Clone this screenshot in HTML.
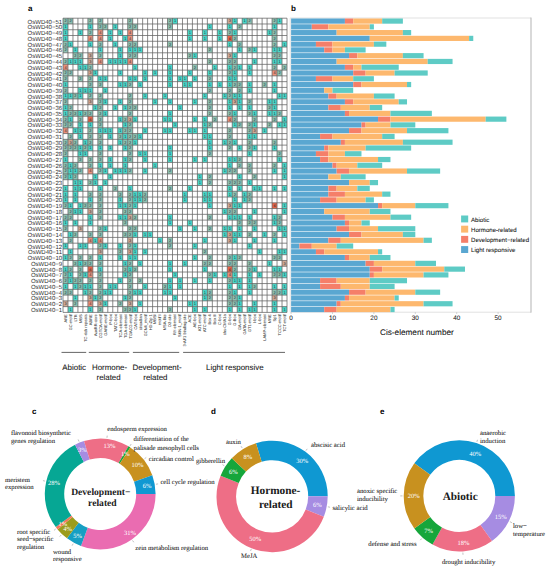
<!DOCTYPE html>
<html><head><meta charset="utf-8"><style>
html,body{margin:0;padding:0;background:#fff;}
body{width:550px;height:571px;overflow:hidden;}
svg{display:block;font-family:"Liberation Sans", sans-serif;text-rendering:geometricPrecision;}
</style></head><body>
<svg width="550" height="571" viewBox="0 0 550 571">
<rect x="63.0" y="18.2" width="224.0" height="294.2" fill="#fff"/>
<rect x="63.00" y="18.20" width="4.98" height="5.77" fill="#8cc0b0"/>
<rect x="67.98" y="18.20" width="4.98" height="5.77" fill="#8cc0b0"/>
<rect x="87.89" y="18.20" width="4.98" height="5.77" fill="#8cc0b0"/>
<rect x="97.84" y="18.20" width="4.98" height="5.77" fill="#8cc0b0"/>
<rect x="127.71" y="18.20" width="4.98" height="5.77" fill="#8cc0b0"/>
<rect x="167.53" y="18.20" width="4.98" height="5.77" fill="#8cc0b0"/>
<rect x="172.51" y="18.20" width="4.98" height="5.77" fill="#48d6c8"/>
<rect x="227.27" y="18.20" width="4.98" height="5.77" fill="#cfa894"/>
<rect x="232.24" y="18.20" width="4.98" height="5.77" fill="#48d6c8"/>
<rect x="242.20" y="18.20" width="4.98" height="5.77" fill="#48d6c8"/>
<rect x="247.18" y="18.20" width="4.98" height="5.77" fill="#8cc0b0"/>
<rect x="272.07" y="18.20" width="4.98" height="5.77" fill="#8cc0b0"/>
<rect x="277.04" y="18.20" width="4.98" height="5.77" fill="#48d6c8"/>
<rect x="63.00" y="23.97" width="4.98" height="5.77" fill="#48d6c8"/>
<rect x="87.89" y="23.97" width="4.98" height="5.77" fill="#48d6c8"/>
<rect x="97.84" y="23.97" width="4.98" height="5.77" fill="#8cc0b0"/>
<rect x="102.82" y="23.97" width="4.98" height="5.77" fill="#8cc0b0"/>
<rect x="112.78" y="23.97" width="4.98" height="5.77" fill="#48d6c8"/>
<rect x="127.71" y="23.97" width="4.98" height="5.77" fill="#8cc0b0"/>
<rect x="132.69" y="23.97" width="4.98" height="5.77" fill="#8cc0b0"/>
<rect x="167.53" y="23.97" width="4.98" height="5.77" fill="#8cc0b0"/>
<rect x="207.36" y="23.97" width="4.98" height="5.77" fill="#48d6c8"/>
<rect x="227.27" y="23.97" width="4.98" height="5.77" fill="#48d6c8"/>
<rect x="237.22" y="23.97" width="4.98" height="5.77" fill="#8cc0b0"/>
<rect x="272.07" y="23.97" width="4.98" height="5.77" fill="#48d6c8"/>
<rect x="63.00" y="29.74" width="4.98" height="5.77" fill="#48d6c8"/>
<rect x="77.93" y="29.74" width="4.98" height="5.77" fill="#48d6c8"/>
<rect x="87.89" y="29.74" width="4.98" height="5.77" fill="#8cc0b0"/>
<rect x="97.84" y="29.74" width="4.98" height="5.77" fill="#ec8f78"/>
<rect x="107.80" y="29.74" width="4.98" height="5.77" fill="#48d6c8"/>
<rect x="117.76" y="29.74" width="4.98" height="5.77" fill="#48d6c8"/>
<rect x="127.71" y="29.74" width="4.98" height="5.77" fill="#ec8f78"/>
<rect x="187.44" y="29.74" width="4.98" height="5.77" fill="#48d6c8"/>
<rect x="202.38" y="29.74" width="4.98" height="5.77" fill="#48d6c8"/>
<rect x="217.31" y="29.74" width="4.98" height="5.77" fill="#48d6c8"/>
<rect x="227.27" y="29.74" width="4.98" height="5.77" fill="#8cc0b0"/>
<rect x="232.24" y="29.74" width="4.98" height="5.77" fill="#48d6c8"/>
<rect x="267.09" y="29.74" width="4.98" height="5.77" fill="#48d6c8"/>
<rect x="272.07" y="29.74" width="4.98" height="5.77" fill="#8cc0b0"/>
<rect x="63.00" y="35.51" width="4.98" height="5.77" fill="#48d6c8"/>
<rect x="87.89" y="35.51" width="4.98" height="5.77" fill="#ec8f78"/>
<rect x="97.84" y="35.51" width="4.98" height="5.77" fill="#ec8f78"/>
<rect x="107.80" y="35.51" width="4.98" height="5.77" fill="#48d6c8"/>
<rect x="122.73" y="35.51" width="4.98" height="5.77" fill="#48d6c8"/>
<rect x="127.71" y="35.51" width="4.98" height="5.77" fill="#ec8f78"/>
<rect x="187.44" y="35.51" width="4.98" height="5.77" fill="#48d6c8"/>
<rect x="202.38" y="35.51" width="4.98" height="5.77" fill="#48d6c8"/>
<rect x="217.31" y="35.51" width="4.98" height="5.77" fill="#48d6c8"/>
<rect x="227.27" y="35.51" width="4.98" height="5.77" fill="#ea6446"/>
<rect x="232.24" y="35.51" width="4.98" height="5.77" fill="#8cc0b0"/>
<rect x="272.07" y="35.51" width="4.98" height="5.77" fill="#8cc0b0"/>
<rect x="63.00" y="41.27" width="4.98" height="5.77" fill="#8cc0b0"/>
<rect x="67.98" y="41.27" width="4.98" height="5.77" fill="#48d6c8"/>
<rect x="87.89" y="41.27" width="4.98" height="5.77" fill="#48d6c8"/>
<rect x="97.84" y="41.27" width="4.98" height="5.77" fill="#8cc0b0"/>
<rect x="112.78" y="41.27" width="4.98" height="5.77" fill="#48d6c8"/>
<rect x="127.71" y="41.27" width="4.98" height="5.77" fill="#8cc0b0"/>
<rect x="132.69" y="41.27" width="4.98" height="5.77" fill="#8cc0b0"/>
<rect x="167.53" y="41.27" width="4.98" height="5.77" fill="#8cc0b0"/>
<rect x="227.27" y="41.27" width="4.98" height="5.77" fill="#48d6c8"/>
<rect x="237.22" y="41.27" width="4.98" height="5.77" fill="#8cc0b0"/>
<rect x="272.07" y="41.27" width="4.98" height="5.77" fill="#8cc0b0"/>
<rect x="282.02" y="41.27" width="4.98" height="5.77" fill="#48d6c8"/>
<rect x="63.00" y="47.04" width="4.98" height="5.77" fill="#8cc0b0"/>
<rect x="72.96" y="47.04" width="4.98" height="5.77" fill="#48d6c8"/>
<rect x="97.84" y="47.04" width="4.98" height="5.77" fill="#48d6c8"/>
<rect x="117.76" y="47.04" width="4.98" height="5.77" fill="#48d6c8"/>
<rect x="127.71" y="47.04" width="4.98" height="5.77" fill="#48d6c8"/>
<rect x="132.69" y="47.04" width="4.98" height="5.77" fill="#48d6c8"/>
<rect x="137.67" y="47.04" width="4.98" height="5.77" fill="#48d6c8"/>
<rect x="207.36" y="47.04" width="4.98" height="5.77" fill="#8cc0b0"/>
<rect x="237.22" y="47.04" width="4.98" height="5.77" fill="#48d6c8"/>
<rect x="247.18" y="47.04" width="4.98" height="5.77" fill="#8cc0b0"/>
<rect x="252.16" y="47.04" width="4.98" height="5.77" fill="#48d6c8"/>
<rect x="272.07" y="47.04" width="4.98" height="5.77" fill="#48d6c8"/>
<rect x="277.04" y="47.04" width="4.98" height="5.77" fill="#48d6c8"/>
<rect x="72.96" y="52.81" width="4.98" height="5.77" fill="#8cc0b0"/>
<rect x="77.93" y="52.81" width="4.98" height="5.77" fill="#8cc0b0"/>
<rect x="87.89" y="52.81" width="4.98" height="5.77" fill="#cfa894"/>
<rect x="97.84" y="52.81" width="4.98" height="5.77" fill="#8cc0b0"/>
<rect x="117.76" y="52.81" width="4.98" height="5.77" fill="#48d6c8"/>
<rect x="127.71" y="52.81" width="4.98" height="5.77" fill="#8cc0b0"/>
<rect x="132.69" y="52.81" width="4.98" height="5.77" fill="#8cc0b0"/>
<rect x="187.44" y="52.81" width="4.98" height="5.77" fill="#8cc0b0"/>
<rect x="192.42" y="52.81" width="4.98" height="5.77" fill="#48d6c8"/>
<rect x="227.27" y="52.81" width="4.98" height="5.77" fill="#cfa894"/>
<rect x="232.24" y="52.81" width="4.98" height="5.77" fill="#48d6c8"/>
<rect x="272.07" y="52.81" width="4.98" height="5.77" fill="#8cc0b0"/>
<rect x="277.04" y="52.81" width="4.98" height="5.77" fill="#8cc0b0"/>
<rect x="63.00" y="58.58" width="4.98" height="5.77" fill="#8cc0b0"/>
<rect x="67.98" y="58.58" width="4.98" height="5.77" fill="#48d6c8"/>
<rect x="72.96" y="58.58" width="4.98" height="5.77" fill="#48d6c8"/>
<rect x="77.93" y="58.58" width="4.98" height="5.77" fill="#48d6c8"/>
<rect x="87.89" y="58.58" width="4.98" height="5.77" fill="#cfa894"/>
<rect x="97.84" y="58.58" width="4.98" height="5.77" fill="#ec8f78"/>
<rect x="107.80" y="58.58" width="4.98" height="5.77" fill="#48d6c8"/>
<rect x="112.78" y="58.58" width="4.98" height="5.77" fill="#48d6c8"/>
<rect x="117.76" y="58.58" width="4.98" height="5.77" fill="#48d6c8"/>
<rect x="122.73" y="58.58" width="4.98" height="5.77" fill="#48d6c8"/>
<rect x="127.71" y="58.58" width="4.98" height="5.77" fill="#ec8f78"/>
<rect x="207.36" y="58.58" width="4.98" height="5.77" fill="#8cc0b0"/>
<rect x="227.27" y="58.58" width="4.98" height="5.77" fill="#8cc0b0"/>
<rect x="232.24" y="58.58" width="4.98" height="5.77" fill="#8cc0b0"/>
<rect x="252.16" y="58.58" width="4.98" height="5.77" fill="#48d6c8"/>
<rect x="272.07" y="58.58" width="4.98" height="5.77" fill="#48d6c8"/>
<rect x="277.04" y="58.58" width="4.98" height="5.77" fill="#48d6c8"/>
<rect x="63.00" y="64.35" width="4.98" height="5.77" fill="#ec8f78"/>
<rect x="77.93" y="64.35" width="4.98" height="5.77" fill="#48d6c8"/>
<rect x="82.91" y="64.35" width="4.98" height="5.77" fill="#48d6c8"/>
<rect x="87.89" y="64.35" width="4.98" height="5.77" fill="#8cc0b0"/>
<rect x="132.69" y="64.35" width="4.98" height="5.77" fill="#48d6c8"/>
<rect x="167.53" y="64.35" width="4.98" height="5.77" fill="#48d6c8"/>
<rect x="192.42" y="64.35" width="4.98" height="5.77" fill="#8cc0b0"/>
<rect x="212.33" y="64.35" width="4.98" height="5.77" fill="#48d6c8"/>
<rect x="227.27" y="64.35" width="4.98" height="5.77" fill="#48d6c8"/>
<rect x="232.24" y="64.35" width="4.98" height="5.77" fill="#8cc0b0"/>
<rect x="237.22" y="64.35" width="4.98" height="5.77" fill="#48d6c8"/>
<rect x="247.18" y="64.35" width="4.98" height="5.77" fill="#48d6c8"/>
<rect x="272.07" y="64.35" width="4.98" height="5.77" fill="#8cc0b0"/>
<rect x="282.02" y="64.35" width="4.98" height="5.77" fill="#8cc0b0"/>
<rect x="63.00" y="70.12" width="4.98" height="5.77" fill="#8cc0b0"/>
<rect x="67.98" y="70.12" width="4.98" height="5.77" fill="#8cc0b0"/>
<rect x="87.89" y="70.12" width="4.98" height="5.77" fill="#cfa894"/>
<rect x="92.87" y="70.12" width="4.98" height="5.77" fill="#48d6c8"/>
<rect x="117.76" y="70.12" width="4.98" height="5.77" fill="#48d6c8"/>
<rect x="142.64" y="70.12" width="4.98" height="5.77" fill="#48d6c8"/>
<rect x="152.60" y="70.12" width="4.98" height="5.77" fill="#48d6c8"/>
<rect x="167.53" y="70.12" width="4.98" height="5.77" fill="#48d6c8"/>
<rect x="187.44" y="70.12" width="4.98" height="5.77" fill="#48d6c8"/>
<rect x="207.36" y="70.12" width="4.98" height="5.77" fill="#48d6c8"/>
<rect x="227.27" y="70.12" width="4.98" height="5.77" fill="#8cc0b0"/>
<rect x="232.24" y="70.12" width="4.98" height="5.77" fill="#48d6c8"/>
<rect x="247.18" y="70.12" width="4.98" height="5.77" fill="#48d6c8"/>
<rect x="272.07" y="70.12" width="4.98" height="5.77" fill="#ec8f78"/>
<rect x="277.04" y="70.12" width="4.98" height="5.77" fill="#8cc0b0"/>
<rect x="63.00" y="75.89" width="4.98" height="5.77" fill="#8cc0b0"/>
<rect x="77.93" y="75.89" width="4.98" height="5.77" fill="#8cc0b0"/>
<rect x="87.89" y="75.89" width="4.98" height="5.77" fill="#8cc0b0"/>
<rect x="97.84" y="75.89" width="4.98" height="5.77" fill="#48d6c8"/>
<rect x="102.82" y="75.89" width="4.98" height="5.77" fill="#48d6c8"/>
<rect x="127.71" y="75.89" width="4.98" height="5.77" fill="#48d6c8"/>
<rect x="132.69" y="75.89" width="4.98" height="5.77" fill="#48d6c8"/>
<rect x="142.64" y="75.89" width="4.98" height="5.77" fill="#48d6c8"/>
<rect x="167.53" y="75.89" width="4.98" height="5.77" fill="#48d6c8"/>
<rect x="177.49" y="75.89" width="4.98" height="5.77" fill="#48d6c8"/>
<rect x="182.47" y="75.89" width="4.98" height="5.77" fill="#48d6c8"/>
<rect x="192.42" y="75.89" width="4.98" height="5.77" fill="#48d6c8"/>
<rect x="207.36" y="75.89" width="4.98" height="5.77" fill="#8cc0b0"/>
<rect x="227.27" y="75.89" width="4.98" height="5.77" fill="#48d6c8"/>
<rect x="232.24" y="75.89" width="4.98" height="5.77" fill="#48d6c8"/>
<rect x="63.00" y="81.65" width="4.98" height="5.77" fill="#48d6c8"/>
<rect x="87.89" y="81.65" width="4.98" height="5.77" fill="#8cc0b0"/>
<rect x="97.84" y="81.65" width="4.98" height="5.77" fill="#8cc0b0"/>
<rect x="117.76" y="81.65" width="4.98" height="5.77" fill="#48d6c8"/>
<rect x="122.73" y="81.65" width="4.98" height="5.77" fill="#48d6c8"/>
<rect x="127.71" y="81.65" width="4.98" height="5.77" fill="#8cc0b0"/>
<rect x="137.67" y="81.65" width="4.98" height="5.77" fill="#48d6c8"/>
<rect x="167.53" y="81.65" width="4.98" height="5.77" fill="#48d6c8"/>
<rect x="182.47" y="81.65" width="4.98" height="5.77" fill="#48d6c8"/>
<rect x="187.44" y="81.65" width="4.98" height="5.77" fill="#48d6c8"/>
<rect x="207.36" y="81.65" width="4.98" height="5.77" fill="#48d6c8"/>
<rect x="217.31" y="81.65" width="4.98" height="5.77" fill="#48d6c8"/>
<rect x="227.27" y="81.65" width="4.98" height="5.77" fill="#48d6c8"/>
<rect x="232.24" y="81.65" width="4.98" height="5.77" fill="#8cc0b0"/>
<rect x="237.22" y="81.65" width="4.98" height="5.77" fill="#8cc0b0"/>
<rect x="247.18" y="81.65" width="4.98" height="5.77" fill="#48d6c8"/>
<rect x="262.11" y="81.65" width="4.98" height="5.77" fill="#8cc0b0"/>
<rect x="272.07" y="81.65" width="4.98" height="5.77" fill="#48d6c8"/>
<rect x="63.00" y="87.42" width="4.98" height="5.77" fill="#8cc0b0"/>
<rect x="77.93" y="87.42" width="4.98" height="5.77" fill="#48d6c8"/>
<rect x="82.91" y="87.42" width="4.98" height="5.77" fill="#48d6c8"/>
<rect x="87.89" y="87.42" width="4.98" height="5.77" fill="#48d6c8"/>
<rect x="102.82" y="87.42" width="4.98" height="5.77" fill="#48d6c8"/>
<rect x="207.36" y="87.42" width="4.98" height="5.77" fill="#8cc0b0"/>
<rect x="227.27" y="87.42" width="4.98" height="5.77" fill="#8cc0b0"/>
<rect x="237.22" y="87.42" width="4.98" height="5.77" fill="#8cc0b0"/>
<rect x="247.18" y="87.42" width="4.98" height="5.77" fill="#48d6c8"/>
<rect x="272.07" y="87.42" width="4.98" height="5.77" fill="#48d6c8"/>
<rect x="63.00" y="93.19" width="4.98" height="5.77" fill="#48d6c8"/>
<rect x="67.98" y="93.19" width="4.98" height="5.77" fill="#48d6c8"/>
<rect x="72.96" y="93.19" width="4.98" height="5.77" fill="#8cc0b0"/>
<rect x="77.93" y="93.19" width="4.98" height="5.77" fill="#48d6c8"/>
<rect x="87.89" y="93.19" width="4.98" height="5.77" fill="#8cc0b0"/>
<rect x="97.84" y="93.19" width="4.98" height="5.77" fill="#8cc0b0"/>
<rect x="127.71" y="93.19" width="4.98" height="5.77" fill="#8cc0b0"/>
<rect x="142.64" y="93.19" width="4.98" height="5.77" fill="#48d6c8"/>
<rect x="162.56" y="93.19" width="4.98" height="5.77" fill="#48d6c8"/>
<rect x="202.38" y="93.19" width="4.98" height="5.77" fill="#48d6c8"/>
<rect x="222.29" y="93.19" width="4.98" height="5.77" fill="#48d6c8"/>
<rect x="227.27" y="93.19" width="4.98" height="5.77" fill="#8cc0b0"/>
<rect x="232.24" y="93.19" width="4.98" height="5.77" fill="#48d6c8"/>
<rect x="237.22" y="93.19" width="4.98" height="5.77" fill="#48d6c8"/>
<rect x="277.04" y="93.19" width="4.98" height="5.77" fill="#48d6c8"/>
<rect x="282.02" y="93.19" width="4.98" height="5.77" fill="#48d6c8"/>
<rect x="63.00" y="98.96" width="4.98" height="5.77" fill="#8cc0b0"/>
<rect x="87.89" y="98.96" width="4.98" height="5.77" fill="#cfa894"/>
<rect x="97.84" y="98.96" width="4.98" height="5.77" fill="#8cc0b0"/>
<rect x="102.82" y="98.96" width="4.98" height="5.77" fill="#48d6c8"/>
<rect x="117.76" y="98.96" width="4.98" height="5.77" fill="#48d6c8"/>
<rect x="127.71" y="98.96" width="4.98" height="5.77" fill="#8cc0b0"/>
<rect x="152.60" y="98.96" width="4.98" height="5.77" fill="#48d6c8"/>
<rect x="167.53" y="98.96" width="4.98" height="5.77" fill="#48d6c8"/>
<rect x="192.42" y="98.96" width="4.98" height="5.77" fill="#48d6c8"/>
<rect x="207.36" y="98.96" width="4.98" height="5.77" fill="#8cc0b0"/>
<rect x="227.27" y="98.96" width="4.98" height="5.77" fill="#48d6c8"/>
<rect x="232.24" y="98.96" width="4.98" height="5.77" fill="#cfa894"/>
<rect x="237.22" y="98.96" width="4.98" height="5.77" fill="#48d6c8"/>
<rect x="247.18" y="98.96" width="4.98" height="5.77" fill="#8cc0b0"/>
<rect x="267.09" y="98.96" width="4.98" height="5.77" fill="#48d6c8"/>
<rect x="272.07" y="98.96" width="4.98" height="5.77" fill="#48d6c8"/>
<rect x="63.00" y="104.73" width="4.98" height="5.77" fill="#48d6c8"/>
<rect x="67.98" y="104.73" width="4.98" height="5.77" fill="#8cc0b0"/>
<rect x="92.87" y="104.73" width="4.98" height="5.77" fill="#48d6c8"/>
<rect x="97.84" y="104.73" width="4.98" height="5.77" fill="#8cc0b0"/>
<rect x="112.78" y="104.73" width="4.98" height="5.77" fill="#48d6c8"/>
<rect x="122.73" y="104.73" width="4.98" height="5.77" fill="#48d6c8"/>
<rect x="127.71" y="104.73" width="4.98" height="5.77" fill="#8cc0b0"/>
<rect x="132.69" y="104.73" width="4.98" height="5.77" fill="#8cc0b0"/>
<rect x="177.49" y="104.73" width="4.98" height="5.77" fill="#48d6c8"/>
<rect x="207.36" y="104.73" width="4.98" height="5.77" fill="#8cc0b0"/>
<rect x="227.27" y="104.73" width="4.98" height="5.77" fill="#48d6c8"/>
<rect x="237.22" y="104.73" width="4.98" height="5.77" fill="#48d6c8"/>
<rect x="247.18" y="104.73" width="4.98" height="5.77" fill="#48d6c8"/>
<rect x="267.09" y="104.73" width="4.98" height="5.77" fill="#8cc0b0"/>
<rect x="272.07" y="104.73" width="4.98" height="5.77" fill="#48d6c8"/>
<rect x="63.00" y="110.50" width="4.98" height="5.77" fill="#48d6c8"/>
<rect x="67.98" y="110.50" width="4.98" height="5.77" fill="#8cc0b0"/>
<rect x="72.96" y="110.50" width="4.98" height="5.77" fill="#8cc0b0"/>
<rect x="77.93" y="110.50" width="4.98" height="5.77" fill="#48d6c8"/>
<rect x="82.91" y="110.50" width="4.98" height="5.77" fill="#8cc0b0"/>
<rect x="87.89" y="110.50" width="4.98" height="5.77" fill="#8cc0b0"/>
<rect x="97.84" y="110.50" width="4.98" height="5.77" fill="#8cc0b0"/>
<rect x="102.82" y="110.50" width="4.98" height="5.77" fill="#48d6c8"/>
<rect x="127.71" y="110.50" width="4.98" height="5.77" fill="#8cc0b0"/>
<rect x="167.53" y="110.50" width="4.98" height="5.77" fill="#48d6c8"/>
<rect x="207.36" y="110.50" width="4.98" height="5.77" fill="#8cc0b0"/>
<rect x="227.27" y="110.50" width="4.98" height="5.77" fill="#8cc0b0"/>
<rect x="232.24" y="110.50" width="4.98" height="5.77" fill="#48d6c8"/>
<rect x="247.18" y="110.50" width="4.98" height="5.77" fill="#8cc0b0"/>
<rect x="252.16" y="110.50" width="4.98" height="5.77" fill="#48d6c8"/>
<rect x="267.09" y="110.50" width="4.98" height="5.77" fill="#48d6c8"/>
<rect x="272.07" y="110.50" width="4.98" height="5.77" fill="#48d6c8"/>
<rect x="277.04" y="110.50" width="4.98" height="5.77" fill="#8cc0b0"/>
<rect x="63.00" y="116.27" width="4.98" height="5.77" fill="#8cc0b0"/>
<rect x="67.98" y="116.27" width="4.98" height="5.77" fill="#48d6c8"/>
<rect x="77.93" y="116.27" width="4.98" height="5.77" fill="#8cc0b0"/>
<rect x="87.89" y="116.27" width="4.98" height="5.77" fill="#ea6446"/>
<rect x="97.84" y="116.27" width="4.98" height="5.77" fill="#8cc0b0"/>
<rect x="117.76" y="116.27" width="4.98" height="5.77" fill="#48d6c8"/>
<rect x="122.73" y="116.27" width="4.98" height="5.77" fill="#8cc0b0"/>
<rect x="127.71" y="116.27" width="4.98" height="5.77" fill="#cfa894"/>
<rect x="132.69" y="116.27" width="4.98" height="5.77" fill="#48d6c8"/>
<rect x="162.56" y="116.27" width="4.98" height="5.77" fill="#48d6c8"/>
<rect x="167.53" y="116.27" width="4.98" height="5.77" fill="#48d6c8"/>
<rect x="192.42" y="116.27" width="4.98" height="5.77" fill="#48d6c8"/>
<rect x="202.38" y="116.27" width="4.98" height="5.77" fill="#48d6c8"/>
<rect x="212.33" y="116.27" width="4.98" height="5.77" fill="#8cc0b0"/>
<rect x="227.27" y="116.27" width="4.98" height="5.77" fill="#ec8f78"/>
<rect x="232.24" y="116.27" width="4.98" height="5.77" fill="#8cc0b0"/>
<rect x="252.16" y="116.27" width="4.98" height="5.77" fill="#8cc0b0"/>
<rect x="272.07" y="116.27" width="4.98" height="5.77" fill="#8cc0b0"/>
<rect x="282.02" y="116.27" width="4.98" height="5.77" fill="#48d6c8"/>
<rect x="63.00" y="122.04" width="4.98" height="5.77" fill="#8cc0b0"/>
<rect x="67.98" y="122.04" width="4.98" height="5.77" fill="#8cc0b0"/>
<rect x="77.93" y="122.04" width="4.98" height="5.77" fill="#48d6c8"/>
<rect x="87.89" y="122.04" width="4.98" height="5.77" fill="#48d6c8"/>
<rect x="97.84" y="122.04" width="4.98" height="5.77" fill="#8cc0b0"/>
<rect x="122.73" y="122.04" width="4.98" height="5.77" fill="#48d6c8"/>
<rect x="127.71" y="122.04" width="4.98" height="5.77" fill="#8cc0b0"/>
<rect x="172.51" y="122.04" width="4.98" height="5.77" fill="#48d6c8"/>
<rect x="202.38" y="122.04" width="4.98" height="5.77" fill="#48d6c8"/>
<rect x="207.36" y="122.04" width="4.98" height="5.77" fill="#8cc0b0"/>
<rect x="232.24" y="122.04" width="4.98" height="5.77" fill="#48d6c8"/>
<rect x="237.22" y="122.04" width="4.98" height="5.77" fill="#8cc0b0"/>
<rect x="247.18" y="122.04" width="4.98" height="5.77" fill="#8cc0b0"/>
<rect x="252.16" y="122.04" width="4.98" height="5.77" fill="#48d6c8"/>
<rect x="267.09" y="122.04" width="4.98" height="5.77" fill="#8cc0b0"/>
<rect x="277.04" y="122.04" width="4.98" height="5.77" fill="#48d6c8"/>
<rect x="282.02" y="122.04" width="4.98" height="5.77" fill="#48d6c8"/>
<rect x="63.00" y="127.80" width="4.98" height="5.77" fill="#ec8f78"/>
<rect x="72.96" y="127.80" width="4.98" height="5.77" fill="#48d6c8"/>
<rect x="77.93" y="127.80" width="4.98" height="5.77" fill="#48d6c8"/>
<rect x="87.89" y="127.80" width="4.98" height="5.77" fill="#8cc0b0"/>
<rect x="97.84" y="127.80" width="4.98" height="5.77" fill="#48d6c8"/>
<rect x="102.82" y="127.80" width="4.98" height="5.77" fill="#48d6c8"/>
<rect x="107.80" y="127.80" width="4.98" height="5.77" fill="#48d6c8"/>
<rect x="117.76" y="127.80" width="4.98" height="5.77" fill="#48d6c8"/>
<rect x="122.73" y="127.80" width="4.98" height="5.77" fill="#8cc0b0"/>
<rect x="127.71" y="127.80" width="4.98" height="5.77" fill="#8cc0b0"/>
<rect x="142.64" y="127.80" width="4.98" height="5.77" fill="#48d6c8"/>
<rect x="162.56" y="127.80" width="4.98" height="5.77" fill="#48d6c8"/>
<rect x="167.53" y="127.80" width="4.98" height="5.77" fill="#48d6c8"/>
<rect x="187.44" y="127.80" width="4.98" height="5.77" fill="#48d6c8"/>
<rect x="192.42" y="127.80" width="4.98" height="5.77" fill="#48d6c8"/>
<rect x="202.38" y="127.80" width="4.98" height="5.77" fill="#48d6c8"/>
<rect x="227.27" y="127.80" width="4.98" height="5.77" fill="#8cc0b0"/>
<rect x="247.18" y="127.80" width="4.98" height="5.77" fill="#8cc0b0"/>
<rect x="252.16" y="127.80" width="4.98" height="5.77" fill="#cfa894"/>
<rect x="262.11" y="127.80" width="4.98" height="5.77" fill="#48d6c8"/>
<rect x="67.98" y="133.57" width="4.98" height="5.77" fill="#8cc0b0"/>
<rect x="77.93" y="133.57" width="4.98" height="5.77" fill="#48d6c8"/>
<rect x="87.89" y="133.57" width="4.98" height="5.77" fill="#8cc0b0"/>
<rect x="97.84" y="133.57" width="4.98" height="5.77" fill="#8cc0b0"/>
<rect x="107.80" y="133.57" width="4.98" height="5.77" fill="#48d6c8"/>
<rect x="117.76" y="133.57" width="4.98" height="5.77" fill="#8cc0b0"/>
<rect x="122.73" y="133.57" width="4.98" height="5.77" fill="#48d6c8"/>
<rect x="127.71" y="133.57" width="4.98" height="5.77" fill="#8cc0b0"/>
<rect x="132.69" y="133.57" width="4.98" height="5.77" fill="#8cc0b0"/>
<rect x="137.67" y="133.57" width="4.98" height="5.77" fill="#48d6c8"/>
<rect x="202.38" y="133.57" width="4.98" height="5.77" fill="#48d6c8"/>
<rect x="207.36" y="133.57" width="4.98" height="5.77" fill="#48d6c8"/>
<rect x="227.27" y="133.57" width="4.98" height="5.77" fill="#8cc0b0"/>
<rect x="247.18" y="133.57" width="4.98" height="5.77" fill="#48d6c8"/>
<rect x="252.16" y="133.57" width="4.98" height="5.77" fill="#48d6c8"/>
<rect x="63.00" y="139.34" width="4.98" height="5.77" fill="#8cc0b0"/>
<rect x="67.98" y="139.34" width="4.98" height="5.77" fill="#cfa894"/>
<rect x="72.96" y="139.34" width="4.98" height="5.77" fill="#8cc0b0"/>
<rect x="82.91" y="139.34" width="4.98" height="5.77" fill="#48d6c8"/>
<rect x="87.89" y="139.34" width="4.98" height="5.77" fill="#8cc0b0"/>
<rect x="97.84" y="139.34" width="4.98" height="5.77" fill="#8cc0b0"/>
<rect x="117.76" y="139.34" width="4.98" height="5.77" fill="#48d6c8"/>
<rect x="122.73" y="139.34" width="4.98" height="5.77" fill="#8cc0b0"/>
<rect x="127.71" y="139.34" width="4.98" height="5.77" fill="#8cc0b0"/>
<rect x="132.69" y="139.34" width="4.98" height="5.77" fill="#48d6c8"/>
<rect x="207.36" y="139.34" width="4.98" height="5.77" fill="#48d6c8"/>
<rect x="222.29" y="139.34" width="4.98" height="5.77" fill="#48d6c8"/>
<rect x="227.27" y="139.34" width="4.98" height="5.77" fill="#8cc0b0"/>
<rect x="232.24" y="139.34" width="4.98" height="5.77" fill="#48d6c8"/>
<rect x="247.18" y="139.34" width="4.98" height="5.77" fill="#8cc0b0"/>
<rect x="272.07" y="139.34" width="4.98" height="5.77" fill="#8cc0b0"/>
<rect x="63.00" y="145.11" width="4.98" height="5.77" fill="#8cc0b0"/>
<rect x="67.98" y="145.11" width="4.98" height="5.77" fill="#8cc0b0"/>
<rect x="72.96" y="145.11" width="4.98" height="5.77" fill="#8cc0b0"/>
<rect x="77.93" y="145.11" width="4.98" height="5.77" fill="#48d6c8"/>
<rect x="82.91" y="145.11" width="4.98" height="5.77" fill="#8cc0b0"/>
<rect x="87.89" y="145.11" width="4.98" height="5.77" fill="#48d6c8"/>
<rect x="97.84" y="145.11" width="4.98" height="5.77" fill="#48d6c8"/>
<rect x="107.80" y="145.11" width="4.98" height="5.77" fill="#48d6c8"/>
<rect x="122.73" y="145.11" width="4.98" height="5.77" fill="#48d6c8"/>
<rect x="127.71" y="145.11" width="4.98" height="5.77" fill="#8cc0b0"/>
<rect x="167.53" y="145.11" width="4.98" height="5.77" fill="#48d6c8"/>
<rect x="207.36" y="145.11" width="4.98" height="5.77" fill="#48d6c8"/>
<rect x="227.27" y="145.11" width="4.98" height="5.77" fill="#8cc0b0"/>
<rect x="237.22" y="145.11" width="4.98" height="5.77" fill="#48d6c8"/>
<rect x="247.18" y="145.11" width="4.98" height="5.77" fill="#8cc0b0"/>
<rect x="252.16" y="145.11" width="4.98" height="5.77" fill="#48d6c8"/>
<rect x="272.07" y="145.11" width="4.98" height="5.77" fill="#48d6c8"/>
<rect x="63.00" y="150.88" width="4.98" height="5.77" fill="#8cc0b0"/>
<rect x="77.93" y="150.88" width="4.98" height="5.77" fill="#48d6c8"/>
<rect x="82.91" y="150.88" width="4.98" height="5.77" fill="#48d6c8"/>
<rect x="97.84" y="150.88" width="4.98" height="5.77" fill="#8cc0b0"/>
<rect x="127.71" y="150.88" width="4.98" height="5.77" fill="#8cc0b0"/>
<rect x="137.67" y="150.88" width="4.98" height="5.77" fill="#48d6c8"/>
<rect x="142.64" y="150.88" width="4.98" height="5.77" fill="#48d6c8"/>
<rect x="167.53" y="150.88" width="4.98" height="5.77" fill="#48d6c8"/>
<rect x="207.36" y="150.88" width="4.98" height="5.77" fill="#8cc0b0"/>
<rect x="247.18" y="150.88" width="4.98" height="5.77" fill="#48d6c8"/>
<rect x="277.04" y="150.88" width="4.98" height="5.77" fill="#8cc0b0"/>
<rect x="63.00" y="156.65" width="4.98" height="5.77" fill="#48d6c8"/>
<rect x="77.93" y="156.65" width="4.98" height="5.77" fill="#8cc0b0"/>
<rect x="87.89" y="156.65" width="4.98" height="5.77" fill="#8cc0b0"/>
<rect x="97.84" y="156.65" width="4.98" height="5.77" fill="#8cc0b0"/>
<rect x="107.80" y="156.65" width="4.98" height="5.77" fill="#48d6c8"/>
<rect x="122.73" y="156.65" width="4.98" height="5.77" fill="#48d6c8"/>
<rect x="127.71" y="156.65" width="4.98" height="5.77" fill="#8cc0b0"/>
<rect x="142.64" y="156.65" width="4.98" height="5.77" fill="#48d6c8"/>
<rect x="167.53" y="156.65" width="4.98" height="5.77" fill="#48d6c8"/>
<rect x="192.42" y="156.65" width="4.98" height="5.77" fill="#48d6c8"/>
<rect x="202.38" y="156.65" width="4.98" height="5.77" fill="#48d6c8"/>
<rect x="227.27" y="156.65" width="4.98" height="5.77" fill="#48d6c8"/>
<rect x="232.24" y="156.65" width="4.98" height="5.77" fill="#48d6c8"/>
<rect x="237.22" y="156.65" width="4.98" height="5.77" fill="#8cc0b0"/>
<rect x="277.04" y="156.65" width="4.98" height="5.77" fill="#48d6c8"/>
<rect x="63.00" y="162.42" width="4.98" height="5.77" fill="#8cc0b0"/>
<rect x="67.98" y="162.42" width="4.98" height="5.77" fill="#48d6c8"/>
<rect x="72.96" y="162.42" width="4.98" height="5.77" fill="#8cc0b0"/>
<rect x="87.89" y="162.42" width="4.98" height="5.77" fill="#8cc0b0"/>
<rect x="97.84" y="162.42" width="4.98" height="5.77" fill="#48d6c8"/>
<rect x="107.80" y="162.42" width="4.98" height="5.77" fill="#48d6c8"/>
<rect x="122.73" y="162.42" width="4.98" height="5.77" fill="#48d6c8"/>
<rect x="152.60" y="162.42" width="4.98" height="5.77" fill="#48d6c8"/>
<rect x="227.27" y="162.42" width="4.98" height="5.77" fill="#48d6c8"/>
<rect x="237.22" y="162.42" width="4.98" height="5.77" fill="#8cc0b0"/>
<rect x="247.18" y="162.42" width="4.98" height="5.77" fill="#8cc0b0"/>
<rect x="272.07" y="162.42" width="4.98" height="5.77" fill="#8cc0b0"/>
<rect x="282.02" y="162.42" width="4.98" height="5.77" fill="#48d6c8"/>
<rect x="63.00" y="168.18" width="4.98" height="5.77" fill="#8cc0b0"/>
<rect x="67.98" y="168.18" width="4.98" height="5.77" fill="#48d6c8"/>
<rect x="72.96" y="168.18" width="4.98" height="5.77" fill="#48d6c8"/>
<rect x="77.93" y="168.18" width="4.98" height="5.77" fill="#8cc0b0"/>
<rect x="87.89" y="168.18" width="4.98" height="5.77" fill="#ec8f78"/>
<rect x="97.84" y="168.18" width="4.98" height="5.77" fill="#8cc0b0"/>
<rect x="102.82" y="168.18" width="4.98" height="5.77" fill="#48d6c8"/>
<rect x="112.78" y="168.18" width="4.98" height="5.77" fill="#48d6c8"/>
<rect x="117.76" y="168.18" width="4.98" height="5.77" fill="#48d6c8"/>
<rect x="122.73" y="168.18" width="4.98" height="5.77" fill="#48d6c8"/>
<rect x="127.71" y="168.18" width="4.98" height="5.77" fill="#8cc0b0"/>
<rect x="142.64" y="168.18" width="4.98" height="5.77" fill="#48d6c8"/>
<rect x="167.53" y="168.18" width="4.98" height="5.77" fill="#8cc0b0"/>
<rect x="222.29" y="168.18" width="4.98" height="5.77" fill="#48d6c8"/>
<rect x="227.27" y="168.18" width="4.98" height="5.77" fill="#8cc0b0"/>
<rect x="232.24" y="168.18" width="4.98" height="5.77" fill="#8cc0b0"/>
<rect x="247.18" y="168.18" width="4.98" height="5.77" fill="#8cc0b0"/>
<rect x="272.07" y="168.18" width="4.98" height="5.77" fill="#48d6c8"/>
<rect x="282.02" y="168.18" width="4.98" height="5.77" fill="#48d6c8"/>
<rect x="63.00" y="173.95" width="4.98" height="5.77" fill="#8cc0b0"/>
<rect x="67.98" y="173.95" width="4.98" height="5.77" fill="#48d6c8"/>
<rect x="72.96" y="173.95" width="4.98" height="5.77" fill="#8cc0b0"/>
<rect x="92.87" y="173.95" width="4.98" height="5.77" fill="#48d6c8"/>
<rect x="107.80" y="173.95" width="4.98" height="5.77" fill="#48d6c8"/>
<rect x="197.40" y="173.95" width="4.98" height="5.77" fill="#48d6c8"/>
<rect x="207.36" y="173.95" width="4.98" height="5.77" fill="#8cc0b0"/>
<rect x="237.22" y="173.95" width="4.98" height="5.77" fill="#48d6c8"/>
<rect x="252.16" y="173.95" width="4.98" height="5.77" fill="#8cc0b0"/>
<rect x="282.02" y="173.95" width="4.98" height="5.77" fill="#48d6c8"/>
<rect x="72.96" y="179.72" width="4.98" height="5.77" fill="#48d6c8"/>
<rect x="77.93" y="179.72" width="4.98" height="5.77" fill="#48d6c8"/>
<rect x="87.89" y="179.72" width="4.98" height="5.77" fill="#8cc0b0"/>
<rect x="92.87" y="179.72" width="4.98" height="5.77" fill="#48d6c8"/>
<rect x="102.82" y="179.72" width="4.98" height="5.77" fill="#48d6c8"/>
<rect x="197.40" y="179.72" width="4.98" height="5.77" fill="#48d6c8"/>
<rect x="207.36" y="179.72" width="4.98" height="5.77" fill="#8cc0b0"/>
<rect x="227.27" y="179.72" width="4.98" height="5.77" fill="#8cc0b0"/>
<rect x="232.24" y="179.72" width="4.98" height="5.77" fill="#8cc0b0"/>
<rect x="237.22" y="179.72" width="4.98" height="5.77" fill="#8cc0b0"/>
<rect x="247.18" y="179.72" width="4.98" height="5.77" fill="#48d6c8"/>
<rect x="63.00" y="185.49" width="4.98" height="5.77" fill="#48d6c8"/>
<rect x="72.96" y="185.49" width="4.98" height="5.77" fill="#48d6c8"/>
<rect x="77.93" y="185.49" width="4.98" height="5.77" fill="#48d6c8"/>
<rect x="97.84" y="185.49" width="4.98" height="5.77" fill="#48d6c8"/>
<rect x="112.78" y="185.49" width="4.98" height="5.77" fill="#8cc0b0"/>
<rect x="127.71" y="185.49" width="4.98" height="5.77" fill="#48d6c8"/>
<rect x="167.53" y="185.49" width="4.98" height="5.77" fill="#8cc0b0"/>
<rect x="187.44" y="185.49" width="4.98" height="5.77" fill="#48d6c8"/>
<rect x="227.27" y="185.49" width="4.98" height="5.77" fill="#48d6c8"/>
<rect x="237.22" y="185.49" width="4.98" height="5.77" fill="#48d6c8"/>
<rect x="252.16" y="185.49" width="4.98" height="5.77" fill="#48d6c8"/>
<rect x="257.13" y="185.49" width="4.98" height="5.77" fill="#48d6c8"/>
<rect x="272.07" y="185.49" width="4.98" height="5.77" fill="#48d6c8"/>
<rect x="282.02" y="185.49" width="4.98" height="5.77" fill="#48d6c8"/>
<rect x="63.00" y="191.26" width="4.98" height="5.77" fill="#48d6c8"/>
<rect x="72.96" y="191.26" width="4.98" height="5.77" fill="#48d6c8"/>
<rect x="87.89" y="191.26" width="4.98" height="5.77" fill="#8cc0b0"/>
<rect x="97.84" y="191.26" width="4.98" height="5.77" fill="#8cc0b0"/>
<rect x="117.76" y="191.26" width="4.98" height="5.77" fill="#8cc0b0"/>
<rect x="127.71" y="191.26" width="4.98" height="5.77" fill="#8cc0b0"/>
<rect x="132.69" y="191.26" width="4.98" height="5.77" fill="#48d6c8"/>
<rect x="137.67" y="191.26" width="4.98" height="5.77" fill="#48d6c8"/>
<rect x="142.64" y="191.26" width="4.98" height="5.77" fill="#8cc0b0"/>
<rect x="182.47" y="191.26" width="4.98" height="5.77" fill="#48d6c8"/>
<rect x="202.38" y="191.26" width="4.98" height="5.77" fill="#48d6c8"/>
<rect x="207.36" y="191.26" width="4.98" height="5.77" fill="#48d6c8"/>
<rect x="227.27" y="191.26" width="4.98" height="5.77" fill="#48d6c8"/>
<rect x="232.24" y="191.26" width="4.98" height="5.77" fill="#8cc0b0"/>
<rect x="242.20" y="191.26" width="4.98" height="5.77" fill="#48d6c8"/>
<rect x="247.18" y="191.26" width="4.98" height="5.77" fill="#8cc0b0"/>
<rect x="63.00" y="197.03" width="4.98" height="5.77" fill="#48d6c8"/>
<rect x="72.96" y="197.03" width="4.98" height="5.77" fill="#48d6c8"/>
<rect x="87.89" y="197.03" width="4.98" height="5.77" fill="#48d6c8"/>
<rect x="97.84" y="197.03" width="4.98" height="5.77" fill="#8cc0b0"/>
<rect x="117.76" y="197.03" width="4.98" height="5.77" fill="#48d6c8"/>
<rect x="127.71" y="197.03" width="4.98" height="5.77" fill="#8cc0b0"/>
<rect x="132.69" y="197.03" width="4.98" height="5.77" fill="#48d6c8"/>
<rect x="137.67" y="197.03" width="4.98" height="5.77" fill="#48d6c8"/>
<rect x="142.64" y="197.03" width="4.98" height="5.77" fill="#8cc0b0"/>
<rect x="182.47" y="197.03" width="4.98" height="5.77" fill="#48d6c8"/>
<rect x="202.38" y="197.03" width="4.98" height="5.77" fill="#48d6c8"/>
<rect x="207.36" y="197.03" width="4.98" height="5.77" fill="#48d6c8"/>
<rect x="232.24" y="197.03" width="4.98" height="5.77" fill="#48d6c8"/>
<rect x="242.20" y="197.03" width="4.98" height="5.77" fill="#48d6c8"/>
<rect x="247.18" y="197.03" width="4.98" height="5.77" fill="#8cc0b0"/>
<rect x="63.00" y="202.80" width="4.98" height="5.77" fill="#8cc0b0"/>
<rect x="67.98" y="202.80" width="4.98" height="5.77" fill="#48d6c8"/>
<rect x="77.93" y="202.80" width="4.98" height="5.77" fill="#48d6c8"/>
<rect x="82.91" y="202.80" width="4.98" height="5.77" fill="#8cc0b0"/>
<rect x="87.89" y="202.80" width="4.98" height="5.77" fill="#8cc0b0"/>
<rect x="97.84" y="202.80" width="4.98" height="5.77" fill="#8cc0b0"/>
<rect x="117.76" y="202.80" width="4.98" height="5.77" fill="#48d6c8"/>
<rect x="122.73" y="202.80" width="4.98" height="5.77" fill="#48d6c8"/>
<rect x="127.71" y="202.80" width="4.98" height="5.77" fill="#8cc0b0"/>
<rect x="132.69" y="202.80" width="4.98" height="5.77" fill="#48d6c8"/>
<rect x="207.36" y="202.80" width="4.98" height="5.77" fill="#48d6c8"/>
<rect x="227.27" y="202.80" width="4.98" height="5.77" fill="#cfa894"/>
<rect x="232.24" y="202.80" width="4.98" height="5.77" fill="#48d6c8"/>
<rect x="237.22" y="202.80" width="4.98" height="5.77" fill="#48d6c8"/>
<rect x="272.07" y="202.80" width="4.98" height="5.77" fill="#ea6446"/>
<rect x="282.02" y="202.80" width="4.98" height="5.77" fill="#48d6c8"/>
<rect x="67.98" y="208.56" width="4.98" height="5.77" fill="#8cc0b0"/>
<rect x="72.96" y="208.56" width="4.98" height="5.77" fill="#48d6c8"/>
<rect x="77.93" y="208.56" width="4.98" height="5.77" fill="#48d6c8"/>
<rect x="87.89" y="208.56" width="4.98" height="5.77" fill="#cfa894"/>
<rect x="97.84" y="208.56" width="4.98" height="5.77" fill="#8cc0b0"/>
<rect x="122.73" y="208.56" width="4.98" height="5.77" fill="#8cc0b0"/>
<rect x="127.71" y="208.56" width="4.98" height="5.77" fill="#8cc0b0"/>
<rect x="222.29" y="208.56" width="4.98" height="5.77" fill="#48d6c8"/>
<rect x="227.27" y="208.56" width="4.98" height="5.77" fill="#8cc0b0"/>
<rect x="232.24" y="208.56" width="4.98" height="5.77" fill="#8cc0b0"/>
<rect x="252.16" y="208.56" width="4.98" height="5.77" fill="#48d6c8"/>
<rect x="282.02" y="208.56" width="4.98" height="5.77" fill="#48d6c8"/>
<rect x="63.00" y="214.33" width="4.98" height="5.77" fill="#8cc0b0"/>
<rect x="67.98" y="214.33" width="4.98" height="5.77" fill="#8cc0b0"/>
<rect x="87.89" y="214.33" width="4.98" height="5.77" fill="#48d6c8"/>
<rect x="97.84" y="214.33" width="4.98" height="5.77" fill="#8cc0b0"/>
<rect x="117.76" y="214.33" width="4.98" height="5.77" fill="#48d6c8"/>
<rect x="122.73" y="214.33" width="4.98" height="5.77" fill="#48d6c8"/>
<rect x="127.71" y="214.33" width="4.98" height="5.77" fill="#cfa894"/>
<rect x="132.69" y="214.33" width="4.98" height="5.77" fill="#8cc0b0"/>
<rect x="167.53" y="214.33" width="4.98" height="5.77" fill="#48d6c8"/>
<rect x="207.36" y="214.33" width="4.98" height="5.77" fill="#8cc0b0"/>
<rect x="227.27" y="214.33" width="4.98" height="5.77" fill="#48d6c8"/>
<rect x="232.24" y="214.33" width="4.98" height="5.77" fill="#48d6c8"/>
<rect x="237.22" y="214.33" width="4.98" height="5.77" fill="#48d6c8"/>
<rect x="247.18" y="214.33" width="4.98" height="5.77" fill="#48d6c8"/>
<rect x="272.07" y="214.33" width="4.98" height="5.77" fill="#48d6c8"/>
<rect x="277.04" y="214.33" width="4.98" height="5.77" fill="#8cc0b0"/>
<rect x="63.00" y="220.10" width="4.98" height="5.77" fill="#48d6c8"/>
<rect x="72.96" y="220.10" width="4.98" height="5.77" fill="#48d6c8"/>
<rect x="87.89" y="220.10" width="4.98" height="5.77" fill="#48d6c8"/>
<rect x="122.73" y="220.10" width="4.98" height="5.77" fill="#8cc0b0"/>
<rect x="167.53" y="220.10" width="4.98" height="5.77" fill="#48d6c8"/>
<rect x="187.44" y="220.10" width="4.98" height="5.77" fill="#48d6c8"/>
<rect x="237.22" y="220.10" width="4.98" height="5.77" fill="#8cc0b0"/>
<rect x="247.18" y="220.10" width="4.98" height="5.77" fill="#8cc0b0"/>
<rect x="252.16" y="220.10" width="4.98" height="5.77" fill="#8cc0b0"/>
<rect x="272.07" y="220.10" width="4.98" height="5.77" fill="#48d6c8"/>
<rect x="277.04" y="220.10" width="4.98" height="5.77" fill="#8cc0b0"/>
<rect x="63.00" y="225.87" width="4.98" height="5.77" fill="#8cc0b0"/>
<rect x="77.93" y="225.87" width="4.98" height="5.77" fill="#cfa894"/>
<rect x="97.84" y="225.87" width="4.98" height="5.77" fill="#8cc0b0"/>
<rect x="102.82" y="225.87" width="4.98" height="5.77" fill="#48d6c8"/>
<rect x="127.71" y="225.87" width="4.98" height="5.77" fill="#8cc0b0"/>
<rect x="132.69" y="225.87" width="4.98" height="5.77" fill="#8cc0b0"/>
<rect x="177.49" y="225.87" width="4.98" height="5.77" fill="#48d6c8"/>
<rect x="192.42" y="225.87" width="4.98" height="5.77" fill="#48d6c8"/>
<rect x="207.36" y="225.87" width="4.98" height="5.77" fill="#8cc0b0"/>
<rect x="222.29" y="225.87" width="4.98" height="5.77" fill="#48d6c8"/>
<rect x="227.27" y="225.87" width="4.98" height="5.77" fill="#48d6c8"/>
<rect x="237.22" y="225.87" width="4.98" height="5.77" fill="#48d6c8"/>
<rect x="252.16" y="225.87" width="4.98" height="5.77" fill="#48d6c8"/>
<rect x="277.04" y="225.87" width="4.98" height="5.77" fill="#48d6c8"/>
<rect x="282.02" y="225.87" width="4.98" height="5.77" fill="#48d6c8"/>
<rect x="67.98" y="231.64" width="4.98" height="5.77" fill="#48d6c8"/>
<rect x="72.96" y="231.64" width="4.98" height="5.77" fill="#8cc0b0"/>
<rect x="87.89" y="231.64" width="4.98" height="5.77" fill="#8cc0b0"/>
<rect x="97.84" y="231.64" width="4.98" height="5.77" fill="#8cc0b0"/>
<rect x="122.73" y="231.64" width="4.98" height="5.77" fill="#8cc0b0"/>
<rect x="127.71" y="231.64" width="4.98" height="5.77" fill="#8cc0b0"/>
<rect x="132.69" y="231.64" width="4.98" height="5.77" fill="#48d6c8"/>
<rect x="142.64" y="231.64" width="4.98" height="5.77" fill="#48d6c8"/>
<rect x="147.62" y="231.64" width="4.98" height="5.77" fill="#48d6c8"/>
<rect x="222.29" y="231.64" width="4.98" height="5.77" fill="#48d6c8"/>
<rect x="227.27" y="231.64" width="4.98" height="5.77" fill="#cfa894"/>
<rect x="232.24" y="231.64" width="4.98" height="5.77" fill="#48d6c8"/>
<rect x="237.22" y="231.64" width="4.98" height="5.77" fill="#48d6c8"/>
<rect x="247.18" y="231.64" width="4.98" height="5.77" fill="#8cc0b0"/>
<rect x="262.11" y="231.64" width="4.98" height="5.77" fill="#48d6c8"/>
<rect x="272.07" y="231.64" width="4.98" height="5.77" fill="#8cc0b0"/>
<rect x="282.02" y="231.64" width="4.98" height="5.77" fill="#48d6c8"/>
<rect x="67.98" y="237.41" width="4.98" height="5.77" fill="#8cc0b0"/>
<rect x="87.89" y="237.41" width="4.98" height="5.77" fill="#ec8f78"/>
<rect x="92.87" y="237.41" width="4.98" height="5.77" fill="#48d6c8"/>
<rect x="97.84" y="237.41" width="4.98" height="5.77" fill="#ec8f78"/>
<rect x="127.71" y="237.41" width="4.98" height="5.77" fill="#cfa894"/>
<rect x="157.58" y="237.41" width="4.98" height="5.77" fill="#48d6c8"/>
<rect x="167.53" y="237.41" width="4.98" height="5.77" fill="#8cc0b0"/>
<rect x="202.38" y="237.41" width="4.98" height="5.77" fill="#48d6c8"/>
<rect x="227.27" y="237.41" width="4.98" height="5.77" fill="#cfa894"/>
<rect x="232.24" y="237.41" width="4.98" height="5.77" fill="#48d6c8"/>
<rect x="252.16" y="237.41" width="4.98" height="5.77" fill="#48d6c8"/>
<rect x="272.07" y="237.41" width="4.98" height="5.77" fill="#48d6c8"/>
<rect x="63.00" y="243.18" width="4.98" height="5.77" fill="#48d6c8"/>
<rect x="77.93" y="243.18" width="4.98" height="5.77" fill="#48d6c8"/>
<rect x="82.91" y="243.18" width="4.98" height="5.77" fill="#48d6c8"/>
<rect x="97.84" y="243.18" width="4.98" height="5.77" fill="#8cc0b0"/>
<rect x="102.82" y="243.18" width="4.98" height="5.77" fill="#48d6c8"/>
<rect x="117.76" y="243.18" width="4.98" height="5.77" fill="#48d6c8"/>
<rect x="127.71" y="243.18" width="4.98" height="5.77" fill="#8cc0b0"/>
<rect x="132.69" y="243.18" width="4.98" height="5.77" fill="#48d6c8"/>
<rect x="167.53" y="243.18" width="4.98" height="5.77" fill="#8cc0b0"/>
<rect x="192.42" y="243.18" width="4.98" height="5.77" fill="#48d6c8"/>
<rect x="247.18" y="243.18" width="4.98" height="5.77" fill="#48d6c8"/>
<rect x="67.98" y="248.95" width="4.98" height="5.77" fill="#48d6c8"/>
<rect x="97.84" y="248.95" width="4.98" height="5.77" fill="#cfa894"/>
<rect x="117.76" y="248.95" width="4.98" height="5.77" fill="#8cc0b0"/>
<rect x="127.71" y="248.95" width="4.98" height="5.77" fill="#cfa894"/>
<rect x="132.69" y="248.95" width="4.98" height="5.77" fill="#48d6c8"/>
<rect x="142.64" y="248.95" width="4.98" height="5.77" fill="#48d6c8"/>
<rect x="202.38" y="248.95" width="4.98" height="5.77" fill="#8cc0b0"/>
<rect x="257.13" y="248.95" width="4.98" height="5.77" fill="#48d6c8"/>
<rect x="277.04" y="248.95" width="4.98" height="5.77" fill="#48d6c8"/>
<rect x="282.02" y="248.95" width="4.98" height="5.77" fill="#48d6c8"/>
<rect x="63.00" y="254.71" width="4.98" height="5.77" fill="#48d6c8"/>
<rect x="67.98" y="254.71" width="4.98" height="5.77" fill="#8cc0b0"/>
<rect x="77.93" y="254.71" width="4.98" height="5.77" fill="#8cc0b0"/>
<rect x="87.89" y="254.71" width="4.98" height="5.77" fill="#8cc0b0"/>
<rect x="97.84" y="254.71" width="4.98" height="5.77" fill="#48d6c8"/>
<rect x="117.76" y="254.71" width="4.98" height="5.77" fill="#48d6c8"/>
<rect x="127.71" y="254.71" width="4.98" height="5.77" fill="#48d6c8"/>
<rect x="132.69" y="254.71" width="4.98" height="5.77" fill="#48d6c8"/>
<rect x="192.42" y="254.71" width="4.98" height="5.77" fill="#48d6c8"/>
<rect x="207.36" y="254.71" width="4.98" height="5.77" fill="#8cc0b0"/>
<rect x="227.27" y="254.71" width="4.98" height="5.77" fill="#8cc0b0"/>
<rect x="232.24" y="254.71" width="4.98" height="5.77" fill="#48d6c8"/>
<rect x="237.22" y="254.71" width="4.98" height="5.77" fill="#8cc0b0"/>
<rect x="272.07" y="254.71" width="4.98" height="5.77" fill="#8cc0b0"/>
<rect x="277.04" y="254.71" width="4.98" height="5.77" fill="#8cc0b0"/>
<rect x="72.96" y="260.48" width="4.98" height="5.77" fill="#8cc0b0"/>
<rect x="77.93" y="260.48" width="4.98" height="5.77" fill="#48d6c8"/>
<rect x="82.91" y="260.48" width="4.98" height="5.77" fill="#8cc0b0"/>
<rect x="87.89" y="260.48" width="4.98" height="5.77" fill="#8cc0b0"/>
<rect x="97.84" y="260.48" width="4.98" height="5.77" fill="#8cc0b0"/>
<rect x="122.73" y="260.48" width="4.98" height="5.77" fill="#48d6c8"/>
<rect x="127.71" y="260.48" width="4.98" height="5.77" fill="#8cc0b0"/>
<rect x="137.67" y="260.48" width="4.98" height="5.77" fill="#48d6c8"/>
<rect x="167.53" y="260.48" width="4.98" height="5.77" fill="#48d6c8"/>
<rect x="182.47" y="260.48" width="4.98" height="5.77" fill="#48d6c8"/>
<rect x="202.38" y="260.48" width="4.98" height="5.77" fill="#8cc0b0"/>
<rect x="207.36" y="260.48" width="4.98" height="5.77" fill="#8cc0b0"/>
<rect x="227.27" y="260.48" width="4.98" height="5.77" fill="#8cc0b0"/>
<rect x="232.24" y="260.48" width="4.98" height="5.77" fill="#8cc0b0"/>
<rect x="247.18" y="260.48" width="4.98" height="5.77" fill="#8cc0b0"/>
<rect x="267.09" y="260.48" width="4.98" height="5.77" fill="#48d6c8"/>
<rect x="282.02" y="260.48" width="4.98" height="5.77" fill="#cfa894"/>
<rect x="63.00" y="266.25" width="4.98" height="5.77" fill="#48d6c8"/>
<rect x="67.98" y="266.25" width="4.98" height="5.77" fill="#8cc0b0"/>
<rect x="77.93" y="266.25" width="4.98" height="5.77" fill="#8cc0b0"/>
<rect x="87.89" y="266.25" width="4.98" height="5.77" fill="#ea6446"/>
<rect x="97.84" y="266.25" width="4.98" height="5.77" fill="#48d6c8"/>
<rect x="122.73" y="266.25" width="4.98" height="5.77" fill="#8cc0b0"/>
<rect x="127.71" y="266.25" width="4.98" height="5.77" fill="#48d6c8"/>
<rect x="132.69" y="266.25" width="4.98" height="5.77" fill="#8cc0b0"/>
<rect x="167.53" y="266.25" width="4.98" height="5.77" fill="#48d6c8"/>
<rect x="202.38" y="266.25" width="4.98" height="5.77" fill="#48d6c8"/>
<rect x="227.27" y="266.25" width="4.98" height="5.77" fill="#ea6446"/>
<rect x="232.24" y="266.25" width="4.98" height="5.77" fill="#8cc0b0"/>
<rect x="247.18" y="266.25" width="4.98" height="5.77" fill="#8cc0b0"/>
<rect x="252.16" y="266.25" width="4.98" height="5.77" fill="#48d6c8"/>
<rect x="272.07" y="266.25" width="4.98" height="5.77" fill="#48d6c8"/>
<rect x="277.04" y="266.25" width="4.98" height="5.77" fill="#48d6c8"/>
<rect x="63.00" y="272.02" width="4.98" height="5.77" fill="#8cc0b0"/>
<rect x="67.98" y="272.02" width="4.98" height="5.77" fill="#48d6c8"/>
<rect x="77.93" y="272.02" width="4.98" height="5.77" fill="#8cc0b0"/>
<rect x="82.91" y="272.02" width="4.98" height="5.77" fill="#48d6c8"/>
<rect x="87.89" y="272.02" width="4.98" height="5.77" fill="#ec8f78"/>
<rect x="97.84" y="272.02" width="4.98" height="5.77" fill="#8cc0b0"/>
<rect x="122.73" y="272.02" width="4.98" height="5.77" fill="#48d6c8"/>
<rect x="127.71" y="272.02" width="4.98" height="5.77" fill="#8cc0b0"/>
<rect x="172.51" y="272.02" width="4.98" height="5.77" fill="#48d6c8"/>
<rect x="207.36" y="272.02" width="4.98" height="5.77" fill="#8cc0b0"/>
<rect x="212.33" y="272.02" width="4.98" height="5.77" fill="#48d6c8"/>
<rect x="222.29" y="272.02" width="4.98" height="5.77" fill="#48d6c8"/>
<rect x="227.27" y="272.02" width="4.98" height="5.77" fill="#ec8f78"/>
<rect x="232.24" y="272.02" width="4.98" height="5.77" fill="#48d6c8"/>
<rect x="247.18" y="272.02" width="4.98" height="5.77" fill="#48d6c8"/>
<rect x="257.13" y="272.02" width="4.98" height="5.77" fill="#48d6c8"/>
<rect x="272.07" y="272.02" width="4.98" height="5.77" fill="#8cc0b0"/>
<rect x="277.04" y="272.02" width="4.98" height="5.77" fill="#8cc0b0"/>
<rect x="282.02" y="272.02" width="4.98" height="5.77" fill="#48d6c8"/>
<rect x="63.00" y="277.79" width="4.98" height="5.77" fill="#8cc0b0"/>
<rect x="67.98" y="277.79" width="4.98" height="5.77" fill="#48d6c8"/>
<rect x="72.96" y="277.79" width="4.98" height="5.77" fill="#8cc0b0"/>
<rect x="77.93" y="277.79" width="4.98" height="5.77" fill="#8cc0b0"/>
<rect x="87.89" y="277.79" width="4.98" height="5.77" fill="#8cc0b0"/>
<rect x="97.84" y="277.79" width="4.98" height="5.77" fill="#8cc0b0"/>
<rect x="117.76" y="277.79" width="4.98" height="5.77" fill="#48d6c8"/>
<rect x="127.71" y="277.79" width="4.98" height="5.77" fill="#8cc0b0"/>
<rect x="137.67" y="277.79" width="4.98" height="5.77" fill="#8cc0b0"/>
<rect x="167.53" y="277.79" width="4.98" height="5.77" fill="#48d6c8"/>
<rect x="177.49" y="277.79" width="4.98" height="5.77" fill="#48d6c8"/>
<rect x="192.42" y="277.79" width="4.98" height="5.77" fill="#48d6c8"/>
<rect x="207.36" y="277.79" width="4.98" height="5.77" fill="#48d6c8"/>
<rect x="227.27" y="277.79" width="4.98" height="5.77" fill="#8cc0b0"/>
<rect x="232.24" y="277.79" width="4.98" height="5.77" fill="#48d6c8"/>
<rect x="237.22" y="277.79" width="4.98" height="5.77" fill="#48d6c8"/>
<rect x="247.18" y="277.79" width="4.98" height="5.77" fill="#48d6c8"/>
<rect x="63.00" y="283.56" width="4.98" height="5.77" fill="#48d6c8"/>
<rect x="72.96" y="283.56" width="4.98" height="5.77" fill="#48d6c8"/>
<rect x="77.93" y="283.56" width="4.98" height="5.77" fill="#8cc0b0"/>
<rect x="82.91" y="283.56" width="4.98" height="5.77" fill="#48d6c8"/>
<rect x="87.89" y="283.56" width="4.98" height="5.77" fill="#48d6c8"/>
<rect x="97.84" y="283.56" width="4.98" height="5.77" fill="#8cc0b0"/>
<rect x="107.80" y="283.56" width="4.98" height="5.77" fill="#48d6c8"/>
<rect x="112.78" y="283.56" width="4.98" height="5.77" fill="#48d6c8"/>
<rect x="127.71" y="283.56" width="4.98" height="5.77" fill="#8cc0b0"/>
<rect x="142.64" y="283.56" width="4.98" height="5.77" fill="#48d6c8"/>
<rect x="162.56" y="283.56" width="4.98" height="5.77" fill="#8cc0b0"/>
<rect x="167.53" y="283.56" width="4.98" height="5.77" fill="#48d6c8"/>
<rect x="177.49" y="283.56" width="4.98" height="5.77" fill="#48d6c8"/>
<rect x="227.27" y="283.56" width="4.98" height="5.77" fill="#48d6c8"/>
<rect x="237.22" y="283.56" width="4.98" height="5.77" fill="#48d6c8"/>
<rect x="247.18" y="283.56" width="4.98" height="5.77" fill="#48d6c8"/>
<rect x="252.16" y="283.56" width="4.98" height="5.77" fill="#8cc0b0"/>
<rect x="272.07" y="283.56" width="4.98" height="5.77" fill="#48d6c8"/>
<rect x="282.02" y="283.56" width="4.98" height="5.77" fill="#48d6c8"/>
<rect x="63.00" y="289.33" width="4.98" height="5.77" fill="#8cc0b0"/>
<rect x="67.98" y="289.33" width="4.98" height="5.77" fill="#8cc0b0"/>
<rect x="82.91" y="289.33" width="4.98" height="5.77" fill="#48d6c8"/>
<rect x="87.89" y="289.33" width="4.98" height="5.77" fill="#8cc0b0"/>
<rect x="97.84" y="289.33" width="4.98" height="5.77" fill="#8cc0b0"/>
<rect x="102.82" y="289.33" width="4.98" height="5.77" fill="#48d6c8"/>
<rect x="107.80" y="289.33" width="4.98" height="5.77" fill="#48d6c8"/>
<rect x="127.71" y="289.33" width="4.98" height="5.77" fill="#8cc0b0"/>
<rect x="132.69" y="289.33" width="4.98" height="5.77" fill="#48d6c8"/>
<rect x="137.67" y="289.33" width="4.98" height="5.77" fill="#48d6c8"/>
<rect x="162.56" y="289.33" width="4.98" height="5.77" fill="#48d6c8"/>
<rect x="167.53" y="289.33" width="4.98" height="5.77" fill="#48d6c8"/>
<rect x="202.38" y="289.33" width="4.98" height="5.77" fill="#48d6c8"/>
<rect x="207.36" y="289.33" width="4.98" height="5.77" fill="#8cc0b0"/>
<rect x="227.27" y="289.33" width="4.98" height="5.77" fill="#8cc0b0"/>
<rect x="232.24" y="289.33" width="4.98" height="5.77" fill="#48d6c8"/>
<rect x="247.18" y="289.33" width="4.98" height="5.77" fill="#48d6c8"/>
<rect x="272.07" y="289.33" width="4.98" height="5.77" fill="#8cc0b0"/>
<rect x="277.04" y="289.33" width="4.98" height="5.77" fill="#8cc0b0"/>
<rect x="282.02" y="289.33" width="4.98" height="5.77" fill="#48d6c8"/>
<rect x="72.96" y="295.09" width="4.98" height="5.77" fill="#48d6c8"/>
<rect x="87.89" y="295.09" width="4.98" height="5.77" fill="#cfa894"/>
<rect x="92.87" y="295.09" width="4.98" height="5.77" fill="#48d6c8"/>
<rect x="97.84" y="295.09" width="4.98" height="5.77" fill="#8cc0b0"/>
<rect x="122.73" y="295.09" width="4.98" height="5.77" fill="#48d6c8"/>
<rect x="127.71" y="295.09" width="4.98" height="5.77" fill="#8cc0b0"/>
<rect x="172.51" y="295.09" width="4.98" height="5.77" fill="#48d6c8"/>
<rect x="202.38" y="295.09" width="4.98" height="5.77" fill="#48d6c8"/>
<rect x="207.36" y="295.09" width="4.98" height="5.77" fill="#8cc0b0"/>
<rect x="227.27" y="295.09" width="4.98" height="5.77" fill="#8cc0b0"/>
<rect x="232.24" y="295.09" width="4.98" height="5.77" fill="#8cc0b0"/>
<rect x="237.22" y="295.09" width="4.98" height="5.77" fill="#48d6c8"/>
<rect x="272.07" y="295.09" width="4.98" height="5.77" fill="#cfa894"/>
<rect x="63.00" y="300.86" width="4.98" height="5.77" fill="#cfa894"/>
<rect x="72.96" y="300.86" width="4.98" height="5.77" fill="#8cc0b0"/>
<rect x="87.89" y="300.86" width="4.98" height="5.77" fill="#ec8f78"/>
<rect x="97.84" y="300.86" width="4.98" height="5.77" fill="#cfa894"/>
<rect x="102.82" y="300.86" width="4.98" height="5.77" fill="#48d6c8"/>
<rect x="117.76" y="300.86" width="4.98" height="5.77" fill="#8cc0b0"/>
<rect x="127.71" y="300.86" width="4.98" height="5.77" fill="#cfa894"/>
<rect x="137.67" y="300.86" width="4.98" height="5.77" fill="#48d6c8"/>
<rect x="187.44" y="300.86" width="4.98" height="5.77" fill="#48d6c8"/>
<rect x="192.42" y="300.86" width="4.98" height="5.77" fill="#48d6c8"/>
<rect x="227.27" y="300.86" width="4.98" height="5.77" fill="#8cc0b0"/>
<rect x="232.24" y="300.86" width="4.98" height="5.77" fill="#8cc0b0"/>
<rect x="237.22" y="300.86" width="4.98" height="5.77" fill="#48d6c8"/>
<rect x="252.16" y="300.86" width="4.98" height="5.77" fill="#48d6c8"/>
<rect x="272.07" y="300.86" width="4.98" height="5.77" fill="#48d6c8"/>
<rect x="67.98" y="306.63" width="4.98" height="5.77" fill="#48d6c8"/>
<rect x="87.89" y="306.63" width="4.98" height="5.77" fill="#48d6c8"/>
<rect x="97.84" y="306.63" width="4.98" height="5.77" fill="#8cc0b0"/>
<rect x="122.73" y="306.63" width="4.98" height="5.77" fill="#8cc0b0"/>
<rect x="127.71" y="306.63" width="4.98" height="5.77" fill="#8cc0b0"/>
<rect x="132.69" y="306.63" width="4.98" height="5.77" fill="#48d6c8"/>
<rect x="167.53" y="306.63" width="4.98" height="5.77" fill="#8cc0b0"/>
<rect x="192.42" y="306.63" width="4.98" height="5.77" fill="#48d6c8"/>
<rect x="202.38" y="306.63" width="4.98" height="5.77" fill="#48d6c8"/>
<rect x="227.27" y="306.63" width="4.98" height="5.77" fill="#48d6c8"/>
<rect x="237.22" y="306.63" width="4.98" height="5.77" fill="#48d6c8"/>
<rect x="247.18" y="306.63" width="4.98" height="5.77" fill="#48d6c8"/>
<rect x="252.16" y="306.63" width="4.98" height="5.77" fill="#48d6c8"/>
<rect x="272.07" y="306.63" width="4.98" height="5.77" fill="#48d6c8"/>
<rect x="282.02" y="306.63" width="4.98" height="5.77" fill="#48d6c8"/>
<text x="65.49" y="22.48" font-size="3.9" fill="#1a2d38" text-anchor="middle">2</text>
<text x="70.47" y="22.48" font-size="3.9" fill="#1a2d38" text-anchor="middle">2</text>
<text x="90.38" y="22.48" font-size="3.9" fill="#1a2d38" text-anchor="middle">2</text>
<text x="100.33" y="22.48" font-size="3.9" fill="#1a2d38" text-anchor="middle">2</text>
<text x="130.20" y="22.48" font-size="3.9" fill="#1a2d38" text-anchor="middle">2</text>
<text x="170.02" y="22.48" font-size="3.9" fill="#1a2d38" text-anchor="middle">2</text>
<text x="175.00" y="22.48" font-size="3.9" fill="#1a2d38" text-anchor="middle">1</text>
<text x="229.76" y="22.48" font-size="3.9" fill="#1a2d38" text-anchor="middle">3</text>
<text x="234.73" y="22.48" font-size="3.9" fill="#1a2d38" text-anchor="middle">1</text>
<text x="244.69" y="22.48" font-size="3.9" fill="#1a2d38" text-anchor="middle">1</text>
<text x="249.67" y="22.48" font-size="3.9" fill="#1a2d38" text-anchor="middle">2</text>
<text x="274.56" y="22.48" font-size="3.9" fill="#1a2d38" text-anchor="middle">2</text>
<text x="279.53" y="22.48" font-size="3.9" fill="#1a2d38" text-anchor="middle">1</text>
<text x="65.49" y="28.25" font-size="3.9" fill="#1a2d38" text-anchor="middle">1</text>
<text x="90.38" y="28.25" font-size="3.9" fill="#1a2d38" text-anchor="middle">1</text>
<text x="100.33" y="28.25" font-size="3.9" fill="#1a2d38" text-anchor="middle">2</text>
<text x="105.31" y="28.25" font-size="3.9" fill="#1a2d38" text-anchor="middle">2</text>
<text x="115.27" y="28.25" font-size="3.9" fill="#1a2d38" text-anchor="middle">1</text>
<text x="130.20" y="28.25" font-size="3.9" fill="#1a2d38" text-anchor="middle">2</text>
<text x="135.18" y="28.25" font-size="3.9" fill="#1a2d38" text-anchor="middle">2</text>
<text x="170.02" y="28.25" font-size="3.9" fill="#1a2d38" text-anchor="middle">2</text>
<text x="209.84" y="28.25" font-size="3.9" fill="#1a2d38" text-anchor="middle">1</text>
<text x="229.76" y="28.25" font-size="3.9" fill="#1a2d38" text-anchor="middle">1</text>
<text x="239.71" y="28.25" font-size="3.9" fill="#1a2d38" text-anchor="middle">2</text>
<text x="274.56" y="28.25" font-size="3.9" fill="#1a2d38" text-anchor="middle">1</text>
<text x="65.49" y="34.02" font-size="3.9" fill="#1a2d38" text-anchor="middle">1</text>
<text x="80.42" y="34.02" font-size="3.9" fill="#1a2d38" text-anchor="middle">1</text>
<text x="90.38" y="34.02" font-size="3.9" fill="#1a2d38" text-anchor="middle">2</text>
<text x="100.33" y="34.02" font-size="3.9" fill="#1a2d38" text-anchor="middle">4</text>
<text x="110.29" y="34.02" font-size="3.9" fill="#1a2d38" text-anchor="middle">1</text>
<text x="120.24" y="34.02" font-size="3.9" fill="#1a2d38" text-anchor="middle">1</text>
<text x="130.20" y="34.02" font-size="3.9" fill="#1a2d38" text-anchor="middle">4</text>
<text x="189.93" y="34.02" font-size="3.9" fill="#1a2d38" text-anchor="middle">1</text>
<text x="204.87" y="34.02" font-size="3.9" fill="#1a2d38" text-anchor="middle">1</text>
<text x="219.80" y="34.02" font-size="3.9" fill="#1a2d38" text-anchor="middle">1</text>
<text x="229.76" y="34.02" font-size="3.9" fill="#1a2d38" text-anchor="middle">2</text>
<text x="234.73" y="34.02" font-size="3.9" fill="#1a2d38" text-anchor="middle">1</text>
<text x="269.58" y="34.02" font-size="3.9" fill="#1a2d38" text-anchor="middle">1</text>
<text x="274.56" y="34.02" font-size="3.9" fill="#1a2d38" text-anchor="middle">2</text>
<text x="65.49" y="39.79" font-size="3.9" fill="#1a2d38" text-anchor="middle">1</text>
<text x="90.38" y="39.79" font-size="3.9" fill="#1a2d38" text-anchor="middle">4</text>
<text x="100.33" y="39.79" font-size="3.9" fill="#1a2d38" text-anchor="middle">4</text>
<text x="110.29" y="39.79" font-size="3.9" fill="#1a2d38" text-anchor="middle">1</text>
<text x="125.22" y="39.79" font-size="3.9" fill="#1a2d38" text-anchor="middle">1</text>
<text x="130.20" y="39.79" font-size="3.9" fill="#1a2d38" text-anchor="middle">4</text>
<text x="189.93" y="39.79" font-size="3.9" fill="#1a2d38" text-anchor="middle">1</text>
<text x="204.87" y="39.79" font-size="3.9" fill="#1a2d38" text-anchor="middle">1</text>
<text x="219.80" y="39.79" font-size="3.9" fill="#1a2d38" text-anchor="middle">1</text>
<text x="229.76" y="39.79" font-size="3.9" fill="#1a2d38" text-anchor="middle">6</text>
<text x="234.73" y="39.79" font-size="3.9" fill="#1a2d38" text-anchor="middle">2</text>
<text x="274.56" y="39.79" font-size="3.9" fill="#1a2d38" text-anchor="middle">2</text>
<text x="65.49" y="45.56" font-size="3.9" fill="#1a2d38" text-anchor="middle">2</text>
<text x="70.47" y="45.56" font-size="3.9" fill="#1a2d38" text-anchor="middle">1</text>
<text x="90.38" y="45.56" font-size="3.9" fill="#1a2d38" text-anchor="middle">1</text>
<text x="100.33" y="45.56" font-size="3.9" fill="#1a2d38" text-anchor="middle">2</text>
<text x="115.27" y="45.56" font-size="3.9" fill="#1a2d38" text-anchor="middle">1</text>
<text x="130.20" y="45.56" font-size="3.9" fill="#1a2d38" text-anchor="middle">2</text>
<text x="135.18" y="45.56" font-size="3.9" fill="#1a2d38" text-anchor="middle">2</text>
<text x="170.02" y="45.56" font-size="3.9" fill="#1a2d38" text-anchor="middle">2</text>
<text x="229.76" y="45.56" font-size="3.9" fill="#1a2d38" text-anchor="middle">1</text>
<text x="239.71" y="45.56" font-size="3.9" fill="#1a2d38" text-anchor="middle">2</text>
<text x="274.56" y="45.56" font-size="3.9" fill="#1a2d38" text-anchor="middle">2</text>
<text x="284.51" y="45.56" font-size="3.9" fill="#1a2d38" text-anchor="middle">1</text>
<text x="65.49" y="51.33" font-size="3.9" fill="#1a2d38" text-anchor="middle">2</text>
<text x="75.44" y="51.33" font-size="3.9" fill="#1a2d38" text-anchor="middle">1</text>
<text x="100.33" y="51.33" font-size="3.9" fill="#1a2d38" text-anchor="middle">1</text>
<text x="120.24" y="51.33" font-size="3.9" fill="#1a2d38" text-anchor="middle">1</text>
<text x="130.20" y="51.33" font-size="3.9" fill="#1a2d38" text-anchor="middle">1</text>
<text x="135.18" y="51.33" font-size="3.9" fill="#1a2d38" text-anchor="middle">1</text>
<text x="140.16" y="51.33" font-size="3.9" fill="#1a2d38" text-anchor="middle">1</text>
<text x="209.84" y="51.33" font-size="3.9" fill="#1a2d38" text-anchor="middle">2</text>
<text x="239.71" y="51.33" font-size="3.9" fill="#1a2d38" text-anchor="middle">1</text>
<text x="249.67" y="51.33" font-size="3.9" fill="#1a2d38" text-anchor="middle">2</text>
<text x="254.64" y="51.33" font-size="3.9" fill="#1a2d38" text-anchor="middle">1</text>
<text x="274.56" y="51.33" font-size="3.9" fill="#1a2d38" text-anchor="middle">1</text>
<text x="279.53" y="51.33" font-size="3.9" fill="#1a2d38" text-anchor="middle">1</text>
<text x="75.44" y="57.10" font-size="3.9" fill="#1a2d38" text-anchor="middle">2</text>
<text x="80.42" y="57.10" font-size="3.9" fill="#1a2d38" text-anchor="middle">2</text>
<text x="90.38" y="57.10" font-size="3.9" fill="#1a2d38" text-anchor="middle">3</text>
<text x="100.33" y="57.10" font-size="3.9" fill="#1a2d38" text-anchor="middle">2</text>
<text x="120.24" y="57.10" font-size="3.9" fill="#1a2d38" text-anchor="middle">1</text>
<text x="130.20" y="57.10" font-size="3.9" fill="#1a2d38" text-anchor="middle">2</text>
<text x="135.18" y="57.10" font-size="3.9" fill="#1a2d38" text-anchor="middle">2</text>
<text x="189.93" y="57.10" font-size="3.9" fill="#1a2d38" text-anchor="middle">2</text>
<text x="194.91" y="57.10" font-size="3.9" fill="#1a2d38" text-anchor="middle">1</text>
<text x="229.76" y="57.10" font-size="3.9" fill="#1a2d38" text-anchor="middle">3</text>
<text x="234.73" y="57.10" font-size="3.9" fill="#1a2d38" text-anchor="middle">1</text>
<text x="274.56" y="57.10" font-size="3.9" fill="#1a2d38" text-anchor="middle">2</text>
<text x="279.53" y="57.10" font-size="3.9" fill="#1a2d38" text-anchor="middle">2</text>
<text x="65.49" y="62.86" font-size="3.9" fill="#1a2d38" text-anchor="middle">2</text>
<text x="70.47" y="62.86" font-size="3.9" fill="#1a2d38" text-anchor="middle">1</text>
<text x="75.44" y="62.86" font-size="3.9" fill="#1a2d38" text-anchor="middle">1</text>
<text x="80.42" y="62.86" font-size="3.9" fill="#1a2d38" text-anchor="middle">1</text>
<text x="90.38" y="62.86" font-size="3.9" fill="#1a2d38" text-anchor="middle">3</text>
<text x="100.33" y="62.86" font-size="3.9" fill="#1a2d38" text-anchor="middle">4</text>
<text x="110.29" y="62.86" font-size="3.9" fill="#1a2d38" text-anchor="middle">1</text>
<text x="115.27" y="62.86" font-size="3.9" fill="#1a2d38" text-anchor="middle">1</text>
<text x="120.24" y="62.86" font-size="3.9" fill="#1a2d38" text-anchor="middle">1</text>
<text x="125.22" y="62.86" font-size="3.9" fill="#1a2d38" text-anchor="middle">1</text>
<text x="130.20" y="62.86" font-size="3.9" fill="#1a2d38" text-anchor="middle">4</text>
<text x="209.84" y="62.86" font-size="3.9" fill="#1a2d38" text-anchor="middle">2</text>
<text x="229.76" y="62.86" font-size="3.9" fill="#1a2d38" text-anchor="middle">2</text>
<text x="234.73" y="62.86" font-size="3.9" fill="#1a2d38" text-anchor="middle">2</text>
<text x="254.64" y="62.86" font-size="3.9" fill="#1a2d38" text-anchor="middle">1</text>
<text x="274.56" y="62.86" font-size="3.9" fill="#1a2d38" text-anchor="middle">1</text>
<text x="279.53" y="62.86" font-size="3.9" fill="#1a2d38" text-anchor="middle">1</text>
<text x="65.49" y="68.63" font-size="3.9" fill="#1a2d38" text-anchor="middle">4</text>
<text x="80.42" y="68.63" font-size="3.9" fill="#1a2d38" text-anchor="middle">1</text>
<text x="85.40" y="68.63" font-size="3.9" fill="#1a2d38" text-anchor="middle">1</text>
<text x="90.38" y="68.63" font-size="3.9" fill="#1a2d38" text-anchor="middle">2</text>
<text x="135.18" y="68.63" font-size="3.9" fill="#1a2d38" text-anchor="middle">1</text>
<text x="170.02" y="68.63" font-size="3.9" fill="#1a2d38" text-anchor="middle">1</text>
<text x="194.91" y="68.63" font-size="3.9" fill="#1a2d38" text-anchor="middle">2</text>
<text x="214.82" y="68.63" font-size="3.9" fill="#1a2d38" text-anchor="middle">1</text>
<text x="229.76" y="68.63" font-size="3.9" fill="#1a2d38" text-anchor="middle">1</text>
<text x="234.73" y="68.63" font-size="3.9" fill="#1a2d38" text-anchor="middle">2</text>
<text x="239.71" y="68.63" font-size="3.9" fill="#1a2d38" text-anchor="middle">1</text>
<text x="249.67" y="68.63" font-size="3.9" fill="#1a2d38" text-anchor="middle">1</text>
<text x="274.56" y="68.63" font-size="3.9" fill="#1a2d38" text-anchor="middle">2</text>
<text x="284.51" y="68.63" font-size="3.9" fill="#1a2d38" text-anchor="middle">2</text>
<text x="65.49" y="74.40" font-size="3.9" fill="#1a2d38" text-anchor="middle">2</text>
<text x="70.47" y="74.40" font-size="3.9" fill="#1a2d38" text-anchor="middle">2</text>
<text x="90.38" y="74.40" font-size="3.9" fill="#1a2d38" text-anchor="middle">3</text>
<text x="95.36" y="74.40" font-size="3.9" fill="#1a2d38" text-anchor="middle">1</text>
<text x="120.24" y="74.40" font-size="3.9" fill="#1a2d38" text-anchor="middle">1</text>
<text x="145.13" y="74.40" font-size="3.9" fill="#1a2d38" text-anchor="middle">1</text>
<text x="155.09" y="74.40" font-size="3.9" fill="#1a2d38" text-anchor="middle">1</text>
<text x="170.02" y="74.40" font-size="3.9" fill="#1a2d38" text-anchor="middle">1</text>
<text x="189.93" y="74.40" font-size="3.9" fill="#1a2d38" text-anchor="middle">1</text>
<text x="209.84" y="74.40" font-size="3.9" fill="#1a2d38" text-anchor="middle">1</text>
<text x="229.76" y="74.40" font-size="3.9" fill="#1a2d38" text-anchor="middle">2</text>
<text x="234.73" y="74.40" font-size="3.9" fill="#1a2d38" text-anchor="middle">1</text>
<text x="249.67" y="74.40" font-size="3.9" fill="#1a2d38" text-anchor="middle">1</text>
<text x="274.56" y="74.40" font-size="3.9" fill="#1a2d38" text-anchor="middle">4</text>
<text x="279.53" y="74.40" font-size="3.9" fill="#1a2d38" text-anchor="middle">2</text>
<text x="65.49" y="80.17" font-size="3.9" fill="#1a2d38" text-anchor="middle">2</text>
<text x="80.42" y="80.17" font-size="3.9" fill="#1a2d38" text-anchor="middle">2</text>
<text x="90.38" y="80.17" font-size="3.9" fill="#1a2d38" text-anchor="middle">2</text>
<text x="100.33" y="80.17" font-size="3.9" fill="#1a2d38" text-anchor="middle">1</text>
<text x="105.31" y="80.17" font-size="3.9" fill="#1a2d38" text-anchor="middle">1</text>
<text x="130.20" y="80.17" font-size="3.9" fill="#1a2d38" text-anchor="middle">1</text>
<text x="135.18" y="80.17" font-size="3.9" fill="#1a2d38" text-anchor="middle">1</text>
<text x="145.13" y="80.17" font-size="3.9" fill="#1a2d38" text-anchor="middle">1</text>
<text x="170.02" y="80.17" font-size="3.9" fill="#1a2d38" text-anchor="middle">1</text>
<text x="179.98" y="80.17" font-size="3.9" fill="#1a2d38" text-anchor="middle">1</text>
<text x="184.96" y="80.17" font-size="3.9" fill="#1a2d38" text-anchor="middle">1</text>
<text x="194.91" y="80.17" font-size="3.9" fill="#1a2d38" text-anchor="middle">1</text>
<text x="209.84" y="80.17" font-size="3.9" fill="#1a2d38" text-anchor="middle">2</text>
<text x="229.76" y="80.17" font-size="3.9" fill="#1a2d38" text-anchor="middle">1</text>
<text x="234.73" y="80.17" font-size="3.9" fill="#1a2d38" text-anchor="middle">1</text>
<text x="65.49" y="85.94" font-size="3.9" fill="#1a2d38" text-anchor="middle">1</text>
<text x="90.38" y="85.94" font-size="3.9" fill="#1a2d38" text-anchor="middle">2</text>
<text x="100.33" y="85.94" font-size="3.9" fill="#1a2d38" text-anchor="middle">2</text>
<text x="120.24" y="85.94" font-size="3.9" fill="#1a2d38" text-anchor="middle">1</text>
<text x="125.22" y="85.94" font-size="3.9" fill="#1a2d38" text-anchor="middle">1</text>
<text x="130.20" y="85.94" font-size="3.9" fill="#1a2d38" text-anchor="middle">2</text>
<text x="140.16" y="85.94" font-size="3.9" fill="#1a2d38" text-anchor="middle">1</text>
<text x="170.02" y="85.94" font-size="3.9" fill="#1a2d38" text-anchor="middle">1</text>
<text x="184.96" y="85.94" font-size="3.9" fill="#1a2d38" text-anchor="middle">1</text>
<text x="189.93" y="85.94" font-size="3.9" fill="#1a2d38" text-anchor="middle">1</text>
<text x="209.84" y="85.94" font-size="3.9" fill="#1a2d38" text-anchor="middle">1</text>
<text x="219.80" y="85.94" font-size="3.9" fill="#1a2d38" text-anchor="middle">1</text>
<text x="229.76" y="85.94" font-size="3.9" fill="#1a2d38" text-anchor="middle">1</text>
<text x="234.73" y="85.94" font-size="3.9" fill="#1a2d38" text-anchor="middle">2</text>
<text x="239.71" y="85.94" font-size="3.9" fill="#1a2d38" text-anchor="middle">2</text>
<text x="249.67" y="85.94" font-size="3.9" fill="#1a2d38" text-anchor="middle">1</text>
<text x="264.60" y="85.94" font-size="3.9" fill="#1a2d38" text-anchor="middle">2</text>
<text x="274.56" y="85.94" font-size="3.9" fill="#1a2d38" text-anchor="middle">1</text>
<text x="65.49" y="91.71" font-size="3.9" fill="#1a2d38" text-anchor="middle">2</text>
<text x="80.42" y="91.71" font-size="3.9" fill="#1a2d38" text-anchor="middle">1</text>
<text x="85.40" y="91.71" font-size="3.9" fill="#1a2d38" text-anchor="middle">1</text>
<text x="90.38" y="91.71" font-size="3.9" fill="#1a2d38" text-anchor="middle">1</text>
<text x="105.31" y="91.71" font-size="3.9" fill="#1a2d38" text-anchor="middle">1</text>
<text x="209.84" y="91.71" font-size="3.9" fill="#1a2d38" text-anchor="middle">2</text>
<text x="229.76" y="91.71" font-size="3.9" fill="#1a2d38" text-anchor="middle">2</text>
<text x="239.71" y="91.71" font-size="3.9" fill="#1a2d38" text-anchor="middle">2</text>
<text x="249.67" y="91.71" font-size="3.9" fill="#1a2d38" text-anchor="middle">1</text>
<text x="274.56" y="91.71" font-size="3.9" fill="#1a2d38" text-anchor="middle">1</text>
<text x="65.49" y="97.48" font-size="3.9" fill="#1a2d38" text-anchor="middle">1</text>
<text x="70.47" y="97.48" font-size="3.9" fill="#1a2d38" text-anchor="middle">1</text>
<text x="75.44" y="97.48" font-size="3.9" fill="#1a2d38" text-anchor="middle">2</text>
<text x="80.42" y="97.48" font-size="3.9" fill="#1a2d38" text-anchor="middle">1</text>
<text x="90.38" y="97.48" font-size="3.9" fill="#1a2d38" text-anchor="middle">2</text>
<text x="100.33" y="97.48" font-size="3.9" fill="#1a2d38" text-anchor="middle">2</text>
<text x="130.20" y="97.48" font-size="3.9" fill="#1a2d38" text-anchor="middle">2</text>
<text x="145.13" y="97.48" font-size="3.9" fill="#1a2d38" text-anchor="middle">1</text>
<text x="165.04" y="97.48" font-size="3.9" fill="#1a2d38" text-anchor="middle">1</text>
<text x="204.87" y="97.48" font-size="3.9" fill="#1a2d38" text-anchor="middle">1</text>
<text x="224.78" y="97.48" font-size="3.9" fill="#1a2d38" text-anchor="middle">1</text>
<text x="229.76" y="97.48" font-size="3.9" fill="#1a2d38" text-anchor="middle">2</text>
<text x="234.73" y="97.48" font-size="3.9" fill="#1a2d38" text-anchor="middle">1</text>
<text x="239.71" y="97.48" font-size="3.9" fill="#1a2d38" text-anchor="middle">1</text>
<text x="279.53" y="97.48" font-size="3.9" fill="#1a2d38" text-anchor="middle">1</text>
<text x="284.51" y="97.48" font-size="3.9" fill="#1a2d38" text-anchor="middle">1</text>
<text x="65.49" y="103.25" font-size="3.9" fill="#1a2d38" text-anchor="middle">2</text>
<text x="90.38" y="103.25" font-size="3.9" fill="#1a2d38" text-anchor="middle">3</text>
<text x="100.33" y="103.25" font-size="3.9" fill="#1a2d38" text-anchor="middle">2</text>
<text x="105.31" y="103.25" font-size="3.9" fill="#1a2d38" text-anchor="middle">1</text>
<text x="120.24" y="103.25" font-size="3.9" fill="#1a2d38" text-anchor="middle">1</text>
<text x="130.20" y="103.25" font-size="3.9" fill="#1a2d38" text-anchor="middle">2</text>
<text x="155.09" y="103.25" font-size="3.9" fill="#1a2d38" text-anchor="middle">1</text>
<text x="170.02" y="103.25" font-size="3.9" fill="#1a2d38" text-anchor="middle">1</text>
<text x="194.91" y="103.25" font-size="3.9" fill="#1a2d38" text-anchor="middle">1</text>
<text x="209.84" y="103.25" font-size="3.9" fill="#1a2d38" text-anchor="middle">2</text>
<text x="229.76" y="103.25" font-size="3.9" fill="#1a2d38" text-anchor="middle">1</text>
<text x="234.73" y="103.25" font-size="3.9" fill="#1a2d38" text-anchor="middle">3</text>
<text x="239.71" y="103.25" font-size="3.9" fill="#1a2d38" text-anchor="middle">1</text>
<text x="249.67" y="103.25" font-size="3.9" fill="#1a2d38" text-anchor="middle">2</text>
<text x="269.58" y="103.25" font-size="3.9" fill="#1a2d38" text-anchor="middle">1</text>
<text x="274.56" y="103.25" font-size="3.9" fill="#1a2d38" text-anchor="middle">1</text>
<text x="65.49" y="109.01" font-size="3.9" fill="#1a2d38" text-anchor="middle">1</text>
<text x="70.47" y="109.01" font-size="3.9" fill="#1a2d38" text-anchor="middle">2</text>
<text x="95.36" y="109.01" font-size="3.9" fill="#1a2d38" text-anchor="middle">1</text>
<text x="100.33" y="109.01" font-size="3.9" fill="#1a2d38" text-anchor="middle">2</text>
<text x="115.27" y="109.01" font-size="3.9" fill="#1a2d38" text-anchor="middle">1</text>
<text x="125.22" y="109.01" font-size="3.9" fill="#1a2d38" text-anchor="middle">1</text>
<text x="130.20" y="109.01" font-size="3.9" fill="#1a2d38" text-anchor="middle">2</text>
<text x="135.18" y="109.01" font-size="3.9" fill="#1a2d38" text-anchor="middle">2</text>
<text x="179.98" y="109.01" font-size="3.9" fill="#1a2d38" text-anchor="middle">1</text>
<text x="209.84" y="109.01" font-size="3.9" fill="#1a2d38" text-anchor="middle">2</text>
<text x="229.76" y="109.01" font-size="3.9" fill="#1a2d38" text-anchor="middle">1</text>
<text x="239.71" y="109.01" font-size="3.9" fill="#1a2d38" text-anchor="middle">1</text>
<text x="249.67" y="109.01" font-size="3.9" fill="#1a2d38" text-anchor="middle">1</text>
<text x="269.58" y="109.01" font-size="3.9" fill="#1a2d38" text-anchor="middle">2</text>
<text x="274.56" y="109.01" font-size="3.9" fill="#1a2d38" text-anchor="middle">1</text>
<text x="65.49" y="114.78" font-size="3.9" fill="#1a2d38" text-anchor="middle">1</text>
<text x="70.47" y="114.78" font-size="3.9" fill="#1a2d38" text-anchor="middle">2</text>
<text x="75.44" y="114.78" font-size="3.9" fill="#1a2d38" text-anchor="middle">2</text>
<text x="80.42" y="114.78" font-size="3.9" fill="#1a2d38" text-anchor="middle">1</text>
<text x="85.40" y="114.78" font-size="3.9" fill="#1a2d38" text-anchor="middle">2</text>
<text x="90.38" y="114.78" font-size="3.9" fill="#1a2d38" text-anchor="middle">2</text>
<text x="100.33" y="114.78" font-size="3.9" fill="#1a2d38" text-anchor="middle">2</text>
<text x="105.31" y="114.78" font-size="3.9" fill="#1a2d38" text-anchor="middle">1</text>
<text x="130.20" y="114.78" font-size="3.9" fill="#1a2d38" text-anchor="middle">2</text>
<text x="170.02" y="114.78" font-size="3.9" fill="#1a2d38" text-anchor="middle">1</text>
<text x="209.84" y="114.78" font-size="3.9" fill="#1a2d38" text-anchor="middle">2</text>
<text x="229.76" y="114.78" font-size="3.9" fill="#1a2d38" text-anchor="middle">2</text>
<text x="234.73" y="114.78" font-size="3.9" fill="#1a2d38" text-anchor="middle">1</text>
<text x="249.67" y="114.78" font-size="3.9" fill="#1a2d38" text-anchor="middle">2</text>
<text x="254.64" y="114.78" font-size="3.9" fill="#1a2d38" text-anchor="middle">1</text>
<text x="269.58" y="114.78" font-size="3.9" fill="#1a2d38" text-anchor="middle">1</text>
<text x="274.56" y="114.78" font-size="3.9" fill="#1a2d38" text-anchor="middle">1</text>
<text x="279.53" y="114.78" font-size="3.9" fill="#1a2d38" text-anchor="middle">2</text>
<text x="65.49" y="120.55" font-size="3.9" fill="#1a2d38" text-anchor="middle">2</text>
<text x="70.47" y="120.55" font-size="3.9" fill="#1a2d38" text-anchor="middle">1</text>
<text x="80.42" y="120.55" font-size="3.9" fill="#1a2d38" text-anchor="middle">2</text>
<text x="90.38" y="120.55" font-size="3.9" fill="#1a2d38" text-anchor="middle">6</text>
<text x="100.33" y="120.55" font-size="3.9" fill="#1a2d38" text-anchor="middle">2</text>
<text x="120.24" y="120.55" font-size="3.9" fill="#1a2d38" text-anchor="middle">1</text>
<text x="125.22" y="120.55" font-size="3.9" fill="#1a2d38" text-anchor="middle">2</text>
<text x="130.20" y="120.55" font-size="3.9" fill="#1a2d38" text-anchor="middle">3</text>
<text x="135.18" y="120.55" font-size="3.9" fill="#1a2d38" text-anchor="middle">1</text>
<text x="165.04" y="120.55" font-size="3.9" fill="#1a2d38" text-anchor="middle">1</text>
<text x="170.02" y="120.55" font-size="3.9" fill="#1a2d38" text-anchor="middle">1</text>
<text x="194.91" y="120.55" font-size="3.9" fill="#1a2d38" text-anchor="middle">1</text>
<text x="204.87" y="120.55" font-size="3.9" fill="#1a2d38" text-anchor="middle">1</text>
<text x="214.82" y="120.55" font-size="3.9" fill="#1a2d38" text-anchor="middle">2</text>
<text x="229.76" y="120.55" font-size="3.9" fill="#1a2d38" text-anchor="middle">4</text>
<text x="234.73" y="120.55" font-size="3.9" fill="#1a2d38" text-anchor="middle">2</text>
<text x="254.64" y="120.55" font-size="3.9" fill="#1a2d38" text-anchor="middle">2</text>
<text x="274.56" y="120.55" font-size="3.9" fill="#1a2d38" text-anchor="middle">2</text>
<text x="284.51" y="120.55" font-size="3.9" fill="#1a2d38" text-anchor="middle">1</text>
<text x="65.49" y="126.32" font-size="3.9" fill="#1a2d38" text-anchor="middle">2</text>
<text x="70.47" y="126.32" font-size="3.9" fill="#1a2d38" text-anchor="middle">2</text>
<text x="80.42" y="126.32" font-size="3.9" fill="#1a2d38" text-anchor="middle">1</text>
<text x="90.38" y="126.32" font-size="3.9" fill="#1a2d38" text-anchor="middle">1</text>
<text x="100.33" y="126.32" font-size="3.9" fill="#1a2d38" text-anchor="middle">2</text>
<text x="125.22" y="126.32" font-size="3.9" fill="#1a2d38" text-anchor="middle">1</text>
<text x="130.20" y="126.32" font-size="3.9" fill="#1a2d38" text-anchor="middle">2</text>
<text x="175.00" y="126.32" font-size="3.9" fill="#1a2d38" text-anchor="middle">1</text>
<text x="204.87" y="126.32" font-size="3.9" fill="#1a2d38" text-anchor="middle">1</text>
<text x="209.84" y="126.32" font-size="3.9" fill="#1a2d38" text-anchor="middle">2</text>
<text x="234.73" y="126.32" font-size="3.9" fill="#1a2d38" text-anchor="middle">1</text>
<text x="239.71" y="126.32" font-size="3.9" fill="#1a2d38" text-anchor="middle">2</text>
<text x="249.67" y="126.32" font-size="3.9" fill="#1a2d38" text-anchor="middle">2</text>
<text x="254.64" y="126.32" font-size="3.9" fill="#1a2d38" text-anchor="middle">1</text>
<text x="269.58" y="126.32" font-size="3.9" fill="#1a2d38" text-anchor="middle">2</text>
<text x="279.53" y="126.32" font-size="3.9" fill="#1a2d38" text-anchor="middle">1</text>
<text x="284.51" y="126.32" font-size="3.9" fill="#1a2d38" text-anchor="middle">1</text>
<text x="65.49" y="132.09" font-size="3.9" fill="#1a2d38" text-anchor="middle">4</text>
<text x="75.44" y="132.09" font-size="3.9" fill="#1a2d38" text-anchor="middle">1</text>
<text x="80.42" y="132.09" font-size="3.9" fill="#1a2d38" text-anchor="middle">1</text>
<text x="90.38" y="132.09" font-size="3.9" fill="#1a2d38" text-anchor="middle">2</text>
<text x="100.33" y="132.09" font-size="3.9" fill="#1a2d38" text-anchor="middle">1</text>
<text x="105.31" y="132.09" font-size="3.9" fill="#1a2d38" text-anchor="middle">1</text>
<text x="110.29" y="132.09" font-size="3.9" fill="#1a2d38" text-anchor="middle">1</text>
<text x="120.24" y="132.09" font-size="3.9" fill="#1a2d38" text-anchor="middle">1</text>
<text x="125.22" y="132.09" font-size="3.9" fill="#1a2d38" text-anchor="middle">2</text>
<text x="130.20" y="132.09" font-size="3.9" fill="#1a2d38" text-anchor="middle">2</text>
<text x="145.13" y="132.09" font-size="3.9" fill="#1a2d38" text-anchor="middle">1</text>
<text x="165.04" y="132.09" font-size="3.9" fill="#1a2d38" text-anchor="middle">1</text>
<text x="170.02" y="132.09" font-size="3.9" fill="#1a2d38" text-anchor="middle">1</text>
<text x="189.93" y="132.09" font-size="3.9" fill="#1a2d38" text-anchor="middle">1</text>
<text x="194.91" y="132.09" font-size="3.9" fill="#1a2d38" text-anchor="middle">1</text>
<text x="204.87" y="132.09" font-size="3.9" fill="#1a2d38" text-anchor="middle">1</text>
<text x="229.76" y="132.09" font-size="3.9" fill="#1a2d38" text-anchor="middle">2</text>
<text x="249.67" y="132.09" font-size="3.9" fill="#1a2d38" text-anchor="middle">2</text>
<text x="254.64" y="132.09" font-size="3.9" fill="#1a2d38" text-anchor="middle">3</text>
<text x="264.60" y="132.09" font-size="3.9" fill="#1a2d38" text-anchor="middle">1</text>
<text x="70.47" y="137.86" font-size="3.9" fill="#1a2d38" text-anchor="middle">2</text>
<text x="80.42" y="137.86" font-size="3.9" fill="#1a2d38" text-anchor="middle">1</text>
<text x="90.38" y="137.86" font-size="3.9" fill="#1a2d38" text-anchor="middle">2</text>
<text x="100.33" y="137.86" font-size="3.9" fill="#1a2d38" text-anchor="middle">2</text>
<text x="110.29" y="137.86" font-size="3.9" fill="#1a2d38" text-anchor="middle">1</text>
<text x="120.24" y="137.86" font-size="3.9" fill="#1a2d38" text-anchor="middle">2</text>
<text x="125.22" y="137.86" font-size="3.9" fill="#1a2d38" text-anchor="middle">1</text>
<text x="130.20" y="137.86" font-size="3.9" fill="#1a2d38" text-anchor="middle">2</text>
<text x="135.18" y="137.86" font-size="3.9" fill="#1a2d38" text-anchor="middle">2</text>
<text x="140.16" y="137.86" font-size="3.9" fill="#1a2d38" text-anchor="middle">1</text>
<text x="204.87" y="137.86" font-size="3.9" fill="#1a2d38" text-anchor="middle">1</text>
<text x="209.84" y="137.86" font-size="3.9" fill="#1a2d38" text-anchor="middle">1</text>
<text x="229.76" y="137.86" font-size="3.9" fill="#1a2d38" text-anchor="middle">2</text>
<text x="249.67" y="137.86" font-size="3.9" fill="#1a2d38" text-anchor="middle">1</text>
<text x="254.64" y="137.86" font-size="3.9" fill="#1a2d38" text-anchor="middle">1</text>
<text x="65.49" y="143.63" font-size="3.9" fill="#1a2d38" text-anchor="middle">2</text>
<text x="70.47" y="143.63" font-size="3.9" fill="#1a2d38" text-anchor="middle">3</text>
<text x="75.44" y="143.63" font-size="3.9" fill="#1a2d38" text-anchor="middle">2</text>
<text x="85.40" y="143.63" font-size="3.9" fill="#1a2d38" text-anchor="middle">1</text>
<text x="90.38" y="143.63" font-size="3.9" fill="#1a2d38" text-anchor="middle">2</text>
<text x="100.33" y="143.63" font-size="3.9" fill="#1a2d38" text-anchor="middle">2</text>
<text x="120.24" y="143.63" font-size="3.9" fill="#1a2d38" text-anchor="middle">1</text>
<text x="125.22" y="143.63" font-size="3.9" fill="#1a2d38" text-anchor="middle">2</text>
<text x="130.20" y="143.63" font-size="3.9" fill="#1a2d38" text-anchor="middle">2</text>
<text x="135.18" y="143.63" font-size="3.9" fill="#1a2d38" text-anchor="middle">1</text>
<text x="209.84" y="143.63" font-size="3.9" fill="#1a2d38" text-anchor="middle">1</text>
<text x="224.78" y="143.63" font-size="3.9" fill="#1a2d38" text-anchor="middle">1</text>
<text x="229.76" y="143.63" font-size="3.9" fill="#1a2d38" text-anchor="middle">2</text>
<text x="234.73" y="143.63" font-size="3.9" fill="#1a2d38" text-anchor="middle">1</text>
<text x="249.67" y="143.63" font-size="3.9" fill="#1a2d38" text-anchor="middle">2</text>
<text x="274.56" y="143.63" font-size="3.9" fill="#1a2d38" text-anchor="middle">2</text>
<text x="65.49" y="149.39" font-size="3.9" fill="#1a2d38" text-anchor="middle">2</text>
<text x="70.47" y="149.39" font-size="3.9" fill="#1a2d38" text-anchor="middle">2</text>
<text x="75.44" y="149.39" font-size="3.9" fill="#1a2d38" text-anchor="middle">2</text>
<text x="80.42" y="149.39" font-size="3.9" fill="#1a2d38" text-anchor="middle">1</text>
<text x="85.40" y="149.39" font-size="3.9" fill="#1a2d38" text-anchor="middle">2</text>
<text x="90.38" y="149.39" font-size="3.9" fill="#1a2d38" text-anchor="middle">1</text>
<text x="100.33" y="149.39" font-size="3.9" fill="#1a2d38" text-anchor="middle">1</text>
<text x="110.29" y="149.39" font-size="3.9" fill="#1a2d38" text-anchor="middle">1</text>
<text x="125.22" y="149.39" font-size="3.9" fill="#1a2d38" text-anchor="middle">1</text>
<text x="130.20" y="149.39" font-size="3.9" fill="#1a2d38" text-anchor="middle">2</text>
<text x="170.02" y="149.39" font-size="3.9" fill="#1a2d38" text-anchor="middle">1</text>
<text x="209.84" y="149.39" font-size="3.9" fill="#1a2d38" text-anchor="middle">1</text>
<text x="229.76" y="149.39" font-size="3.9" fill="#1a2d38" text-anchor="middle">2</text>
<text x="239.71" y="149.39" font-size="3.9" fill="#1a2d38" text-anchor="middle">1</text>
<text x="249.67" y="149.39" font-size="3.9" fill="#1a2d38" text-anchor="middle">2</text>
<text x="254.64" y="149.39" font-size="3.9" fill="#1a2d38" text-anchor="middle">1</text>
<text x="274.56" y="149.39" font-size="3.9" fill="#1a2d38" text-anchor="middle">1</text>
<text x="65.49" y="155.16" font-size="3.9" fill="#1a2d38" text-anchor="middle">2</text>
<text x="80.42" y="155.16" font-size="3.9" fill="#1a2d38" text-anchor="middle">1</text>
<text x="85.40" y="155.16" font-size="3.9" fill="#1a2d38" text-anchor="middle">1</text>
<text x="100.33" y="155.16" font-size="3.9" fill="#1a2d38" text-anchor="middle">2</text>
<text x="130.20" y="155.16" font-size="3.9" fill="#1a2d38" text-anchor="middle">2</text>
<text x="140.16" y="155.16" font-size="3.9" fill="#1a2d38" text-anchor="middle">1</text>
<text x="145.13" y="155.16" font-size="3.9" fill="#1a2d38" text-anchor="middle">1</text>
<text x="170.02" y="155.16" font-size="3.9" fill="#1a2d38" text-anchor="middle">1</text>
<text x="209.84" y="155.16" font-size="3.9" fill="#1a2d38" text-anchor="middle">2</text>
<text x="249.67" y="155.16" font-size="3.9" fill="#1a2d38" text-anchor="middle">1</text>
<text x="279.53" y="155.16" font-size="3.9" fill="#1a2d38" text-anchor="middle">2</text>
<text x="65.49" y="160.93" font-size="3.9" fill="#1a2d38" text-anchor="middle">1</text>
<text x="80.42" y="160.93" font-size="3.9" fill="#1a2d38" text-anchor="middle">2</text>
<text x="90.38" y="160.93" font-size="3.9" fill="#1a2d38" text-anchor="middle">2</text>
<text x="100.33" y="160.93" font-size="3.9" fill="#1a2d38" text-anchor="middle">2</text>
<text x="110.29" y="160.93" font-size="3.9" fill="#1a2d38" text-anchor="middle">1</text>
<text x="125.22" y="160.93" font-size="3.9" fill="#1a2d38" text-anchor="middle">1</text>
<text x="130.20" y="160.93" font-size="3.9" fill="#1a2d38" text-anchor="middle">2</text>
<text x="145.13" y="160.93" font-size="3.9" fill="#1a2d38" text-anchor="middle">1</text>
<text x="170.02" y="160.93" font-size="3.9" fill="#1a2d38" text-anchor="middle">1</text>
<text x="194.91" y="160.93" font-size="3.9" fill="#1a2d38" text-anchor="middle">1</text>
<text x="204.87" y="160.93" font-size="3.9" fill="#1a2d38" text-anchor="middle">1</text>
<text x="229.76" y="160.93" font-size="3.9" fill="#1a2d38" text-anchor="middle">1</text>
<text x="234.73" y="160.93" font-size="3.9" fill="#1a2d38" text-anchor="middle">1</text>
<text x="239.71" y="160.93" font-size="3.9" fill="#1a2d38" text-anchor="middle">2</text>
<text x="279.53" y="160.93" font-size="3.9" fill="#1a2d38" text-anchor="middle">1</text>
<text x="65.49" y="166.70" font-size="3.9" fill="#1a2d38" text-anchor="middle">2</text>
<text x="70.47" y="166.70" font-size="3.9" fill="#1a2d38" text-anchor="middle">1</text>
<text x="75.44" y="166.70" font-size="3.9" fill="#1a2d38" text-anchor="middle">2</text>
<text x="90.38" y="166.70" font-size="3.9" fill="#1a2d38" text-anchor="middle">2</text>
<text x="100.33" y="166.70" font-size="3.9" fill="#1a2d38" text-anchor="middle">1</text>
<text x="110.29" y="166.70" font-size="3.9" fill="#1a2d38" text-anchor="middle">1</text>
<text x="125.22" y="166.70" font-size="3.9" fill="#1a2d38" text-anchor="middle">1</text>
<text x="155.09" y="166.70" font-size="3.9" fill="#1a2d38" text-anchor="middle">1</text>
<text x="229.76" y="166.70" font-size="3.9" fill="#1a2d38" text-anchor="middle">1</text>
<text x="239.71" y="166.70" font-size="3.9" fill="#1a2d38" text-anchor="middle">2</text>
<text x="249.67" y="166.70" font-size="3.9" fill="#1a2d38" text-anchor="middle">2</text>
<text x="274.56" y="166.70" font-size="3.9" fill="#1a2d38" text-anchor="middle">2</text>
<text x="284.51" y="166.70" font-size="3.9" fill="#1a2d38" text-anchor="middle">1</text>
<text x="65.49" y="172.47" font-size="3.9" fill="#1a2d38" text-anchor="middle">2</text>
<text x="70.47" y="172.47" font-size="3.9" fill="#1a2d38" text-anchor="middle">1</text>
<text x="75.44" y="172.47" font-size="3.9" fill="#1a2d38" text-anchor="middle">1</text>
<text x="80.42" y="172.47" font-size="3.9" fill="#1a2d38" text-anchor="middle">2</text>
<text x="90.38" y="172.47" font-size="3.9" fill="#1a2d38" text-anchor="middle">4</text>
<text x="100.33" y="172.47" font-size="3.9" fill="#1a2d38" text-anchor="middle">2</text>
<text x="105.31" y="172.47" font-size="3.9" fill="#1a2d38" text-anchor="middle">1</text>
<text x="115.27" y="172.47" font-size="3.9" fill="#1a2d38" text-anchor="middle">1</text>
<text x="120.24" y="172.47" font-size="3.9" fill="#1a2d38" text-anchor="middle">1</text>
<text x="125.22" y="172.47" font-size="3.9" fill="#1a2d38" text-anchor="middle">1</text>
<text x="130.20" y="172.47" font-size="3.9" fill="#1a2d38" text-anchor="middle">2</text>
<text x="145.13" y="172.47" font-size="3.9" fill="#1a2d38" text-anchor="middle">1</text>
<text x="170.02" y="172.47" font-size="3.9" fill="#1a2d38" text-anchor="middle">2</text>
<text x="224.78" y="172.47" font-size="3.9" fill="#1a2d38" text-anchor="middle">1</text>
<text x="229.76" y="172.47" font-size="3.9" fill="#1a2d38" text-anchor="middle">2</text>
<text x="234.73" y="172.47" font-size="3.9" fill="#1a2d38" text-anchor="middle">2</text>
<text x="249.67" y="172.47" font-size="3.9" fill="#1a2d38" text-anchor="middle">2</text>
<text x="274.56" y="172.47" font-size="3.9" fill="#1a2d38" text-anchor="middle">1</text>
<text x="284.51" y="172.47" font-size="3.9" fill="#1a2d38" text-anchor="middle">1</text>
<text x="65.49" y="178.24" font-size="3.9" fill="#1a2d38" text-anchor="middle">2</text>
<text x="70.47" y="178.24" font-size="3.9" fill="#1a2d38" text-anchor="middle">1</text>
<text x="75.44" y="178.24" font-size="3.9" fill="#1a2d38" text-anchor="middle">2</text>
<text x="95.36" y="178.24" font-size="3.9" fill="#1a2d38" text-anchor="middle">1</text>
<text x="110.29" y="178.24" font-size="3.9" fill="#1a2d38" text-anchor="middle">1</text>
<text x="199.89" y="178.24" font-size="3.9" fill="#1a2d38" text-anchor="middle">1</text>
<text x="209.84" y="178.24" font-size="3.9" fill="#1a2d38" text-anchor="middle">2</text>
<text x="239.71" y="178.24" font-size="3.9" fill="#1a2d38" text-anchor="middle">1</text>
<text x="254.64" y="178.24" font-size="3.9" fill="#1a2d38" text-anchor="middle">2</text>
<text x="284.51" y="178.24" font-size="3.9" fill="#1a2d38" text-anchor="middle">1</text>
<text x="75.44" y="184.01" font-size="3.9" fill="#1a2d38" text-anchor="middle">1</text>
<text x="80.42" y="184.01" font-size="3.9" fill="#1a2d38" text-anchor="middle">1</text>
<text x="90.38" y="184.01" font-size="3.9" fill="#1a2d38" text-anchor="middle">2</text>
<text x="95.36" y="184.01" font-size="3.9" fill="#1a2d38" text-anchor="middle">1</text>
<text x="105.31" y="184.01" font-size="3.9" fill="#1a2d38" text-anchor="middle">1</text>
<text x="199.89" y="184.01" font-size="3.9" fill="#1a2d38" text-anchor="middle">1</text>
<text x="209.84" y="184.01" font-size="3.9" fill="#1a2d38" text-anchor="middle">2</text>
<text x="229.76" y="184.01" font-size="3.9" fill="#1a2d38" text-anchor="middle">2</text>
<text x="234.73" y="184.01" font-size="3.9" fill="#1a2d38" text-anchor="middle">2</text>
<text x="239.71" y="184.01" font-size="3.9" fill="#1a2d38" text-anchor="middle">2</text>
<text x="249.67" y="184.01" font-size="3.9" fill="#1a2d38" text-anchor="middle">1</text>
<text x="65.49" y="189.77" font-size="3.9" fill="#1a2d38" text-anchor="middle">1</text>
<text x="75.44" y="189.77" font-size="3.9" fill="#1a2d38" text-anchor="middle">1</text>
<text x="80.42" y="189.77" font-size="3.9" fill="#1a2d38" text-anchor="middle">1</text>
<text x="100.33" y="189.77" font-size="3.9" fill="#1a2d38" text-anchor="middle">1</text>
<text x="115.27" y="189.77" font-size="3.9" fill="#1a2d38" text-anchor="middle">2</text>
<text x="130.20" y="189.77" font-size="3.9" fill="#1a2d38" text-anchor="middle">1</text>
<text x="170.02" y="189.77" font-size="3.9" fill="#1a2d38" text-anchor="middle">2</text>
<text x="189.93" y="189.77" font-size="3.9" fill="#1a2d38" text-anchor="middle">1</text>
<text x="229.76" y="189.77" font-size="3.9" fill="#1a2d38" text-anchor="middle">1</text>
<text x="239.71" y="189.77" font-size="3.9" fill="#1a2d38" text-anchor="middle">1</text>
<text x="254.64" y="189.77" font-size="3.9" fill="#1a2d38" text-anchor="middle">1</text>
<text x="259.62" y="189.77" font-size="3.9" fill="#1a2d38" text-anchor="middle">1</text>
<text x="274.56" y="189.77" font-size="3.9" fill="#1a2d38" text-anchor="middle">1</text>
<text x="284.51" y="189.77" font-size="3.9" fill="#1a2d38" text-anchor="middle">1</text>
<text x="65.49" y="195.54" font-size="3.9" fill="#1a2d38" text-anchor="middle">1</text>
<text x="75.44" y="195.54" font-size="3.9" fill="#1a2d38" text-anchor="middle">1</text>
<text x="90.38" y="195.54" font-size="3.9" fill="#1a2d38" text-anchor="middle">2</text>
<text x="100.33" y="195.54" font-size="3.9" fill="#1a2d38" text-anchor="middle">2</text>
<text x="120.24" y="195.54" font-size="3.9" fill="#1a2d38" text-anchor="middle">2</text>
<text x="130.20" y="195.54" font-size="3.9" fill="#1a2d38" text-anchor="middle">2</text>
<text x="135.18" y="195.54" font-size="3.9" fill="#1a2d38" text-anchor="middle">1</text>
<text x="140.16" y="195.54" font-size="3.9" fill="#1a2d38" text-anchor="middle">1</text>
<text x="145.13" y="195.54" font-size="3.9" fill="#1a2d38" text-anchor="middle">2</text>
<text x="184.96" y="195.54" font-size="3.9" fill="#1a2d38" text-anchor="middle">1</text>
<text x="204.87" y="195.54" font-size="3.9" fill="#1a2d38" text-anchor="middle">1</text>
<text x="209.84" y="195.54" font-size="3.9" fill="#1a2d38" text-anchor="middle">1</text>
<text x="229.76" y="195.54" font-size="3.9" fill="#1a2d38" text-anchor="middle">1</text>
<text x="234.73" y="195.54" font-size="3.9" fill="#1a2d38" text-anchor="middle">2</text>
<text x="244.69" y="195.54" font-size="3.9" fill="#1a2d38" text-anchor="middle">1</text>
<text x="249.67" y="195.54" font-size="3.9" fill="#1a2d38" text-anchor="middle">2</text>
<text x="65.49" y="201.31" font-size="3.9" fill="#1a2d38" text-anchor="middle">1</text>
<text x="75.44" y="201.31" font-size="3.9" fill="#1a2d38" text-anchor="middle">1</text>
<text x="90.38" y="201.31" font-size="3.9" fill="#1a2d38" text-anchor="middle">1</text>
<text x="100.33" y="201.31" font-size="3.9" fill="#1a2d38" text-anchor="middle">2</text>
<text x="120.24" y="201.31" font-size="3.9" fill="#1a2d38" text-anchor="middle">1</text>
<text x="130.20" y="201.31" font-size="3.9" fill="#1a2d38" text-anchor="middle">2</text>
<text x="135.18" y="201.31" font-size="3.9" fill="#1a2d38" text-anchor="middle">1</text>
<text x="140.16" y="201.31" font-size="3.9" fill="#1a2d38" text-anchor="middle">1</text>
<text x="145.13" y="201.31" font-size="3.9" fill="#1a2d38" text-anchor="middle">2</text>
<text x="184.96" y="201.31" font-size="3.9" fill="#1a2d38" text-anchor="middle">1</text>
<text x="204.87" y="201.31" font-size="3.9" fill="#1a2d38" text-anchor="middle">1</text>
<text x="209.84" y="201.31" font-size="3.9" fill="#1a2d38" text-anchor="middle">1</text>
<text x="234.73" y="201.31" font-size="3.9" fill="#1a2d38" text-anchor="middle">1</text>
<text x="244.69" y="201.31" font-size="3.9" fill="#1a2d38" text-anchor="middle">1</text>
<text x="249.67" y="201.31" font-size="3.9" fill="#1a2d38" text-anchor="middle">2</text>
<text x="65.49" y="207.08" font-size="3.9" fill="#1a2d38" text-anchor="middle">2</text>
<text x="70.47" y="207.08" font-size="3.9" fill="#1a2d38" text-anchor="middle">1</text>
<text x="80.42" y="207.08" font-size="3.9" fill="#1a2d38" text-anchor="middle">1</text>
<text x="85.40" y="207.08" font-size="3.9" fill="#1a2d38" text-anchor="middle">2</text>
<text x="90.38" y="207.08" font-size="3.9" fill="#1a2d38" text-anchor="middle">2</text>
<text x="100.33" y="207.08" font-size="3.9" fill="#1a2d38" text-anchor="middle">2</text>
<text x="120.24" y="207.08" font-size="3.9" fill="#1a2d38" text-anchor="middle">1</text>
<text x="125.22" y="207.08" font-size="3.9" fill="#1a2d38" text-anchor="middle">1</text>
<text x="130.20" y="207.08" font-size="3.9" fill="#1a2d38" text-anchor="middle">2</text>
<text x="135.18" y="207.08" font-size="3.9" fill="#1a2d38" text-anchor="middle">1</text>
<text x="209.84" y="207.08" font-size="3.9" fill="#1a2d38" text-anchor="middle">1</text>
<text x="229.76" y="207.08" font-size="3.9" fill="#1a2d38" text-anchor="middle">3</text>
<text x="234.73" y="207.08" font-size="3.9" fill="#1a2d38" text-anchor="middle">1</text>
<text x="239.71" y="207.08" font-size="3.9" fill="#1a2d38" text-anchor="middle">1</text>
<text x="274.56" y="207.08" font-size="3.9" fill="#1a2d38" text-anchor="middle">6</text>
<text x="284.51" y="207.08" font-size="3.9" fill="#1a2d38" text-anchor="middle">1</text>
<text x="70.47" y="212.85" font-size="3.9" fill="#1a2d38" text-anchor="middle">2</text>
<text x="75.44" y="212.85" font-size="3.9" fill="#1a2d38" text-anchor="middle">1</text>
<text x="80.42" y="212.85" font-size="3.9" fill="#1a2d38" text-anchor="middle">1</text>
<text x="90.38" y="212.85" font-size="3.9" fill="#1a2d38" text-anchor="middle">3</text>
<text x="100.33" y="212.85" font-size="3.9" fill="#1a2d38" text-anchor="middle">2</text>
<text x="125.22" y="212.85" font-size="3.9" fill="#1a2d38" text-anchor="middle">2</text>
<text x="130.20" y="212.85" font-size="3.9" fill="#1a2d38" text-anchor="middle">2</text>
<text x="224.78" y="212.85" font-size="3.9" fill="#1a2d38" text-anchor="middle">1</text>
<text x="229.76" y="212.85" font-size="3.9" fill="#1a2d38" text-anchor="middle">2</text>
<text x="234.73" y="212.85" font-size="3.9" fill="#1a2d38" text-anchor="middle">2</text>
<text x="254.64" y="212.85" font-size="3.9" fill="#1a2d38" text-anchor="middle">1</text>
<text x="284.51" y="212.85" font-size="3.9" fill="#1a2d38" text-anchor="middle">1</text>
<text x="65.49" y="218.62" font-size="3.9" fill="#1a2d38" text-anchor="middle">2</text>
<text x="70.47" y="218.62" font-size="3.9" fill="#1a2d38" text-anchor="middle">2</text>
<text x="90.38" y="218.62" font-size="3.9" fill="#1a2d38" text-anchor="middle">1</text>
<text x="100.33" y="218.62" font-size="3.9" fill="#1a2d38" text-anchor="middle">2</text>
<text x="120.24" y="218.62" font-size="3.9" fill="#1a2d38" text-anchor="middle">1</text>
<text x="125.22" y="218.62" font-size="3.9" fill="#1a2d38" text-anchor="middle">1</text>
<text x="130.20" y="218.62" font-size="3.9" fill="#1a2d38" text-anchor="middle">3</text>
<text x="135.18" y="218.62" font-size="3.9" fill="#1a2d38" text-anchor="middle">2</text>
<text x="170.02" y="218.62" font-size="3.9" fill="#1a2d38" text-anchor="middle">1</text>
<text x="209.84" y="218.62" font-size="3.9" fill="#1a2d38" text-anchor="middle">2</text>
<text x="229.76" y="218.62" font-size="3.9" fill="#1a2d38" text-anchor="middle">1</text>
<text x="234.73" y="218.62" font-size="3.9" fill="#1a2d38" text-anchor="middle">1</text>
<text x="239.71" y="218.62" font-size="3.9" fill="#1a2d38" text-anchor="middle">1</text>
<text x="249.67" y="218.62" font-size="3.9" fill="#1a2d38" text-anchor="middle">1</text>
<text x="274.56" y="218.62" font-size="3.9" fill="#1a2d38" text-anchor="middle">1</text>
<text x="279.53" y="218.62" font-size="3.9" fill="#1a2d38" text-anchor="middle">2</text>
<text x="65.49" y="224.39" font-size="3.9" fill="#1a2d38" text-anchor="middle">1</text>
<text x="75.44" y="224.39" font-size="3.9" fill="#1a2d38" text-anchor="middle">1</text>
<text x="90.38" y="224.39" font-size="3.9" fill="#1a2d38" text-anchor="middle">1</text>
<text x="125.22" y="224.39" font-size="3.9" fill="#1a2d38" text-anchor="middle">2</text>
<text x="170.02" y="224.39" font-size="3.9" fill="#1a2d38" text-anchor="middle">1</text>
<text x="189.93" y="224.39" font-size="3.9" fill="#1a2d38" text-anchor="middle">1</text>
<text x="239.71" y="224.39" font-size="3.9" fill="#1a2d38" text-anchor="middle">2</text>
<text x="249.67" y="224.39" font-size="3.9" fill="#1a2d38" text-anchor="middle">2</text>
<text x="254.64" y="224.39" font-size="3.9" fill="#1a2d38" text-anchor="middle">2</text>
<text x="274.56" y="224.39" font-size="3.9" fill="#1a2d38" text-anchor="middle">1</text>
<text x="279.53" y="224.39" font-size="3.9" fill="#1a2d38" text-anchor="middle">2</text>
<text x="65.49" y="230.15" font-size="3.9" fill="#1a2d38" text-anchor="middle">2</text>
<text x="80.42" y="230.15" font-size="3.9" fill="#1a2d38" text-anchor="middle">3</text>
<text x="100.33" y="230.15" font-size="3.9" fill="#1a2d38" text-anchor="middle">2</text>
<text x="105.31" y="230.15" font-size="3.9" fill="#1a2d38" text-anchor="middle">1</text>
<text x="130.20" y="230.15" font-size="3.9" fill="#1a2d38" text-anchor="middle">2</text>
<text x="135.18" y="230.15" font-size="3.9" fill="#1a2d38" text-anchor="middle">2</text>
<text x="179.98" y="230.15" font-size="3.9" fill="#1a2d38" text-anchor="middle">1</text>
<text x="194.91" y="230.15" font-size="3.9" fill="#1a2d38" text-anchor="middle">1</text>
<text x="209.84" y="230.15" font-size="3.9" fill="#1a2d38" text-anchor="middle">2</text>
<text x="224.78" y="230.15" font-size="3.9" fill="#1a2d38" text-anchor="middle">1</text>
<text x="229.76" y="230.15" font-size="3.9" fill="#1a2d38" text-anchor="middle">1</text>
<text x="239.71" y="230.15" font-size="3.9" fill="#1a2d38" text-anchor="middle">1</text>
<text x="254.64" y="230.15" font-size="3.9" fill="#1a2d38" text-anchor="middle">1</text>
<text x="279.53" y="230.15" font-size="3.9" fill="#1a2d38" text-anchor="middle">1</text>
<text x="284.51" y="230.15" font-size="3.9" fill="#1a2d38" text-anchor="middle">1</text>
<text x="70.47" y="235.92" font-size="3.9" fill="#1a2d38" text-anchor="middle">1</text>
<text x="75.44" y="235.92" font-size="3.9" fill="#1a2d38" text-anchor="middle">2</text>
<text x="90.38" y="235.92" font-size="3.9" fill="#1a2d38" text-anchor="middle">2</text>
<text x="100.33" y="235.92" font-size="3.9" fill="#1a2d38" text-anchor="middle">2</text>
<text x="125.22" y="235.92" font-size="3.9" fill="#1a2d38" text-anchor="middle">2</text>
<text x="130.20" y="235.92" font-size="3.9" fill="#1a2d38" text-anchor="middle">2</text>
<text x="135.18" y="235.92" font-size="3.9" fill="#1a2d38" text-anchor="middle">1</text>
<text x="145.13" y="235.92" font-size="3.9" fill="#1a2d38" text-anchor="middle">1</text>
<text x="150.11" y="235.92" font-size="3.9" fill="#1a2d38" text-anchor="middle">1</text>
<text x="224.78" y="235.92" font-size="3.9" fill="#1a2d38" text-anchor="middle">1</text>
<text x="229.76" y="235.92" font-size="3.9" fill="#1a2d38" text-anchor="middle">3</text>
<text x="234.73" y="235.92" font-size="3.9" fill="#1a2d38" text-anchor="middle">1</text>
<text x="239.71" y="235.92" font-size="3.9" fill="#1a2d38" text-anchor="middle">1</text>
<text x="249.67" y="235.92" font-size="3.9" fill="#1a2d38" text-anchor="middle">2</text>
<text x="264.60" y="235.92" font-size="3.9" fill="#1a2d38" text-anchor="middle">1</text>
<text x="274.56" y="235.92" font-size="3.9" fill="#1a2d38" text-anchor="middle">2</text>
<text x="284.51" y="235.92" font-size="3.9" fill="#1a2d38" text-anchor="middle">1</text>
<text x="70.47" y="241.69" font-size="3.9" fill="#1a2d38" text-anchor="middle">2</text>
<text x="90.38" y="241.69" font-size="3.9" fill="#1a2d38" text-anchor="middle">4</text>
<text x="95.36" y="241.69" font-size="3.9" fill="#1a2d38" text-anchor="middle">1</text>
<text x="100.33" y="241.69" font-size="3.9" fill="#1a2d38" text-anchor="middle">4</text>
<text x="130.20" y="241.69" font-size="3.9" fill="#1a2d38" text-anchor="middle">3</text>
<text x="160.07" y="241.69" font-size="3.9" fill="#1a2d38" text-anchor="middle">1</text>
<text x="170.02" y="241.69" font-size="3.9" fill="#1a2d38" text-anchor="middle">2</text>
<text x="204.87" y="241.69" font-size="3.9" fill="#1a2d38" text-anchor="middle">1</text>
<text x="229.76" y="241.69" font-size="3.9" fill="#1a2d38" text-anchor="middle">3</text>
<text x="234.73" y="241.69" font-size="3.9" fill="#1a2d38" text-anchor="middle">1</text>
<text x="254.64" y="241.69" font-size="3.9" fill="#1a2d38" text-anchor="middle">1</text>
<text x="274.56" y="241.69" font-size="3.9" fill="#1a2d38" text-anchor="middle">1</text>
<text x="65.49" y="247.46" font-size="3.9" fill="#1a2d38" text-anchor="middle">1</text>
<text x="80.42" y="247.46" font-size="3.9" fill="#1a2d38" text-anchor="middle">1</text>
<text x="85.40" y="247.46" font-size="3.9" fill="#1a2d38" text-anchor="middle">1</text>
<text x="100.33" y="247.46" font-size="3.9" fill="#1a2d38" text-anchor="middle">2</text>
<text x="105.31" y="247.46" font-size="3.9" fill="#1a2d38" text-anchor="middle">1</text>
<text x="120.24" y="247.46" font-size="3.9" fill="#1a2d38" text-anchor="middle">1</text>
<text x="130.20" y="247.46" font-size="3.9" fill="#1a2d38" text-anchor="middle">2</text>
<text x="135.18" y="247.46" font-size="3.9" fill="#1a2d38" text-anchor="middle">1</text>
<text x="170.02" y="247.46" font-size="3.9" fill="#1a2d38" text-anchor="middle">2</text>
<text x="194.91" y="247.46" font-size="3.9" fill="#1a2d38" text-anchor="middle">1</text>
<text x="249.67" y="247.46" font-size="3.9" fill="#1a2d38" text-anchor="middle">1</text>
<text x="70.47" y="253.23" font-size="3.9" fill="#1a2d38" text-anchor="middle">1</text>
<text x="100.33" y="253.23" font-size="3.9" fill="#1a2d38" text-anchor="middle">3</text>
<text x="120.24" y="253.23" font-size="3.9" fill="#1a2d38" text-anchor="middle">2</text>
<text x="130.20" y="253.23" font-size="3.9" fill="#1a2d38" text-anchor="middle">3</text>
<text x="135.18" y="253.23" font-size="3.9" fill="#1a2d38" text-anchor="middle">1</text>
<text x="145.13" y="253.23" font-size="3.9" fill="#1a2d38" text-anchor="middle">1</text>
<text x="204.87" y="253.23" font-size="3.9" fill="#1a2d38" text-anchor="middle">2</text>
<text x="259.62" y="253.23" font-size="3.9" fill="#1a2d38" text-anchor="middle">1</text>
<text x="279.53" y="253.23" font-size="3.9" fill="#1a2d38" text-anchor="middle">1</text>
<text x="284.51" y="253.23" font-size="3.9" fill="#1a2d38" text-anchor="middle">1</text>
<text x="65.49" y="259.00" font-size="3.9" fill="#1a2d38" text-anchor="middle">1</text>
<text x="70.47" y="259.00" font-size="3.9" fill="#1a2d38" text-anchor="middle">2</text>
<text x="80.42" y="259.00" font-size="3.9" fill="#1a2d38" text-anchor="middle">2</text>
<text x="90.38" y="259.00" font-size="3.9" fill="#1a2d38" text-anchor="middle">2</text>
<text x="100.33" y="259.00" font-size="3.9" fill="#1a2d38" text-anchor="middle">1</text>
<text x="120.24" y="259.00" font-size="3.9" fill="#1a2d38" text-anchor="middle">1</text>
<text x="130.20" y="259.00" font-size="3.9" fill="#1a2d38" text-anchor="middle">1</text>
<text x="135.18" y="259.00" font-size="3.9" fill="#1a2d38" text-anchor="middle">1</text>
<text x="194.91" y="259.00" font-size="3.9" fill="#1a2d38" text-anchor="middle">1</text>
<text x="209.84" y="259.00" font-size="3.9" fill="#1a2d38" text-anchor="middle">2</text>
<text x="229.76" y="259.00" font-size="3.9" fill="#1a2d38" text-anchor="middle">2</text>
<text x="234.73" y="259.00" font-size="3.9" fill="#1a2d38" text-anchor="middle">1</text>
<text x="239.71" y="259.00" font-size="3.9" fill="#1a2d38" text-anchor="middle">2</text>
<text x="274.56" y="259.00" font-size="3.9" fill="#1a2d38" text-anchor="middle">2</text>
<text x="279.53" y="259.00" font-size="3.9" fill="#1a2d38" text-anchor="middle">2</text>
<text x="75.44" y="264.77" font-size="3.9" fill="#1a2d38" text-anchor="middle">2</text>
<text x="80.42" y="264.77" font-size="3.9" fill="#1a2d38" text-anchor="middle">1</text>
<text x="85.40" y="264.77" font-size="3.9" fill="#1a2d38" text-anchor="middle">2</text>
<text x="90.38" y="264.77" font-size="3.9" fill="#1a2d38" text-anchor="middle">2</text>
<text x="100.33" y="264.77" font-size="3.9" fill="#1a2d38" text-anchor="middle">2</text>
<text x="125.22" y="264.77" font-size="3.9" fill="#1a2d38" text-anchor="middle">1</text>
<text x="130.20" y="264.77" font-size="3.9" fill="#1a2d38" text-anchor="middle">2</text>
<text x="140.16" y="264.77" font-size="3.9" fill="#1a2d38" text-anchor="middle">1</text>
<text x="170.02" y="264.77" font-size="3.9" fill="#1a2d38" text-anchor="middle">1</text>
<text x="184.96" y="264.77" font-size="3.9" fill="#1a2d38" text-anchor="middle">1</text>
<text x="204.87" y="264.77" font-size="3.9" fill="#1a2d38" text-anchor="middle">2</text>
<text x="209.84" y="264.77" font-size="3.9" fill="#1a2d38" text-anchor="middle">2</text>
<text x="229.76" y="264.77" font-size="3.9" fill="#1a2d38" text-anchor="middle">2</text>
<text x="234.73" y="264.77" font-size="3.9" fill="#1a2d38" text-anchor="middle">2</text>
<text x="249.67" y="264.77" font-size="3.9" fill="#1a2d38" text-anchor="middle">2</text>
<text x="269.58" y="264.77" font-size="3.9" fill="#1a2d38" text-anchor="middle">1</text>
<text x="284.51" y="264.77" font-size="3.9" fill="#1a2d38" text-anchor="middle">3</text>
<text x="65.49" y="270.54" font-size="3.9" fill="#1a2d38" text-anchor="middle">1</text>
<text x="70.47" y="270.54" font-size="3.9" fill="#1a2d38" text-anchor="middle">2</text>
<text x="80.42" y="270.54" font-size="3.9" fill="#1a2d38" text-anchor="middle">2</text>
<text x="90.38" y="270.54" font-size="3.9" fill="#1a2d38" text-anchor="middle">6</text>
<text x="100.33" y="270.54" font-size="3.9" fill="#1a2d38" text-anchor="middle">1</text>
<text x="125.22" y="270.54" font-size="3.9" fill="#1a2d38" text-anchor="middle">2</text>
<text x="130.20" y="270.54" font-size="3.9" fill="#1a2d38" text-anchor="middle">1</text>
<text x="135.18" y="270.54" font-size="3.9" fill="#1a2d38" text-anchor="middle">2</text>
<text x="170.02" y="270.54" font-size="3.9" fill="#1a2d38" text-anchor="middle">1</text>
<text x="204.87" y="270.54" font-size="3.9" fill="#1a2d38" text-anchor="middle">1</text>
<text x="229.76" y="270.54" font-size="3.9" fill="#1a2d38" text-anchor="middle">6</text>
<text x="234.73" y="270.54" font-size="3.9" fill="#1a2d38" text-anchor="middle">2</text>
<text x="249.67" y="270.54" font-size="3.9" fill="#1a2d38" text-anchor="middle">2</text>
<text x="254.64" y="270.54" font-size="3.9" fill="#1a2d38" text-anchor="middle">1</text>
<text x="274.56" y="270.54" font-size="3.9" fill="#1a2d38" text-anchor="middle">1</text>
<text x="279.53" y="270.54" font-size="3.9" fill="#1a2d38" text-anchor="middle">1</text>
<text x="65.49" y="276.30" font-size="3.9" fill="#1a2d38" text-anchor="middle">2</text>
<text x="70.47" y="276.30" font-size="3.9" fill="#1a2d38" text-anchor="middle">1</text>
<text x="80.42" y="276.30" font-size="3.9" fill="#1a2d38" text-anchor="middle">2</text>
<text x="85.40" y="276.30" font-size="3.9" fill="#1a2d38" text-anchor="middle">1</text>
<text x="90.38" y="276.30" font-size="3.9" fill="#1a2d38" text-anchor="middle">4</text>
<text x="100.33" y="276.30" font-size="3.9" fill="#1a2d38" text-anchor="middle">2</text>
<text x="125.22" y="276.30" font-size="3.9" fill="#1a2d38" text-anchor="middle">1</text>
<text x="130.20" y="276.30" font-size="3.9" fill="#1a2d38" text-anchor="middle">2</text>
<text x="175.00" y="276.30" font-size="3.9" fill="#1a2d38" text-anchor="middle">1</text>
<text x="209.84" y="276.30" font-size="3.9" fill="#1a2d38" text-anchor="middle">2</text>
<text x="214.82" y="276.30" font-size="3.9" fill="#1a2d38" text-anchor="middle">1</text>
<text x="224.78" y="276.30" font-size="3.9" fill="#1a2d38" text-anchor="middle">1</text>
<text x="229.76" y="276.30" font-size="3.9" fill="#1a2d38" text-anchor="middle">4</text>
<text x="234.73" y="276.30" font-size="3.9" fill="#1a2d38" text-anchor="middle">1</text>
<text x="249.67" y="276.30" font-size="3.9" fill="#1a2d38" text-anchor="middle">1</text>
<text x="259.62" y="276.30" font-size="3.9" fill="#1a2d38" text-anchor="middle">1</text>
<text x="274.56" y="276.30" font-size="3.9" fill="#1a2d38" text-anchor="middle">2</text>
<text x="279.53" y="276.30" font-size="3.9" fill="#1a2d38" text-anchor="middle">2</text>
<text x="284.51" y="276.30" font-size="3.9" fill="#1a2d38" text-anchor="middle">1</text>
<text x="65.49" y="282.07" font-size="3.9" fill="#1a2d38" text-anchor="middle">2</text>
<text x="70.47" y="282.07" font-size="3.9" fill="#1a2d38" text-anchor="middle">1</text>
<text x="75.44" y="282.07" font-size="3.9" fill="#1a2d38" text-anchor="middle">2</text>
<text x="80.42" y="282.07" font-size="3.9" fill="#1a2d38" text-anchor="middle">2</text>
<text x="90.38" y="282.07" font-size="3.9" fill="#1a2d38" text-anchor="middle">2</text>
<text x="100.33" y="282.07" font-size="3.9" fill="#1a2d38" text-anchor="middle">2</text>
<text x="120.24" y="282.07" font-size="3.9" fill="#1a2d38" text-anchor="middle">1</text>
<text x="130.20" y="282.07" font-size="3.9" fill="#1a2d38" text-anchor="middle">2</text>
<text x="140.16" y="282.07" font-size="3.9" fill="#1a2d38" text-anchor="middle">2</text>
<text x="170.02" y="282.07" font-size="3.9" fill="#1a2d38" text-anchor="middle">1</text>
<text x="179.98" y="282.07" font-size="3.9" fill="#1a2d38" text-anchor="middle">1</text>
<text x="194.91" y="282.07" font-size="3.9" fill="#1a2d38" text-anchor="middle">1</text>
<text x="209.84" y="282.07" font-size="3.9" fill="#1a2d38" text-anchor="middle">1</text>
<text x="229.76" y="282.07" font-size="3.9" fill="#1a2d38" text-anchor="middle">2</text>
<text x="234.73" y="282.07" font-size="3.9" fill="#1a2d38" text-anchor="middle">1</text>
<text x="239.71" y="282.07" font-size="3.9" fill="#1a2d38" text-anchor="middle">1</text>
<text x="249.67" y="282.07" font-size="3.9" fill="#1a2d38" text-anchor="middle">1</text>
<text x="65.49" y="287.84" font-size="3.9" fill="#1a2d38" text-anchor="middle">1</text>
<text x="75.44" y="287.84" font-size="3.9" fill="#1a2d38" text-anchor="middle">1</text>
<text x="80.42" y="287.84" font-size="3.9" fill="#1a2d38" text-anchor="middle">2</text>
<text x="85.40" y="287.84" font-size="3.9" fill="#1a2d38" text-anchor="middle">1</text>
<text x="90.38" y="287.84" font-size="3.9" fill="#1a2d38" text-anchor="middle">1</text>
<text x="100.33" y="287.84" font-size="3.9" fill="#1a2d38" text-anchor="middle">2</text>
<text x="110.29" y="287.84" font-size="3.9" fill="#1a2d38" text-anchor="middle">1</text>
<text x="115.27" y="287.84" font-size="3.9" fill="#1a2d38" text-anchor="middle">1</text>
<text x="130.20" y="287.84" font-size="3.9" fill="#1a2d38" text-anchor="middle">2</text>
<text x="145.13" y="287.84" font-size="3.9" fill="#1a2d38" text-anchor="middle">1</text>
<text x="165.04" y="287.84" font-size="3.9" fill="#1a2d38" text-anchor="middle">2</text>
<text x="170.02" y="287.84" font-size="3.9" fill="#1a2d38" text-anchor="middle">1</text>
<text x="179.98" y="287.84" font-size="3.9" fill="#1a2d38" text-anchor="middle">1</text>
<text x="229.76" y="287.84" font-size="3.9" fill="#1a2d38" text-anchor="middle">1</text>
<text x="239.71" y="287.84" font-size="3.9" fill="#1a2d38" text-anchor="middle">1</text>
<text x="249.67" y="287.84" font-size="3.9" fill="#1a2d38" text-anchor="middle">1</text>
<text x="254.64" y="287.84" font-size="3.9" fill="#1a2d38" text-anchor="middle">2</text>
<text x="274.56" y="287.84" font-size="3.9" fill="#1a2d38" text-anchor="middle">1</text>
<text x="284.51" y="287.84" font-size="3.9" fill="#1a2d38" text-anchor="middle">1</text>
<text x="65.49" y="293.61" font-size="3.9" fill="#1a2d38" text-anchor="middle">2</text>
<text x="70.47" y="293.61" font-size="3.9" fill="#1a2d38" text-anchor="middle">2</text>
<text x="85.40" y="293.61" font-size="3.9" fill="#1a2d38" text-anchor="middle">1</text>
<text x="90.38" y="293.61" font-size="3.9" fill="#1a2d38" text-anchor="middle">2</text>
<text x="100.33" y="293.61" font-size="3.9" fill="#1a2d38" text-anchor="middle">2</text>
<text x="105.31" y="293.61" font-size="3.9" fill="#1a2d38" text-anchor="middle">1</text>
<text x="110.29" y="293.61" font-size="3.9" fill="#1a2d38" text-anchor="middle">1</text>
<text x="130.20" y="293.61" font-size="3.9" fill="#1a2d38" text-anchor="middle">2</text>
<text x="135.18" y="293.61" font-size="3.9" fill="#1a2d38" text-anchor="middle">1</text>
<text x="140.16" y="293.61" font-size="3.9" fill="#1a2d38" text-anchor="middle">1</text>
<text x="165.04" y="293.61" font-size="3.9" fill="#1a2d38" text-anchor="middle">1</text>
<text x="170.02" y="293.61" font-size="3.9" fill="#1a2d38" text-anchor="middle">1</text>
<text x="204.87" y="293.61" font-size="3.9" fill="#1a2d38" text-anchor="middle">1</text>
<text x="209.84" y="293.61" font-size="3.9" fill="#1a2d38" text-anchor="middle">2</text>
<text x="229.76" y="293.61" font-size="3.9" fill="#1a2d38" text-anchor="middle">2</text>
<text x="234.73" y="293.61" font-size="3.9" fill="#1a2d38" text-anchor="middle">1</text>
<text x="249.67" y="293.61" font-size="3.9" fill="#1a2d38" text-anchor="middle">1</text>
<text x="274.56" y="293.61" font-size="3.9" fill="#1a2d38" text-anchor="middle">2</text>
<text x="279.53" y="293.61" font-size="3.9" fill="#1a2d38" text-anchor="middle">2</text>
<text x="284.51" y="293.61" font-size="3.9" fill="#1a2d38" text-anchor="middle">1</text>
<text x="75.44" y="299.38" font-size="3.9" fill="#1a2d38" text-anchor="middle">1</text>
<text x="90.38" y="299.38" font-size="3.9" fill="#1a2d38" text-anchor="middle">3</text>
<text x="95.36" y="299.38" font-size="3.9" fill="#1a2d38" text-anchor="middle">1</text>
<text x="100.33" y="299.38" font-size="3.9" fill="#1a2d38" text-anchor="middle">2</text>
<text x="125.22" y="299.38" font-size="3.9" fill="#1a2d38" text-anchor="middle">1</text>
<text x="130.20" y="299.38" font-size="3.9" fill="#1a2d38" text-anchor="middle">2</text>
<text x="175.00" y="299.38" font-size="3.9" fill="#1a2d38" text-anchor="middle">1</text>
<text x="204.87" y="299.38" font-size="3.9" fill="#1a2d38" text-anchor="middle">1</text>
<text x="209.84" y="299.38" font-size="3.9" fill="#1a2d38" text-anchor="middle">2</text>
<text x="229.76" y="299.38" font-size="3.9" fill="#1a2d38" text-anchor="middle">2</text>
<text x="234.73" y="299.38" font-size="3.9" fill="#1a2d38" text-anchor="middle">2</text>
<text x="239.71" y="299.38" font-size="3.9" fill="#1a2d38" text-anchor="middle">1</text>
<text x="274.56" y="299.38" font-size="3.9" fill="#1a2d38" text-anchor="middle">3</text>
<text x="65.49" y="305.15" font-size="3.9" fill="#1a2d38" text-anchor="middle">3</text>
<text x="75.44" y="305.15" font-size="3.9" fill="#1a2d38" text-anchor="middle">2</text>
<text x="90.38" y="305.15" font-size="3.9" fill="#1a2d38" text-anchor="middle">4</text>
<text x="100.33" y="305.15" font-size="3.9" fill="#1a2d38" text-anchor="middle">3</text>
<text x="105.31" y="305.15" font-size="3.9" fill="#1a2d38" text-anchor="middle">1</text>
<text x="120.24" y="305.15" font-size="3.9" fill="#1a2d38" text-anchor="middle">2</text>
<text x="130.20" y="305.15" font-size="3.9" fill="#1a2d38" text-anchor="middle">3</text>
<text x="140.16" y="305.15" font-size="3.9" fill="#1a2d38" text-anchor="middle">1</text>
<text x="189.93" y="305.15" font-size="3.9" fill="#1a2d38" text-anchor="middle">1</text>
<text x="194.91" y="305.15" font-size="3.9" fill="#1a2d38" text-anchor="middle">1</text>
<text x="229.76" y="305.15" font-size="3.9" fill="#1a2d38" text-anchor="middle">2</text>
<text x="234.73" y="305.15" font-size="3.9" fill="#1a2d38" text-anchor="middle">2</text>
<text x="239.71" y="305.15" font-size="3.9" fill="#1a2d38" text-anchor="middle">1</text>
<text x="254.64" y="305.15" font-size="3.9" fill="#1a2d38" text-anchor="middle">1</text>
<text x="274.56" y="305.15" font-size="3.9" fill="#1a2d38" text-anchor="middle">1</text>
<text x="70.47" y="310.92" font-size="3.9" fill="#1a2d38" text-anchor="middle">1</text>
<text x="90.38" y="310.92" font-size="3.9" fill="#1a2d38" text-anchor="middle">1</text>
<text x="100.33" y="310.92" font-size="3.9" fill="#1a2d38" text-anchor="middle">2</text>
<text x="125.22" y="310.92" font-size="3.9" fill="#1a2d38" text-anchor="middle">2</text>
<text x="130.20" y="310.92" font-size="3.9" fill="#1a2d38" text-anchor="middle">2</text>
<text x="135.18" y="310.92" font-size="3.9" fill="#1a2d38" text-anchor="middle">1</text>
<text x="170.02" y="310.92" font-size="3.9" fill="#1a2d38" text-anchor="middle">2</text>
<text x="194.91" y="310.92" font-size="3.9" fill="#1a2d38" text-anchor="middle">1</text>
<text x="204.87" y="310.92" font-size="3.9" fill="#1a2d38" text-anchor="middle">1</text>
<text x="229.76" y="310.92" font-size="3.9" fill="#1a2d38" text-anchor="middle">1</text>
<text x="239.71" y="310.92" font-size="3.9" fill="#1a2d38" text-anchor="middle">1</text>
<text x="249.67" y="310.92" font-size="3.9" fill="#1a2d38" text-anchor="middle">1</text>
<text x="254.64" y="310.92" font-size="3.9" fill="#1a2d38" text-anchor="middle">1</text>
<text x="274.56" y="310.92" font-size="3.9" fill="#1a2d38" text-anchor="middle">1</text>
<text x="284.51" y="310.92" font-size="3.9" fill="#1a2d38" text-anchor="middle">1</text>
<path d="M63.00 18.2V312.4M67.98 18.2V312.4M72.96 18.2V312.4M77.93 18.2V312.4M82.91 18.2V312.4M87.89 18.2V312.4M92.87 18.2V312.4M97.84 18.2V312.4M102.82 18.2V312.4M107.80 18.2V312.4M112.78 18.2V312.4M117.76 18.2V312.4M122.73 18.2V312.4M127.71 18.2V312.4M132.69 18.2V312.4M137.67 18.2V312.4M142.64 18.2V312.4M147.62 18.2V312.4M152.60 18.2V312.4M157.58 18.2V312.4M162.56 18.2V312.4M167.53 18.2V312.4M172.51 18.2V312.4M177.49 18.2V312.4M182.47 18.2V312.4M187.44 18.2V312.4M192.42 18.2V312.4M197.40 18.2V312.4M202.38 18.2V312.4M207.36 18.2V312.4M212.33 18.2V312.4M217.31 18.2V312.4M222.29 18.2V312.4M227.27 18.2V312.4M232.24 18.2V312.4M237.22 18.2V312.4M242.20 18.2V312.4M247.18 18.2V312.4M252.16 18.2V312.4M257.13 18.2V312.4M262.11 18.2V312.4M267.09 18.2V312.4M272.07 18.2V312.4M277.04 18.2V312.4M282.02 18.2V312.4M287.00 18.2V312.4M63.0 18.20H287.0M63.0 23.97H287.0M63.0 29.74H287.0M63.0 35.51H287.0M63.0 41.27H287.0M63.0 47.04H287.0M63.0 52.81H287.0M63.0 58.58H287.0M63.0 64.35H287.0M63.0 70.12H287.0M63.0 75.89H287.0M63.0 81.65H287.0M63.0 87.42H287.0M63.0 93.19H287.0M63.0 98.96H287.0M63.0 104.73H287.0M63.0 110.50H287.0M63.0 116.27H287.0M63.0 122.04H287.0M63.0 127.80H287.0M63.0 133.57H287.0M63.0 139.34H287.0M63.0 145.11H287.0M63.0 150.88H287.0M63.0 156.65H287.0M63.0 162.42H287.0M63.0 168.18H287.0M63.0 173.95H287.0M63.0 179.72H287.0M63.0 185.49H287.0M63.0 191.26H287.0M63.0 197.03H287.0M63.0 202.80H287.0M63.0 208.56H287.0M63.0 214.33H287.0M63.0 220.10H287.0M63.0 225.87H287.0M63.0 231.64H287.0M63.0 237.41H287.0M63.0 243.18H287.0M63.0 248.95H287.0M63.0 254.71H287.0M63.0 260.48H287.0M63.0 266.25H287.0M63.0 272.02H287.0M63.0 277.79H287.0M63.0 283.56H287.0M63.0 289.33H287.0M63.0 295.09H287.0M63.0 300.86H287.0M63.0 306.63H287.0M63.0 312.40H287.0" stroke="#636363" stroke-width="0.75" fill="none"/>
<text x="62.1" y="23.58" font-size="6" fill="#2e2e2e" text-anchor="end">OsWD40−51</text>
<text x="62.1" y="29.35" font-size="6" fill="#2e2e2e" text-anchor="end">OsWD40−50</text>
<text x="62.1" y="35.12" font-size="6" fill="#2e2e2e" text-anchor="end">OsWD40−49</text>
<text x="62.1" y="40.89" font-size="6" fill="#2e2e2e" text-anchor="end">OsWD40−48</text>
<text x="62.1" y="46.66" font-size="6" fill="#2e2e2e" text-anchor="end">OsWD40−47</text>
<text x="62.1" y="52.43" font-size="6" fill="#2e2e2e" text-anchor="end">OsWD40−46</text>
<text x="62.1" y="58.20" font-size="6" fill="#2e2e2e" text-anchor="end">OsWD40−45</text>
<text x="62.1" y="63.96" font-size="6" fill="#2e2e2e" text-anchor="end">OsWD40−44</text>
<text x="62.1" y="69.73" font-size="6" fill="#2e2e2e" text-anchor="end">OsWD40−43</text>
<text x="62.1" y="75.50" font-size="6" fill="#2e2e2e" text-anchor="end">OsWD40−42</text>
<text x="62.1" y="81.27" font-size="6" fill="#2e2e2e" text-anchor="end">OsWD40−41</text>
<text x="62.1" y="87.04" font-size="6" fill="#2e2e2e" text-anchor="end">OsWD40−40</text>
<text x="62.1" y="92.81" font-size="6" fill="#2e2e2e" text-anchor="end">OsWD40−39</text>
<text x="62.1" y="98.58" font-size="6" fill="#2e2e2e" text-anchor="end">OsWD40−38</text>
<text x="62.1" y="104.35" font-size="6" fill="#2e2e2e" text-anchor="end">OsWD40−37</text>
<text x="62.1" y="110.11" font-size="6" fill="#2e2e2e" text-anchor="end">OsWD40−36</text>
<text x="62.1" y="115.88" font-size="6" fill="#2e2e2e" text-anchor="end">OsWD40−35</text>
<text x="62.1" y="121.65" font-size="6" fill="#2e2e2e" text-anchor="end">OsWD40−34</text>
<text x="62.1" y="127.42" font-size="6" fill="#2e2e2e" text-anchor="end">OsWD40−33</text>
<text x="62.1" y="133.19" font-size="6" fill="#2e2e2e" text-anchor="end">OsWD40−32</text>
<text x="62.1" y="138.96" font-size="6" fill="#2e2e2e" text-anchor="end">OsWD40−31</text>
<text x="62.1" y="144.73" font-size="6" fill="#2e2e2e" text-anchor="end">OsWD40−30</text>
<text x="62.1" y="150.49" font-size="6" fill="#2e2e2e" text-anchor="end">OsWD40−29</text>
<text x="62.1" y="156.26" font-size="6" fill="#2e2e2e" text-anchor="end">OsWD40−28</text>
<text x="62.1" y="162.03" font-size="6" fill="#2e2e2e" text-anchor="end">OsWD40−27</text>
<text x="62.1" y="167.80" font-size="6" fill="#2e2e2e" text-anchor="end">OsWD40−26</text>
<text x="62.1" y="173.57" font-size="6" fill="#2e2e2e" text-anchor="end">OsWD40−25</text>
<text x="62.1" y="179.34" font-size="6" fill="#2e2e2e" text-anchor="end">OsWD40−24</text>
<text x="62.1" y="185.11" font-size="6" fill="#2e2e2e" text-anchor="end">OsWD40−23</text>
<text x="62.1" y="190.87" font-size="6" fill="#2e2e2e" text-anchor="end">OsWD40−22</text>
<text x="62.1" y="196.64" font-size="6" fill="#2e2e2e" text-anchor="end">OsWD40−21</text>
<text x="62.1" y="202.41" font-size="6" fill="#2e2e2e" text-anchor="end">OsWD40−20</text>
<text x="62.1" y="208.18" font-size="6" fill="#2e2e2e" text-anchor="end">OsWD40−19</text>
<text x="62.1" y="213.95" font-size="6" fill="#2e2e2e" text-anchor="end">OsWD40−18</text>
<text x="62.1" y="219.72" font-size="6" fill="#2e2e2e" text-anchor="end">OsWD40−17</text>
<text x="62.1" y="225.49" font-size="6" fill="#2e2e2e" text-anchor="end">OsWD40−16</text>
<text x="62.1" y="231.25" font-size="6" fill="#2e2e2e" text-anchor="end">OsWD40−15</text>
<text x="62.1" y="237.02" font-size="6" fill="#2e2e2e" text-anchor="end">OsWD40−14</text>
<text x="62.1" y="242.79" font-size="6" fill="#2e2e2e" text-anchor="end">OsWD40−13</text>
<text x="62.1" y="248.56" font-size="6" fill="#2e2e2e" text-anchor="end">OsWD40−12</text>
<text x="62.1" y="254.33" font-size="6" fill="#2e2e2e" text-anchor="end">OsWD40−11</text>
<text x="62.1" y="260.10" font-size="6" fill="#2e2e2e" text-anchor="end">OsWD40−10</text>
<text x="62.1" y="265.87" font-size="6" fill="#2e2e2e" text-anchor="end">OsWD40−9</text>
<text x="62.1" y="271.64" font-size="6" fill="#2e2e2e" text-anchor="end">OsWD40−8</text>
<text x="62.1" y="277.40" font-size="6" fill="#2e2e2e" text-anchor="end">OsWD40−7</text>
<text x="62.1" y="283.17" font-size="6" fill="#2e2e2e" text-anchor="end">OsWD40−6</text>
<text x="62.1" y="288.94" font-size="6" fill="#2e2e2e" text-anchor="end">OsWD40−5</text>
<text x="62.1" y="294.71" font-size="6" fill="#2e2e2e" text-anchor="end">OsWD40−4</text>
<text x="62.1" y="300.48" font-size="6" fill="#2e2e2e" text-anchor="end">OsWD40−3</text>
<text x="62.1" y="306.25" font-size="6" fill="#2e2e2e" text-anchor="end">OsWD40−2</text>
<text x="62.1" y="312.02" font-size="6" fill="#2e2e2e" text-anchor="end">OsWD40−1</text>
<text transform="translate(66.89,314.3) rotate(-90)" font-size="4" fill="#3a3a3a" stroke="#3a3a3a" stroke-width="0.05" text-anchor="end">ARE</text>
<text transform="translate(71.87,314.3) rotate(-90)" font-size="4" fill="#3a3a3a" stroke="#3a3a3a" stroke-width="0.05" text-anchor="end">GC-motif</text>
<text transform="translate(76.84,314.3) rotate(-90)" font-size="4" fill="#3a3a3a" stroke="#3a3a3a" stroke-width="0.05" text-anchor="end">LTR</text>
<text transform="translate(81.82,314.3) rotate(-90)" font-size="4" fill="#3a3a3a" stroke="#3a3a3a" stroke-width="0.05" text-anchor="end">MBS</text>
<text transform="translate(86.80,314.3) rotate(-90)" font-size="4" fill="#3a3a3a" stroke="#3a3a3a" stroke-width="0.05" text-anchor="end">TC-rich repeats</text>
<text transform="translate(91.78,314.3) rotate(-90)" font-size="4" fill="#3a3a3a" stroke="#3a3a3a" stroke-width="0.05" text-anchor="end">ABRE</text>
<text transform="translate(96.76,314.3) rotate(-90)" font-size="4" fill="#3a3a3a" stroke="#3a3a3a" stroke-width="0.05" text-anchor="end">AuxRR-core</text>
<text transform="translate(101.73,314.3) rotate(-90)" font-size="4" fill="#3a3a3a" stroke="#3a3a3a" stroke-width="0.05" text-anchor="end">CGTCA-motif</text>
<text transform="translate(106.71,314.3) rotate(-90)" font-size="4" fill="#3a3a3a" stroke="#3a3a3a" stroke-width="0.05" text-anchor="end">GARE-motif</text>
<text transform="translate(111.69,314.3) rotate(-90)" font-size="4" fill="#3a3a3a" stroke="#3a3a3a" stroke-width="0.05" text-anchor="end">P-box</text>
<text transform="translate(116.67,314.3) rotate(-90)" font-size="4" fill="#3a3a3a" stroke="#3a3a3a" stroke-width="0.05" text-anchor="end">TATC-box</text>
<text transform="translate(121.64,314.3) rotate(-90)" font-size="4" fill="#3a3a3a" stroke="#3a3a3a" stroke-width="0.05" text-anchor="end">TCA-element</text>
<text transform="translate(126.62,314.3) rotate(-90)" font-size="4" fill="#3a3a3a" stroke="#3a3a3a" stroke-width="0.05" text-anchor="end">TGA-element</text>
<text transform="translate(131.60,314.3) rotate(-90)" font-size="4" fill="#3a3a3a" stroke="#3a3a3a" stroke-width="0.05" text-anchor="end">TGACG-motif</text>
<text transform="translate(136.58,314.3) rotate(-90)" font-size="4" fill="#3a3a3a" stroke="#3a3a3a" stroke-width="0.05" text-anchor="end">CAT-box</text>
<text transform="translate(141.56,314.3) rotate(-90)" font-size="4" fill="#3a3a3a" stroke="#3a3a3a" stroke-width="0.05" text-anchor="end">circadian</text>
<text transform="translate(146.53,314.3) rotate(-90)" font-size="4" fill="#3a3a3a" stroke="#3a3a3a" stroke-width="0.05" text-anchor="end">GCN4_motif</text>
<text transform="translate(151.51,314.3) rotate(-90)" font-size="4" fill="#3a3a3a" stroke="#3a3a3a" stroke-width="0.05" text-anchor="end">HD-Zip 1</text>
<text transform="translate(156.49,314.3) rotate(-90)" font-size="4" fill="#3a3a3a" stroke="#3a3a3a" stroke-width="0.05" text-anchor="end">MBSI</text>
<text transform="translate(161.47,314.3) rotate(-90)" font-size="4" fill="#3a3a3a" stroke="#3a3a3a" stroke-width="0.05" text-anchor="end">motif I</text>
<text transform="translate(166.44,314.3) rotate(-90)" font-size="4" fill="#3a3a3a" stroke="#3a3a3a" stroke-width="0.05" text-anchor="end">MSA-like</text>
<text transform="translate(171.42,314.3) rotate(-90)" font-size="4" fill="#3a3a3a" stroke="#3a3a3a" stroke-width="0.05" text-anchor="end">O2-site</text>
<text transform="translate(176.40,314.3) rotate(-90)" font-size="4" fill="#3a3a3a" stroke="#3a3a3a" stroke-width="0.05" text-anchor="end">RY-element</text>
<text transform="translate(181.38,314.3) rotate(-90)" font-size="4" fill="#3a3a3a" stroke="#3a3a3a" stroke-width="0.05" text-anchor="end">SKN-1_motif</text>
<text transform="translate(186.36,314.3) rotate(-90)" font-size="4" fill="#3a3a3a" stroke="#3a3a3a" stroke-width="0.05" text-anchor="end">3-AF1 binding site</text>
<text transform="translate(191.33,314.3) rotate(-90)" font-size="4" fill="#3a3a3a" stroke="#3a3a3a" stroke-width="0.05" text-anchor="end">ACE</text>
<text transform="translate(196.31,314.3) rotate(-90)" font-size="4" fill="#3a3a3a" stroke="#3a3a3a" stroke-width="0.05" text-anchor="end">AE-box</text>
<text transform="translate(201.29,314.3) rotate(-90)" font-size="4" fill="#3a3a3a" stroke="#3a3a3a" stroke-width="0.05" text-anchor="end">AT1-motif</text>
<text transform="translate(206.27,314.3) rotate(-90)" font-size="4" fill="#3a3a3a" stroke="#3a3a3a" stroke-width="0.05" text-anchor="end">ATC-motif</text>
<text transform="translate(211.24,314.3) rotate(-90)" font-size="4" fill="#3a3a3a" stroke="#3a3a3a" stroke-width="0.05" text-anchor="end">Box 4</text>
<text transform="translate(216.22,314.3) rotate(-90)" font-size="4" fill="#3a3a3a" stroke="#3a3a3a" stroke-width="0.05" text-anchor="end">Box II</text>
<text transform="translate(221.20,314.3) rotate(-90)" font-size="4" fill="#3a3a3a" stroke="#3a3a3a" stroke-width="0.05" text-anchor="end">C-box</text>
<text transform="translate(226.18,314.3) rotate(-90)" font-size="4" fill="#3a3a3a" stroke="#3a3a3a" stroke-width="0.05" text-anchor="end">chs-CMA1a</text>
<text transform="translate(231.16,314.3) rotate(-90)" font-size="4" fill="#3a3a3a" stroke="#3a3a3a" stroke-width="0.05" text-anchor="end">G-box</text>
<text transform="translate(236.13,314.3) rotate(-90)" font-size="4" fill="#3a3a3a" stroke="#3a3a3a" stroke-width="0.05" text-anchor="end">G-Box</text>
<text transform="translate(241.11,314.3) rotate(-90)" font-size="4" fill="#3a3a3a" stroke="#3a3a3a" stroke-width="0.05" text-anchor="end">GA-motif</text>
<text transform="translate(246.09,314.3) rotate(-90)" font-size="4" fill="#3a3a3a" stroke="#3a3a3a" stroke-width="0.05" text-anchor="end">GATA-motif</text>
<text transform="translate(251.07,314.3) rotate(-90)" font-size="4" fill="#3a3a3a" stroke="#3a3a3a" stroke-width="0.05" text-anchor="end">GT1-motif</text>
<text transform="translate(256.04,314.3) rotate(-90)" font-size="4" fill="#3a3a3a" stroke="#3a3a3a" stroke-width="0.05" text-anchor="end">I-box</text>
<text transform="translate(261.02,314.3) rotate(-90)" font-size="4" fill="#3a3a3a" stroke="#3a3a3a" stroke-width="0.05" text-anchor="end">L-box</text>
<text transform="translate(266.00,314.3) rotate(-90)" font-size="4" fill="#3a3a3a" stroke="#3a3a3a" stroke-width="0.05" text-anchor="end">LAMP-element</text>
<text transform="translate(270.98,314.3) rotate(-90)" font-size="4" fill="#3a3a3a" stroke="#3a3a3a" stroke-width="0.05" text-anchor="end">MRE</text>
<text transform="translate(275.96,314.3) rotate(-90)" font-size="4" fill="#3a3a3a" stroke="#3a3a3a" stroke-width="0.05" text-anchor="end">Sp1</text>
<text transform="translate(280.93,314.3) rotate(-90)" font-size="4" fill="#3a3a3a" stroke="#3a3a3a" stroke-width="0.05" text-anchor="end">TCCC-motif</text>
<text transform="translate(285.91,314.3) rotate(-90)" font-size="4" fill="#3a3a3a" stroke="#3a3a3a" stroke-width="0.05" text-anchor="end">TCT-motif</text>
<line x1="61.5" y1="352.4" x2="86.2" y2="352.4" stroke="#555" stroke-width="0.9"/>
<line x1="88.8" y1="352.4" x2="129.2" y2="352.4" stroke="#555" stroke-width="0.9"/>
<line x1="132.9" y1="352.4" x2="179.2" y2="352.4" stroke="#555" stroke-width="0.9"/>
<line x1="183.1" y1="352.4" x2="285" y2="352.4" stroke="#555" stroke-width="0.9"/>
<text x="74.2" y="369.9" font-size="7.9" fill="#1a1a1a" stroke="#1a1a1a" stroke-width="0.08" text-anchor="middle">Abiotic</text>
<text x="109.5" y="369.9" font-size="7.9" fill="#1a1a1a" stroke="#1a1a1a" stroke-width="0.08" text-anchor="middle">Hormone-</text>
<text x="108.6" y="380.0" font-size="7.9" fill="#1a1a1a" stroke="#1a1a1a" stroke-width="0.08" text-anchor="middle">related</text>
<text x="157" y="369.9" font-size="7.9" fill="#1a1a1a" stroke="#1a1a1a" stroke-width="0.08" text-anchor="middle">Development-</text>
<text x="155.4" y="379.9" font-size="7.9" fill="#1a1a1a" stroke="#1a1a1a" stroke-width="0.08" text-anchor="middle">related</text>
<text x="234.8" y="369.9" font-size="7.9" fill="#1a1a1a" stroke="#1a1a1a" stroke-width="0.08" text-anchor="middle">Light responsive</text>
<text x="28" y="10.6" font-size="8" font-weight="bold" fill="#000">a</text>
<path d="M290.2 18.0H531.0M290.2 312.2H531.0M290.2 18.0V312.2" stroke="#dedede" stroke-width="0.9" fill="none"/>
<path d="M531.0 17.55V312.65" stroke="#b3b3b3" stroke-width="1" fill="none"/>
<rect x="291.10" y="18.49" width="53.82" height="5.19" fill="#5aa7d1"/>
<rect x="344.92" y="18.49" width="8.28" height="5.19" fill="#f57f69"/>
<rect x="353.20" y="18.49" width="28.98" height="5.19" fill="#fdb86e"/>
<rect x="382.18" y="18.49" width="20.70" height="5.19" fill="#5ecbc5"/>
<rect x="291.10" y="24.26" width="20.70" height="5.19" fill="#5aa7d1"/>
<rect x="311.80" y="24.26" width="16.56" height="5.19" fill="#f57f69"/>
<rect x="328.36" y="24.26" width="41.40" height="5.19" fill="#fdb86e"/>
<rect x="369.76" y="24.26" width="4.14" height="5.19" fill="#5ecbc5"/>
<rect x="291.10" y="30.03" width="45.54" height="5.19" fill="#5aa7d1"/>
<rect x="336.64" y="30.03" width="66.24" height="5.19" fill="#fdb86e"/>
<rect x="402.88" y="30.03" width="8.28" height="5.19" fill="#5ecbc5"/>
<rect x="291.10" y="35.79" width="78.66" height="5.19" fill="#5aa7d1"/>
<rect x="369.76" y="35.79" width="99.36" height="5.19" fill="#fdb86e"/>
<rect x="469.12" y="35.79" width="4.14" height="5.19" fill="#5ecbc5"/>
<rect x="291.10" y="41.56" width="24.84" height="5.19" fill="#5aa7d1"/>
<rect x="315.94" y="41.56" width="16.56" height="5.19" fill="#f57f69"/>
<rect x="332.50" y="41.56" width="41.40" height="5.19" fill="#fdb86e"/>
<rect x="373.90" y="41.56" width="12.42" height="5.19" fill="#5ecbc5"/>
<rect x="291.10" y="47.33" width="33.12" height="5.19" fill="#5aa7d1"/>
<rect x="324.22" y="47.33" width="8.28" height="5.19" fill="#f57f69"/>
<rect x="332.50" y="47.33" width="12.42" height="5.19" fill="#fdb86e"/>
<rect x="344.92" y="47.33" width="20.70" height="5.19" fill="#5ecbc5"/>
<rect x="291.10" y="53.10" width="57.96" height="5.19" fill="#5aa7d1"/>
<rect x="349.06" y="53.10" width="8.28" height="5.19" fill="#f57f69"/>
<rect x="357.34" y="53.10" width="45.54" height="5.19" fill="#fdb86e"/>
<rect x="402.88" y="53.10" width="20.70" height="5.19" fill="#5ecbc5"/>
<rect x="291.10" y="58.87" width="45.54" height="5.19" fill="#5aa7d1"/>
<rect x="336.64" y="58.87" width="91.08" height="5.19" fill="#fdb86e"/>
<rect x="427.72" y="58.87" width="24.84" height="5.19" fill="#5ecbc5"/>
<rect x="291.10" y="64.64" width="53.82" height="5.19" fill="#5aa7d1"/>
<rect x="344.92" y="64.64" width="8.28" height="5.19" fill="#f57f69"/>
<rect x="353.20" y="64.64" width="8.28" height="5.19" fill="#fdb86e"/>
<rect x="361.48" y="64.64" width="37.26" height="5.19" fill="#5ecbc5"/>
<rect x="291.10" y="70.41" width="62.10" height="5.19" fill="#5aa7d1"/>
<rect x="353.20" y="70.41" width="12.42" height="5.19" fill="#f57f69"/>
<rect x="365.62" y="70.41" width="28.98" height="5.19" fill="#fdb86e"/>
<rect x="394.60" y="70.41" width="33.12" height="5.19" fill="#5ecbc5"/>
<rect x="291.10" y="76.17" width="24.84" height="5.19" fill="#5aa7d1"/>
<rect x="315.94" y="76.17" width="16.56" height="5.19" fill="#f57f69"/>
<rect x="332.50" y="76.17" width="20.70" height="5.19" fill="#fdb86e"/>
<rect x="353.20" y="76.17" width="20.70" height="5.19" fill="#5ecbc5"/>
<rect x="291.10" y="81.94" width="62.10" height="5.19" fill="#5aa7d1"/>
<rect x="353.20" y="81.94" width="8.28" height="5.19" fill="#f57f69"/>
<rect x="361.48" y="81.94" width="45.54" height="5.19" fill="#fdb86e"/>
<rect x="407.02" y="81.94" width="4.14" height="5.19" fill="#5ecbc5"/>
<rect x="291.10" y="87.71" width="33.12" height="5.19" fill="#5aa7d1"/>
<rect x="324.22" y="87.71" width="8.28" height="5.19" fill="#fdb86e"/>
<rect x="332.50" y="87.71" width="20.70" height="5.19" fill="#5ecbc5"/>
<rect x="291.10" y="93.48" width="37.26" height="5.19" fill="#5aa7d1"/>
<rect x="328.36" y="93.48" width="8.28" height="5.19" fill="#f57f69"/>
<rect x="336.64" y="93.48" width="37.26" height="5.19" fill="#fdb86e"/>
<rect x="373.90" y="93.48" width="20.70" height="5.19" fill="#5ecbc5"/>
<rect x="291.10" y="99.25" width="53.82" height="5.19" fill="#5aa7d1"/>
<rect x="344.92" y="99.25" width="8.28" height="5.19" fill="#f57f69"/>
<rect x="353.20" y="99.25" width="45.54" height="5.19" fill="#fdb86e"/>
<rect x="398.74" y="99.25" width="8.28" height="5.19" fill="#5ecbc5"/>
<rect x="291.10" y="105.02" width="37.26" height="5.19" fill="#5aa7d1"/>
<rect x="328.36" y="105.02" width="12.42" height="5.19" fill="#f57f69"/>
<rect x="340.78" y="105.02" width="28.98" height="5.19" fill="#fdb86e"/>
<rect x="369.76" y="105.02" width="12.42" height="5.19" fill="#5ecbc5"/>
<rect x="291.10" y="110.79" width="53.82" height="5.19" fill="#5aa7d1"/>
<rect x="344.92" y="110.79" width="4.14" height="5.19" fill="#f57f69"/>
<rect x="349.06" y="110.79" width="41.40" height="5.19" fill="#fdb86e"/>
<rect x="390.46" y="110.79" width="41.40" height="5.19" fill="#5ecbc5"/>
<rect x="291.10" y="116.56" width="86.94" height="5.19" fill="#5aa7d1"/>
<rect x="378.04" y="116.56" width="12.42" height="5.19" fill="#f57f69"/>
<rect x="390.46" y="116.56" width="95.22" height="5.19" fill="#fdb86e"/>
<rect x="485.68" y="116.56" width="20.70" height="5.19" fill="#5ecbc5"/>
<rect x="291.10" y="122.32" width="70.38" height="5.19" fill="#5aa7d1"/>
<rect x="361.48" y="122.32" width="4.14" height="5.19" fill="#f57f69"/>
<rect x="365.62" y="122.32" width="24.84" height="5.19" fill="#fdb86e"/>
<rect x="390.46" y="122.32" width="24.84" height="5.19" fill="#5ecbc5"/>
<rect x="291.10" y="128.09" width="57.96" height="5.19" fill="#5aa7d1"/>
<rect x="349.06" y="128.09" width="12.42" height="5.19" fill="#f57f69"/>
<rect x="361.48" y="128.09" width="45.54" height="5.19" fill="#fdb86e"/>
<rect x="407.02" y="128.09" width="41.40" height="5.19" fill="#5ecbc5"/>
<rect x="291.10" y="133.86" width="28.98" height="5.19" fill="#5aa7d1"/>
<rect x="320.08" y="133.86" width="12.42" height="5.19" fill="#f57f69"/>
<rect x="332.50" y="133.86" width="49.68" height="5.19" fill="#fdb86e"/>
<rect x="382.18" y="133.86" width="12.42" height="5.19" fill="#5ecbc5"/>
<rect x="291.10" y="139.63" width="49.68" height="5.19" fill="#5aa7d1"/>
<rect x="340.78" y="139.63" width="4.14" height="5.19" fill="#f57f69"/>
<rect x="344.92" y="139.63" width="57.96" height="5.19" fill="#fdb86e"/>
<rect x="402.88" y="139.63" width="49.68" height="5.19" fill="#5ecbc5"/>
<rect x="291.10" y="145.40" width="33.12" height="5.19" fill="#5aa7d1"/>
<rect x="324.22" y="145.40" width="4.14" height="5.19" fill="#f57f69"/>
<rect x="328.36" y="145.40" width="37.26" height="5.19" fill="#fdb86e"/>
<rect x="365.62" y="145.40" width="45.54" height="5.19" fill="#5ecbc5"/>
<rect x="291.10" y="151.17" width="24.84" height="5.19" fill="#5aa7d1"/>
<rect x="315.94" y="151.17" width="12.42" height="5.19" fill="#f57f69"/>
<rect x="328.36" y="151.17" width="16.56" height="5.19" fill="#fdb86e"/>
<rect x="344.92" y="151.17" width="16.56" height="5.19" fill="#5ecbc5"/>
<rect x="291.10" y="156.94" width="28.98" height="5.19" fill="#5aa7d1"/>
<rect x="320.08" y="156.94" width="8.28" height="5.19" fill="#f57f69"/>
<rect x="328.36" y="156.94" width="49.68" height="5.19" fill="#fdb86e"/>
<rect x="378.04" y="156.94" width="12.42" height="5.19" fill="#5ecbc5"/>
<rect x="291.10" y="162.70" width="41.40" height="5.19" fill="#5aa7d1"/>
<rect x="332.50" y="162.70" width="4.14" height="5.19" fill="#f57f69"/>
<rect x="336.64" y="162.70" width="20.70" height="5.19" fill="#fdb86e"/>
<rect x="357.34" y="162.70" width="24.84" height="5.19" fill="#5ecbc5"/>
<rect x="291.10" y="168.47" width="45.54" height="5.19" fill="#5aa7d1"/>
<rect x="336.64" y="168.47" width="12.42" height="5.19" fill="#f57f69"/>
<rect x="349.06" y="168.47" width="57.96" height="5.19" fill="#fdb86e"/>
<rect x="407.02" y="168.47" width="33.12" height="5.19" fill="#5ecbc5"/>
<rect x="291.10" y="174.24" width="37.26" height="5.19" fill="#5aa7d1"/>
<rect x="328.36" y="174.24" width="12.42" height="5.19" fill="#fdb86e"/>
<rect x="340.78" y="174.24" width="24.84" height="5.19" fill="#5ecbc5"/>
<rect x="291.10" y="180.01" width="57.96" height="5.19" fill="#5aa7d1"/>
<rect x="349.06" y="180.01" width="20.70" height="5.19" fill="#fdb86e"/>
<rect x="369.76" y="180.01" width="8.28" height="5.19" fill="#5ecbc5"/>
<rect x="291.10" y="185.78" width="37.26" height="5.19" fill="#5aa7d1"/>
<rect x="328.36" y="185.78" width="8.28" height="5.19" fill="#f57f69"/>
<rect x="336.64" y="185.78" width="20.70" height="5.19" fill="#fdb86e"/>
<rect x="357.34" y="185.78" width="12.42" height="5.19" fill="#5ecbc5"/>
<rect x="291.10" y="191.55" width="37.26" height="5.19" fill="#5aa7d1"/>
<rect x="328.36" y="191.55" width="16.56" height="5.19" fill="#f57f69"/>
<rect x="344.92" y="191.55" width="37.26" height="5.19" fill="#fdb86e"/>
<rect x="382.18" y="191.55" width="8.28" height="5.19" fill="#5ecbc5"/>
<rect x="291.10" y="197.32" width="28.98" height="5.19" fill="#5aa7d1"/>
<rect x="320.08" y="197.32" width="16.56" height="5.19" fill="#f57f69"/>
<rect x="336.64" y="197.32" width="28.98" height="5.19" fill="#fdb86e"/>
<rect x="365.62" y="197.32" width="8.28" height="5.19" fill="#5ecbc5"/>
<rect x="291.10" y="203.08" width="86.94" height="5.19" fill="#5aa7d1"/>
<rect x="378.04" y="203.08" width="4.14" height="5.19" fill="#f57f69"/>
<rect x="382.18" y="203.08" width="33.12" height="5.19" fill="#fdb86e"/>
<rect x="415.30" y="203.08" width="33.12" height="5.19" fill="#5ecbc5"/>
<rect x="291.10" y="208.85" width="33.12" height="5.19" fill="#5aa7d1"/>
<rect x="324.22" y="208.85" width="45.54" height="5.19" fill="#fdb86e"/>
<rect x="369.76" y="208.85" width="20.70" height="5.19" fill="#5ecbc5"/>
<rect x="291.10" y="214.62" width="41.40" height="5.19" fill="#5aa7d1"/>
<rect x="332.50" y="214.62" width="12.42" height="5.19" fill="#f57f69"/>
<rect x="344.92" y="214.62" width="45.54" height="5.19" fill="#fdb86e"/>
<rect x="390.46" y="214.62" width="20.70" height="5.19" fill="#5ecbc5"/>
<rect x="291.10" y="220.39" width="53.82" height="5.19" fill="#5aa7d1"/>
<rect x="344.92" y="220.39" width="4.14" height="5.19" fill="#f57f69"/>
<rect x="349.06" y="220.39" width="12.42" height="5.19" fill="#fdb86e"/>
<rect x="361.48" y="220.39" width="8.28" height="5.19" fill="#5ecbc5"/>
<rect x="291.10" y="226.16" width="45.54" height="5.19" fill="#5aa7d1"/>
<rect x="336.64" y="226.16" width="12.42" height="5.19" fill="#f57f69"/>
<rect x="349.06" y="226.16" width="28.98" height="5.19" fill="#fdb86e"/>
<rect x="378.04" y="226.16" width="37.26" height="5.19" fill="#5ecbc5"/>
<rect x="291.10" y="231.93" width="57.96" height="5.19" fill="#5aa7d1"/>
<rect x="349.06" y="231.93" width="12.42" height="5.19" fill="#f57f69"/>
<rect x="361.48" y="231.93" width="41.40" height="5.19" fill="#fdb86e"/>
<rect x="402.88" y="231.93" width="12.42" height="5.19" fill="#5ecbc5"/>
<rect x="291.10" y="237.70" width="37.26" height="5.19" fill="#5aa7d1"/>
<rect x="328.36" y="237.70" width="12.42" height="5.19" fill="#f57f69"/>
<rect x="340.78" y="237.70" width="82.80" height="5.19" fill="#fdb86e"/>
<rect x="423.58" y="237.70" width="8.28" height="5.19" fill="#5ecbc5"/>
<rect x="291.10" y="243.46" width="8.28" height="5.19" fill="#5aa7d1"/>
<rect x="299.38" y="243.46" width="12.42" height="5.19" fill="#f57f69"/>
<rect x="311.80" y="243.46" width="24.84" height="5.19" fill="#fdb86e"/>
<rect x="336.64" y="243.46" width="16.56" height="5.19" fill="#5ecbc5"/>
<rect x="291.10" y="249.23" width="24.84" height="5.19" fill="#5aa7d1"/>
<rect x="315.94" y="249.23" width="8.28" height="5.19" fill="#f57f69"/>
<rect x="324.22" y="249.23" width="53.82" height="5.19" fill="#fdb86e"/>
<rect x="378.04" y="249.23" width="4.14" height="5.19" fill="#5ecbc5"/>
<rect x="291.10" y="255.00" width="53.82" height="5.19" fill="#5aa7d1"/>
<rect x="344.92" y="255.00" width="4.14" height="5.19" fill="#f57f69"/>
<rect x="349.06" y="255.00" width="20.70" height="5.19" fill="#fdb86e"/>
<rect x="369.76" y="255.00" width="20.70" height="5.19" fill="#5ecbc5"/>
<rect x="291.10" y="260.77" width="74.52" height="5.19" fill="#5aa7d1"/>
<rect x="365.62" y="260.77" width="8.28" height="5.19" fill="#f57f69"/>
<rect x="373.90" y="260.77" width="41.40" height="5.19" fill="#fdb86e"/>
<rect x="415.30" y="260.77" width="20.70" height="5.19" fill="#5ecbc5"/>
<rect x="291.10" y="266.54" width="78.66" height="5.19" fill="#5aa7d1"/>
<rect x="369.76" y="266.54" width="12.42" height="5.19" fill="#f57f69"/>
<rect x="382.18" y="266.54" width="62.10" height="5.19" fill="#fdb86e"/>
<rect x="444.28" y="266.54" width="20.70" height="5.19" fill="#5ecbc5"/>
<rect x="291.10" y="272.31" width="78.66" height="5.19" fill="#5aa7d1"/>
<rect x="369.76" y="272.31" width="4.14" height="5.19" fill="#f57f69"/>
<rect x="373.90" y="272.31" width="49.68" height="5.19" fill="#fdb86e"/>
<rect x="423.58" y="272.31" width="24.84" height="5.19" fill="#5ecbc5"/>
<rect x="291.10" y="278.08" width="28.98" height="5.19" fill="#5aa7d1"/>
<rect x="320.08" y="278.08" width="16.56" height="5.19" fill="#f57f69"/>
<rect x="336.64" y="278.08" width="33.12" height="5.19" fill="#fdb86e"/>
<rect x="369.76" y="278.08" width="37.26" height="5.19" fill="#5ecbc5"/>
<rect x="291.10" y="283.85" width="28.98" height="5.19" fill="#5aa7d1"/>
<rect x="320.08" y="283.85" width="20.70" height="5.19" fill="#f57f69"/>
<rect x="340.78" y="283.85" width="28.98" height="5.19" fill="#fdb86e"/>
<rect x="369.76" y="283.85" width="24.84" height="5.19" fill="#5ecbc5"/>
<rect x="291.10" y="289.61" width="57.96" height="5.19" fill="#5aa7d1"/>
<rect x="349.06" y="289.61" width="16.56" height="5.19" fill="#f57f69"/>
<rect x="365.62" y="289.61" width="49.68" height="5.19" fill="#fdb86e"/>
<rect x="415.30" y="289.61" width="24.84" height="5.19" fill="#5ecbc5"/>
<rect x="291.10" y="295.38" width="53.82" height="5.19" fill="#5aa7d1"/>
<rect x="344.92" y="295.38" width="4.14" height="5.19" fill="#f57f69"/>
<rect x="349.06" y="295.38" width="45.54" height="5.19" fill="#fdb86e"/>
<rect x="394.60" y="295.38" width="4.14" height="5.19" fill="#5ecbc5"/>
<rect x="291.10" y="301.15" width="45.54" height="5.19" fill="#5aa7d1"/>
<rect x="336.64" y="301.15" width="4.14" height="5.19" fill="#f57f69"/>
<rect x="340.78" y="301.15" width="82.80" height="5.19" fill="#fdb86e"/>
<rect x="423.58" y="301.15" width="28.98" height="5.19" fill="#5ecbc5"/>
<rect x="291.10" y="306.92" width="33.12" height="5.19" fill="#5aa7d1"/>
<rect x="324.22" y="306.92" width="12.42" height="5.19" fill="#f57f69"/>
<rect x="336.64" y="306.92" width="53.82" height="5.19" fill="#fdb86e"/>
<rect x="390.46" y="306.92" width="4.14" height="5.19" fill="#5ecbc5"/>
<path d="M291.10 312.2V314.0M332.50 312.2V314.0M373.90 312.2V314.0M415.30 312.2V314.0M456.70 312.2V314.0M498.10 312.2V314.0" stroke="#aaa" stroke-width="0.5"/>
<text x="291.10" y="319.8" font-size="6.4" fill="#222" stroke="#222" stroke-width="0.05" text-anchor="middle">0</text>
<text x="332.50" y="319.8" font-size="6.4" fill="#222" stroke="#222" stroke-width="0.05" text-anchor="middle">10</text>
<text x="373.90" y="319.8" font-size="6.4" fill="#222" stroke="#222" stroke-width="0.05" text-anchor="middle">20</text>
<text x="415.30" y="319.8" font-size="6.4" fill="#222" stroke="#222" stroke-width="0.05" text-anchor="middle">30</text>
<text x="456.70" y="319.8" font-size="6.4" fill="#222" stroke="#222" stroke-width="0.05" text-anchor="middle">40</text>
<text x="498.10" y="319.8" font-size="6.4" fill="#222" stroke="#222" stroke-width="0.05" text-anchor="middle">50</text>
<text x="416.9" y="334.9" font-size="8.2" fill="#111" stroke="#111" stroke-width="0.07" text-anchor="middle">Cis-element number</text>
<text x="291" y="10.6" font-size="8" font-weight="bold" fill="#000">b</text>
<rect x="461.1" y="215.5" width="7.1" height="6.9" fill="#5ecbc5"/>
<text x="471" y="221.7" font-size="6.1" fill="#111" stroke="#111" stroke-width="0.06">Abiotic</text>
<rect x="461.1" y="225.7" width="7.1" height="6.9" fill="#fdb86e"/>
<text x="471" y="231.9" font-size="6.1" fill="#111" stroke="#111" stroke-width="0.06">Hormone-related</text>
<rect x="461.1" y="235.9" width="7.1" height="6.9" fill="#f57f69"/>
<text x="471" y="242.1" font-size="6.1" fill="#111" stroke="#111" stroke-width="0.06">Development−related</text>
<rect x="461.1" y="246.1" width="7.1" height="6.9" fill="#5aa7d1"/>
<text x="471" y="252.3" font-size="6.1" fill="#111" stroke="#111" stroke-width="0.06">Light responsive</text>
<path d="M155.60 494.00A55.4 55.4 0 0 1 80.98 545.96L87.71 527.76A36 36 0 0 0 136.20 494.00Z" fill="#ea6cb1"/>
<path d="M80.98 545.96A55.4 55.4 0 0 1 67.01 538.36L78.64 522.83A36 36 0 0 0 87.71 527.76Z" fill="#169fc3"/>
<path d="M67.01 538.36A55.4 55.4 0 0 1 57.58 529.39L72.50 517.00A36 36 0 0 0 78.64 522.83Z" fill="#9c9c1c"/>
<path d="M57.58 529.39A55.4 55.4 0 0 1 55.78 527.11L71.34 515.51A36 36 0 0 0 72.50 517.00Z" fill="#f2795c"/>
<path d="M55.78 527.11A55.4 55.4 0 0 1 75.05 444.64L83.86 461.92A36 36 0 0 0 71.34 515.51Z" fill="#06a794"/>
<path d="M75.05 444.64A55.4 55.4 0 0 1 84.00 441.02L89.67 459.57A36 36 0 0 0 83.86 461.92Z" fill="#a68ce2"/>
<path d="M84.00 441.02A55.4 55.4 0 0 1 128.48 446.36L118.58 463.05A36 36 0 0 0 89.67 459.57Z" fill="#ee6e86"/>
<path d="M128.48 446.36A55.4 55.4 0 0 1 130.29 447.49L119.75 463.77A36 36 0 0 0 118.58 463.05Z" fill="#16a63b"/>
<path d="M130.29 447.49A55.4 55.4 0 0 1 152.32 475.23L134.07 481.81A36 36 0 0 0 119.75 463.77Z" fill="#c8911f"/>
<path d="M152.32 475.23A55.4 55.4 0 0 1 155.60 494.00L136.20 494.00A36 36 0 0 0 134.07 481.81Z" fill="#0f98d2"/>
<text x="130.00" y="535.10" font-family='"Liberation Serif", serif' font-size="6.5" fill="#fff" text-anchor="middle">31%</text>
<line x1="132.54" y1="540.45" x2="133.80" y2="542.25" stroke="#777" stroke-width="0.45"/>
<text x="77.50" y="538.02" font-family='"Liberation Serif", serif' font-size="6.5" fill="#fff" text-anchor="middle">5%</text>
<line x1="73.15" y1="543.72" x2="72.10" y2="545.65" stroke="#777" stroke-width="0.45"/>
<text x="67.47" y="530.73" font-family='"Liberation Serif", serif' font-size="6.5" fill="#fff" text-anchor="middle">4%</text>
<line x1="61.20" y1="535.02" x2="59.69" y2="536.62" stroke="#777" stroke-width="0.45"/>
<text x="62.87" y="525.67" font-family='"Liberation Serif", serif' font-size="6.5" fill="#fff" text-anchor="middle">1%</text>
<line x1="55.72" y1="529.00" x2="53.99" y2="530.36" stroke="#777" stroke-width="0.45"/>
<text x="53.95" y="485.49" font-family='"Liberation Serif", serif' font-size="6.5" fill="#fff" text-anchor="middle">28%</text>
<line x1="45.08" y1="481.12" x2="42.94" y2="480.62" stroke="#777" stroke-width="0.45"/>
<text x="82.41" y="452.26" font-family='"Liberation Serif", serif' font-size="6.5" fill="#fff" text-anchor="middle">3%</text>
<line x1="79.00" y1="441.52" x2="78.17" y2="439.48" stroke="#777" stroke-width="0.45"/>
<text x="109.50" y="448.30" font-family='"Liberation Serif", serif' font-size="6.5" fill="#fff" text-anchor="middle">13%</text>
<line x1="106.95" y1="437.80" x2="107.21" y2="435.62" stroke="#777" stroke-width="0.45"/>
<text x="125.23" y="455.93" font-family='"Liberation Serif", serif' font-size="6.5" fill="#fff" text-anchor="middle">1%</text>
<line x1="130.03" y1="445.90" x2="131.19" y2="444.03" stroke="#777" stroke-width="0.45"/>
<text x="137.40" y="466.76" font-family='"Liberation Serif", serif' font-size="6.5" fill="#fff" text-anchor="middle">10%</text>
<line x1="144.53" y1="458.80" x2="146.25" y2="457.44" stroke="#777" stroke-width="0.45"/>
<text x="146.99" y="488.13" font-family='"Liberation Serif", serif' font-size="6.5" fill="#fff" text-anchor="middle">6%</text>
<line x1="155.96" y1="484.27" x2="158.12" y2="483.89" stroke="#777" stroke-width="0.45"/>
<path d="M255.97 443.13A55.5 55.5 0 0 1 327.70 496.20L308.20 496.20A36 36 0 0 0 261.67 461.77Z" fill="#0f98d2"/>
<path d="M327.70 496.20A55.5 55.5 0 0 1 323.80 516.63L305.67 509.45A36 36 0 0 0 308.20 496.20Z" fill="#a68ce2"/>
<path d="M323.80 516.63A55.5 55.5 0 1 1 220.60 475.77L238.73 482.95A36 36 0 1 0 305.67 509.45Z" fill="#ee6e86"/>
<path d="M220.60 475.77A55.5 55.5 0 0 1 231.74 458.21L245.96 471.56A36 36 0 0 0 238.73 482.95Z" fill="#16a63b"/>
<path d="M231.74 458.21A55.5 55.5 0 0 1 255.97 443.13L261.67 461.77A36 36 0 0 0 245.96 471.56Z" fill="#c8911f"/>
<text x="302.20" y="462.80" font-family='"Liberation Serif", serif' font-size="6.5" fill="#fff" text-anchor="middle">30%</text>
<line x1="305.93" y1="450.62" x2="307.24" y2="448.85" stroke="#777" stroke-width="0.45"/>
<text x="317.39" y="507.12" font-family='"Liberation Serif", serif' font-size="6.5" fill="#fff" text-anchor="middle">6%</text>
<line x1="327.90" y1="506.82" x2="330.06" y2="507.24" stroke="#777" stroke-width="0.45"/>
<text x="255.27" y="541.27" font-family='"Liberation Serif", serif' font-size="6.5" fill="#fff" text-anchor="middle">50%</text>
<line x1="251.33" y1="548.92" x2="250.52" y2="550.96" stroke="#777" stroke-width="0.45"/>
<text x="233.36" y="473.85" font-family='"Liberation Serif", serif' font-size="6.5" fill="#fff" text-anchor="middle">6%</text>
<line x1="224.33" y1="465.82" x2="222.47" y2="464.64" stroke="#777" stroke-width="0.45"/>
<text x="247.89" y="459.45" font-family='"Liberation Serif", serif' font-size="6.5" fill="#fff" text-anchor="middle">8%</text>
<line x1="242.24" y1="448.06" x2="241.07" y2="446.20" stroke="#777" stroke-width="0.45"/>
<path d="M414.32 463.22A55.6 55.6 0 0 1 514.90 495.90L495.30 495.90A36 36 0 0 0 430.18 474.74Z" fill="#0f98d2"/>
<path d="M514.90 495.90A55.6 55.6 0 0 1 491.98 540.88L480.46 525.02A36 36 0 0 0 495.30 495.90Z" fill="#a68ce2"/>
<path d="M491.98 540.88A55.6 55.6 0 0 1 432.51 544.62L441.96 527.45A36 36 0 0 0 480.46 525.02Z" fill="#ee6e86"/>
<path d="M432.51 544.62A55.6 55.6 0 0 1 414.32 528.58L430.18 517.06A36 36 0 0 0 441.96 527.45Z" fill="#16a63b"/>
<path d="M414.32 528.58A55.6 55.6 0 0 1 414.32 463.22L430.18 474.74A36 36 0 0 0 430.18 517.06Z" fill="#c8911f"/>
<text x="475.30" y="456.00" font-family='"Liberation Serif", serif' font-size="6.5" fill="#fff" text-anchor="middle">40%</text>
<line x1="476.85" y1="441.88" x2="477.53" y2="439.79" stroke="#777" stroke-width="0.45"/>
<text x="500.73" y="519.31" font-family='"Liberation Serif", serif' font-size="6.5" fill="#fff" text-anchor="middle">15%</text>
<line x1="509.91" y1="521.69" x2="511.87" y2="522.69" stroke="#777" stroke-width="0.45"/>
<text x="463.50" y="545.40" font-family='"Liberation Serif", serif' font-size="6.5" fill="#fff" text-anchor="middle">18%</text>
<line x1="462.87" y1="552.59" x2="463.00" y2="554.78" stroke="#777" stroke-width="0.45"/>
<text x="428.55" y="533.08" font-family='"Liberation Serif", serif' font-size="6.5" fill="#fff" text-anchor="middle">7%</text>
<line x1="421.74" y1="538.51" x2="420.28" y2="540.16" stroke="#777" stroke-width="0.45"/>
<text x="413.60" y="497.50" font-family='"Liberation Serif", serif' font-size="6.5" fill="#fff" text-anchor="middle">20%</text>
<line x1="402.50" y1="495.90" x2="400.30" y2="495.90" stroke="#777" stroke-width="0.45"/>
<text x="100.8" y="494.5" font-family='"Liberation Serif", serif' font-size="9.6" font-weight="bold" fill="#1a1a1a" text-anchor="middle">Development−</text>
<text x="102.4" y="505.8" font-family='"Liberation Serif", serif' font-size="9.6" font-weight="bold" fill="#1a1a1a" text-anchor="middle">related</text>
<text x="275.5" y="493.9" font-family='"Liberation Serif", serif' font-size="11.3" font-weight="bold" fill="#1a1a1a" text-anchor="middle">Hormone-</text>
<text x="275.8" y="507.5" font-family='"Liberation Serif", serif' font-size="11.3" font-weight="bold" fill="#1a1a1a" text-anchor="middle">related</text>
<text x="460.2" y="500.0" font-family='"Liberation Serif", serif' font-size="11.25" font-weight="bold" fill="#1a1a1a" text-anchor="middle">Abiotic</text>
<text x="11" y="435.0" font-family='"Liberation Serif", serif' font-size="6.7" fill="#161616" stroke="#161616" stroke-width="0.05" text-anchor="start">flavonoid biosynthetic</text>
<text x="11" y="443.2" font-family='"Liberation Serif", serif' font-size="6.7" fill="#161616" stroke="#161616" stroke-width="0.05" text-anchor="start">genes regulation</text>
<text x="107.3" y="431.2" font-family='"Liberation Serif", serif' font-size="6.7" fill="#161616" stroke="#161616" stroke-width="0.05" text-anchor="start">endosperm expression</text>
<text x="133.6" y="441.1" font-family='"Liberation Serif", serif' font-size="6.7" fill="#161616" stroke="#161616" stroke-width="0.05" text-anchor="start">differentiation of the</text>
<text x="133.6" y="450.0" font-family='"Liberation Serif", serif' font-size="6.7" fill="#161616" stroke="#161616" stroke-width="0.05" text-anchor="start">palisade mesophyll cells</text>
<text x="148.7" y="460.8" font-family='"Liberation Serif", serif' font-size="6.7" fill="#161616" stroke="#161616" stroke-width="0.05" text-anchor="start">circadian control</text>
<text x="160.4" y="484.3" font-family='"Liberation Serif", serif' font-size="6.7" fill="#161616" stroke="#161616" stroke-width="0.05" text-anchor="start">cell cycle regulation</text>
<text x="135.3" y="549.5" font-family='"Liberation Serif", serif' font-size="6.7" fill="#161616" stroke="#161616" stroke-width="0.05" text-anchor="start">zein metabolism regulation</text>
<text x="53" y="553.6" font-family='"Liberation Serif", serif' font-size="6.7" fill="#161616" stroke="#161616" stroke-width="0.05" text-anchor="start">wound</text>
<text x="53" y="561.2" font-family='"Liberation Serif", serif' font-size="6.7" fill="#161616" stroke="#161616" stroke-width="0.05" text-anchor="start">responsive</text>
<text x="17" y="533.6" font-family='"Liberation Serif", serif' font-size="6.7" fill="#161616" stroke="#161616" stroke-width="0.05" text-anchor="start">root specific</text>
<text x="17" y="541.2" font-family='"Liberation Serif", serif' font-size="6.7" fill="#161616" stroke="#161616" stroke-width="0.05" text-anchor="start">seed−specific</text>
<text x="17" y="548.8" font-family='"Liberation Serif", serif' font-size="6.7" fill="#161616" stroke="#161616" stroke-width="0.05" text-anchor="start">regulation</text>
<text x="5" y="481.6" font-family='"Liberation Serif", serif' font-size="6.7" fill="#161616" stroke="#161616" stroke-width="0.05" text-anchor="start">meristem</text>
<text x="5" y="489.2" font-family='"Liberation Serif", serif' font-size="6.7" fill="#161616" stroke="#161616" stroke-width="0.05" text-anchor="start">expression</text>
<text x="32" y="414" font-size="8" font-weight="bold" fill="#000">c</text>
<text x="226" y="443.5" font-family='"Liberation Serif", serif' font-size="6.7" fill="#161616" stroke="#161616" stroke-width="0.05" text-anchor="start">auxin</text>
<text x="196" y="462.7" font-family='"Liberation Serif", serif' font-size="6.7" fill="#161616" stroke="#161616" stroke-width="0.05" text-anchor="start">gibberellin</text>
<text x="311" y="447.4" font-family='"Liberation Serif", serif' font-size="6.7" fill="#161616" stroke="#161616" stroke-width="0.05" text-anchor="start">abscisic acid</text>
<text x="332.5" y="509.5" font-family='"Liberation Serif", serif' font-size="6.7" fill="#161616" stroke="#161616" stroke-width="0.05" text-anchor="start">salicylic acid</text>
<text x="241" y="558.4" font-family='"Liberation Serif", serif' font-size="6.7" fill="#161616" stroke="#161616" stroke-width="0.05" text-anchor="start">MeJA</text>
<text x="211" y="414" font-size="8" font-weight="bold" fill="#000">d</text>
<text x="480" y="434.5" font-family='"Liberation Serif", serif' font-size="6.7" fill="#161616" stroke="#161616" stroke-width="0.05" text-anchor="start">anaerobic</text>
<text x="480" y="442.7" font-family='"Liberation Serif", serif' font-size="6.7" fill="#161616" stroke="#161616" stroke-width="0.05" text-anchor="start">induction</text>
<text x="357" y="492.8" font-family='"Liberation Serif", serif' font-size="6.7" fill="#161616" stroke="#161616" stroke-width="0.05" text-anchor="start">anoxic specific</text>
<text x="357" y="500.7" font-family='"Liberation Serif", serif' font-size="6.7" fill="#161616" stroke="#161616" stroke-width="0.05" text-anchor="start">inducibility</text>
<text x="368.3" y="545.6" font-family='"Liberation Serif", serif' font-size="6.7" fill="#161616" stroke="#161616" stroke-width="0.05" text-anchor="start">defense and stress</text>
<text x="442" y="564.0" font-family='"Liberation Serif", serif' font-size="6.7" fill="#161616" stroke="#161616" stroke-width="0.05" text-anchor="start">drought inducibility</text>
<text x="513" y="527.5" font-family='"Liberation Serif", serif' font-size="6.7" fill="#161616" stroke="#161616" stroke-width="0.05" text-anchor="start">low−</text>
<text x="513" y="535.7" font-family='"Liberation Serif", serif' font-size="6.7" fill="#161616" stroke="#161616" stroke-width="0.05" text-anchor="start">temperature</text>
<text x="380" y="414" font-size="8" font-weight="bold" fill="#000">e</text>
</svg></body></html>
